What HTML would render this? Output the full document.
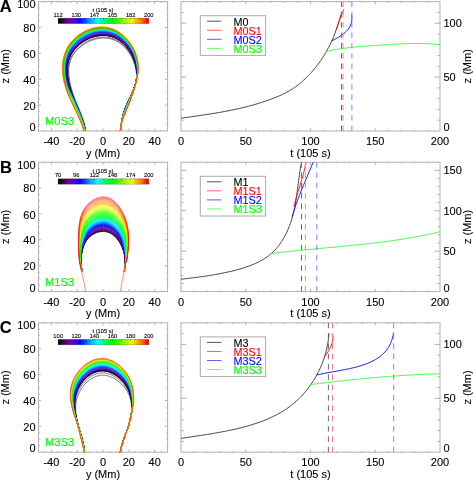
<!DOCTYPE html>
<html><head><meta charset="utf-8"><style>html,body{margin:0;padding:0;background:#fff;}svg{display:block;will-change:transform;}</style></head>
<body><svg width="473" height="480" viewBox="0 0 473 480" font-family='"Liberation Sans", sans-serif'>
<rect width="473" height="480" fill="#fff"/>
<defs>
<clipPath id="cl0"><rect x="38.5" y="1.6" width="129.1" height="129.4"/></clipPath>
<clipPath id="cr0"><rect x="181.0" y="1.6" width="259" height="129.4"/></clipPath>
<clipPath id="cl1"><rect x="38.5" y="162.2" width="129.1" height="129.4"/></clipPath>
<clipPath id="cl1b"><rect x="38.5" y="162.2" width="129.1" height="109.8"/></clipPath>
<clipPath id="cl1c"><rect x="38.5" y="268" width="129.1" height="23.6"/></clipPath>
<clipPath id="cr1"><rect x="181.0" y="162.2" width="259" height="129.4"/></clipPath>
<clipPath id="cl2"><rect x="38.5" y="322.8" width="129.1" height="129.4"/></clipPath>
<clipPath id="cr2"><rect x="181.0" y="322.8" width="259" height="129.4"/></clipPath>
<clipPath id="legA"><rect x="104" y="84" width="50" height="47"/></clipPath>
<clipPath id="legC"><rect x="104" y="414" width="50" height="38.2"/></clipPath>
</defs>
<text x="-0.2" y="11.5" font-size="16.5" font-weight="bold" stroke="#000" stroke-width="0.1" >A</text>
<path d="M44.95 131v-1.29M44.95 1.6v1.29M51.41 131v-2.59M51.41 1.6v2.59M57.86 131v-1.29M57.86 1.6v1.29M64.32 131v-1.29M64.32 1.6v1.29M70.78 131v-1.29M70.78 1.6v1.29M77.23 131v-2.59M77.23 1.6v2.59M83.69 131v-1.29M83.69 1.6v1.29M90.14 131v-1.29M90.14 1.6v1.29M96.59 131v-1.29M96.59 1.6v1.29M103.05 131v-2.59M103.05 1.6v2.59M109.51 131v-1.29M109.51 1.6v1.29M115.96 131v-1.29M115.96 1.6v1.29M122.42 131v-1.29M122.42 1.6v1.29M128.87 131v-2.59M128.87 1.6v2.59M135.32 131v-1.29M135.32 1.6v1.29M141.78 131v-1.29M141.78 1.6v1.29M148.23 131v-1.29M148.23 1.6v1.29M154.69 131v-2.59M154.69 1.6v2.59M161.14 131v-1.29M161.14 1.6v1.29M38.5 124.53h1.29M167.6 124.53h-1.29M38.5 118.06h1.29M167.6 118.06h-1.29M38.5 111.59h1.29M167.6 111.59h-1.29M38.5 105.12h2.58M167.6 105.12h-2.58M38.5 98.65h1.29M167.6 98.65h-1.29M38.5 92.18h1.29M167.6 92.18h-1.29M38.5 85.71h1.29M167.6 85.71h-1.29M38.5 79.24h2.58M167.6 79.24h-2.58M38.5 72.77h1.29M167.6 72.77h-1.29M38.5 66.3h1.29M167.6 66.3h-1.29M38.5 59.83h1.29M167.6 59.83h-1.29M38.5 53.36h2.58M167.6 53.36h-2.58M38.5 46.89h1.29M167.6 46.89h-1.29M38.5 40.42h1.29M167.6 40.42h-1.29M38.5 33.95h1.29M167.6 33.95h-1.29M38.5 27.48h2.58M167.6 27.48h-2.58M38.5 21.01h1.29M167.6 21.01h-1.29M38.5 14.54h1.29M167.6 14.54h-1.29M38.5 8.07h1.29M167.6 8.07h-1.29" stroke="#b0b0b0" stroke-width="1.0" fill="none"/>
<rect x="38.5" y="1.6" width="129.1" height="129.4" fill="none" stroke="#b0b0b0" stroke-width="1.0"/>
<text x="35.6" y="8.1" font-size="11.0" text-anchor="end" stroke="#000" stroke-width="0.1" >100</text>
<text x="35.6" y="31.7" font-size="11.0" text-anchor="end" stroke="#000" stroke-width="0.1" >80</text>
<text x="35.6" y="58" font-size="11.0" text-anchor="end" stroke="#000" stroke-width="0.1" >60</text>
<text x="35.6" y="83.6" font-size="11.0" text-anchor="end" stroke="#000" stroke-width="0.1" >40</text>
<text x="35.6" y="109.6" font-size="11.0" text-anchor="end" stroke="#000" stroke-width="0.1" >20</text>
<text x="35.6" y="131.2" font-size="11.0" text-anchor="end" stroke="#000" stroke-width="0.1" >0</text>
<text x="51.41" y="145.1" font-size="11.0" text-anchor="middle" stroke="#000" stroke-width="0.1" >-40</text>
<text x="77.23" y="145.1" font-size="11.0" text-anchor="middle" stroke="#000" stroke-width="0.1" >-20</text>
<text x="103.05" y="145.1" font-size="11.0" text-anchor="middle" stroke="#000" stroke-width="0.1" >0</text>
<text x="128.87" y="145.1" font-size="11.0" text-anchor="middle" stroke="#000" stroke-width="0.1" >20</text>
<text x="154.69" y="145.1" font-size="11.0" text-anchor="middle" stroke="#000" stroke-width="0.1" >40</text>
<text x="103" y="156.7" font-size="11.0" text-anchor="middle" stroke="#000" stroke-width="0.1" >y (Mm)</text>
<text x="9.3" y="66.3" font-size="11.0" text-anchor="middle" stroke="#000" stroke-width="0.1" transform="rotate(-90 9.3 66.3)">z (Mm)</text>
<path d="M193.95 131v-1.29M193.95 1.6v1.29M206.9 131v-1.29M206.9 1.6v1.29M219.85 131v-1.29M219.85 1.6v1.29M232.8 131v-1.29M232.8 1.6v1.29M245.75 131v-2.59M245.75 1.6v2.59M258.7 131v-1.29M258.7 1.6v1.29M271.65 131v-1.29M271.65 1.6v1.29M284.6 131v-1.29M284.6 1.6v1.29M297.55 131v-1.29M297.55 1.6v1.29M310.5 131v-2.59M310.5 1.6v2.59M323.45 131v-1.29M323.45 1.6v1.29M336.4 131v-1.29M336.4 1.6v1.29M349.35 131v-1.29M349.35 1.6v1.29M362.3 131v-1.29M362.3 1.6v1.29M375.25 131v-2.59M375.25 1.6v2.59M388.2 131v-1.29M388.2 1.6v1.29M401.15 131v-1.29M401.15 1.6v1.29M414.1 131v-1.29M414.1 1.6v1.29M427.05 131v-1.29M427.05 1.6v1.29M181 120.22h2.59M440 120.22h-2.59M181 109.43h2.59M440 109.43h-2.59M181 98.65h2.59M440 98.65h-2.59M181 87.87h2.59M440 87.87h-2.59M181 77.08h5.18M440 77.08h-5.18M181 66.3h2.59M440 66.3h-2.59M181 55.52h2.59M440 55.52h-2.59M181 44.73h2.59M440 44.73h-2.59M181 33.95h2.59M440 33.95h-2.59M181 23.17h5.18M440 23.17h-5.18M181 12.38h2.59M440 12.38h-2.59" stroke="#b0b0b0" stroke-width="1.0" fill="none"/>
<rect x="181" y="1.6" width="259" height="129.4" fill="none" stroke="#b0b0b0" stroke-width="1.0"/>
<text x="181" y="145.1" font-size="11.0" text-anchor="middle" stroke="#000" stroke-width="0.1" >0</text>
<text x="245.75" y="145.1" font-size="11.0" text-anchor="middle" stroke="#000" stroke-width="0.1" >50</text>
<text x="310.5" y="145.1" font-size="11.0" text-anchor="middle" stroke="#000" stroke-width="0.1" >100</text>
<text x="375.25" y="145.1" font-size="11.0" text-anchor="middle" stroke="#000" stroke-width="0.1" >150</text>
<text x="440" y="145.1" font-size="11.0" text-anchor="middle" stroke="#000" stroke-width="0.1" >200</text>
<text x="310.5" y="156.7" font-size="11.0" text-anchor="middle" stroke="#000" stroke-width="0.1" >t (105 s)</text>
<text x="443.5" y="27.17" font-size="11.0" stroke="#000" stroke-width="0.1" >100</text>
<text x="443.5" y="81.08" font-size="11.0" stroke="#000" stroke-width="0.1" >50</text>
<text x="443.5" y="131.2" font-size="11.0" stroke="#000" stroke-width="0.1" >0</text>
<text x="471" y="66.3" font-size="11.0" text-anchor="middle" stroke="#000" stroke-width="0.1" transform="rotate(-90 471.0 66.3)">z (Mm)</text>
<rect x="200.3" y="15.7" width="65.3" height="39.7" fill="none" stroke="#ababab" stroke-width="1"/>
<line x1="207" y1="21.2" x2="221.4" y2="21.2" stroke="#555" stroke-width="1"/>
<text x="233.5" y="25.7" font-size="10.8" stroke="#000" stroke-width="0.1" >M0</text>
<line x1="207" y1="30.25" x2="221.4" y2="30.25" stroke="#ff6060" stroke-width="1"/>
<text x="233.5" y="34.65" font-size="10.8" fill="#ff0000" stroke="#ff0000" stroke-width="0.1" >M0S1</text>
<line x1="207" y1="39.3" x2="221.4" y2="39.3" stroke="#6060ff" stroke-width="1"/>
<text x="233.5" y="43.6" font-size="10.8" fill="#0000ff" stroke="#0000ff" stroke-width="0.1" >M0S2</text>
<line x1="207" y1="48.35" x2="221.4" y2="48.35" stroke="#60ff60" stroke-width="1"/>
<text x="233.5" y="52.55" font-size="10.8" fill="#00ff00" stroke="#00ff00" stroke-width="0.1" >M0S3</text>
<defs><linearGradient id="cg0" x1="0" x2="1" y1="0" y2="0"><stop offset="0.0" stop-color="#000000"/><stop offset="0.04" stop-color="#280032"/><stop offset="0.1" stop-color="#640096"/><stop offset="0.14" stop-color="#6e00aa"/><stop offset="0.175" stop-color="#5000d2"/><stop offset="0.21" stop-color="#1410ff"/><stop offset="0.24" stop-color="#0000ff"/><stop offset="0.3" stop-color="#0050ff"/><stop offset="0.35" stop-color="#00a0ff"/><stop offset="0.41" stop-color="#00e0ff"/><stop offset="0.43" stop-color="#00ffff"/><stop offset="0.47" stop-color="#00ffb0"/><stop offset="0.5" stop-color="#00ff80"/><stop offset="0.55" stop-color="#00ff20"/><stop offset="0.61" stop-color="#00ff00"/><stop offset="0.69" stop-color="#60ff00"/><stop offset="0.75" stop-color="#a0ff00"/><stop offset="0.81" stop-color="#ffff00"/><stop offset="0.85" stop-color="#ffc000"/><stop offset="0.9" stop-color="#ff9000"/><stop offset="0.94" stop-color="#ff5000"/><stop offset="0.985" stop-color="#ff0000"/><stop offset="1.0" stop-color="#ff0000"/></linearGradient></defs>
<rect x="58.1" y="18.2" width="90.7" height="5.4" fill="url(#cg0)" stroke="#000" stroke-opacity="0.35" stroke-width="0.6"/>
<path d="M67.17 18.2v1.3M76.24 18.2v1.3M85.31 18.2v1.3M94.38 18.2v1.3M103.45 18.2v1.3M112.52 18.2v1.3M121.59 18.2v1.3M130.66 18.2v1.3M139.73 18.2v1.3" stroke="#000" stroke-opacity="0.55" stroke-width="0.7"/>
<text x="58.1" y="16.5" font-size="5.7" text-anchor="middle" stroke="#000" stroke-width="0.1" >112</text>
<text x="76.24" y="16.5" font-size="5.7" text-anchor="middle" stroke="#000" stroke-width="0.1" >130</text>
<text x="94.38" y="16.5" font-size="5.7" text-anchor="middle" stroke="#000" stroke-width="0.1" >147</text>
<text x="112.52" y="16.5" font-size="5.7" text-anchor="middle" stroke="#000" stroke-width="0.1" >165</text>
<text x="130.66" y="16.5" font-size="5.7" text-anchor="middle" stroke="#000" stroke-width="0.1" >182</text>
<text x="148.8" y="16.5" font-size="5.7" text-anchor="middle" stroke="#000" stroke-width="0.1" >200</text>
<text x="103" y="12" font-size="5.7" text-anchor="middle" stroke="#000" stroke-width="0.1" >t (105 s)</text>
<text x="45" y="125.1" font-size="11.2" fill="#00ff00" stroke="#00ff00" stroke-width="0.1" >M0S3</text>
<text x="-0.1" y="172.5" font-size="16.5" font-weight="bold" stroke="#000" stroke-width="0.1" >B</text>
<path d="M44.95 291.6v-1.29M44.95 162.2v1.29M51.41 291.6v-2.59M51.41 162.2v2.59M57.86 291.6v-1.29M57.86 162.2v1.29M64.32 291.6v-1.29M64.32 162.2v1.29M70.78 291.6v-1.29M70.78 162.2v1.29M77.23 291.6v-2.59M77.23 162.2v2.59M83.69 291.6v-1.29M83.69 162.2v1.29M90.14 291.6v-1.29M90.14 162.2v1.29M96.59 291.6v-1.29M96.59 162.2v1.29M103.05 291.6v-2.59M103.05 162.2v2.59M109.51 291.6v-1.29M109.51 162.2v1.29M115.96 291.6v-1.29M115.96 162.2v1.29M122.42 291.6v-1.29M122.42 162.2v1.29M128.87 291.6v-2.59M128.87 162.2v2.59M135.32 291.6v-1.29M135.32 162.2v1.29M141.78 291.6v-1.29M141.78 162.2v1.29M148.23 291.6v-1.29M148.23 162.2v1.29M154.69 291.6v-2.59M154.69 162.2v2.59M161.14 291.6v-1.29M161.14 162.2v1.29M38.5 285.13h1.29M167.6 285.13h-1.29M38.5 278.66h1.29M167.6 278.66h-1.29M38.5 272.19h1.29M167.6 272.19h-1.29M38.5 265.72h2.58M167.6 265.72h-2.58M38.5 259.25h1.29M167.6 259.25h-1.29M38.5 252.78h1.29M167.6 252.78h-1.29M38.5 246.31h1.29M167.6 246.31h-1.29M38.5 239.84h2.58M167.6 239.84h-2.58M38.5 233.37h1.29M167.6 233.37h-1.29M38.5 226.9h1.29M167.6 226.9h-1.29M38.5 220.43h1.29M167.6 220.43h-1.29M38.5 213.96h2.58M167.6 213.96h-2.58M38.5 207.49h1.29M167.6 207.49h-1.29M38.5 201.02h1.29M167.6 201.02h-1.29M38.5 194.55h1.29M167.6 194.55h-1.29M38.5 188.08h2.58M167.6 188.08h-2.58M38.5 181.61h1.29M167.6 181.61h-1.29M38.5 175.14h1.29M167.6 175.14h-1.29M38.5 168.67h1.29M167.6 168.67h-1.29" stroke="#b0b0b0" stroke-width="1.0" fill="none"/>
<rect x="38.5" y="162.2" width="129.1" height="129.4" fill="none" stroke="#b0b0b0" stroke-width="1.0"/>
<text x="35.6" y="168.7" font-size="11.0" text-anchor="end" stroke="#000" stroke-width="0.1" >100</text>
<text x="35.6" y="192.3" font-size="11.0" text-anchor="end" stroke="#000" stroke-width="0.1" >80</text>
<text x="35.6" y="218.6" font-size="11.0" text-anchor="end" stroke="#000" stroke-width="0.1" >60</text>
<text x="35.6" y="244.2" font-size="11.0" text-anchor="end" stroke="#000" stroke-width="0.1" >40</text>
<text x="35.6" y="270.2" font-size="11.0" text-anchor="end" stroke="#000" stroke-width="0.1" >20</text>
<text x="35.6" y="291.8" font-size="11.0" text-anchor="end" stroke="#000" stroke-width="0.1" >0</text>
<text x="51.41" y="305.7" font-size="11.0" text-anchor="middle" stroke="#000" stroke-width="0.1" >-40</text>
<text x="77.23" y="305.7" font-size="11.0" text-anchor="middle" stroke="#000" stroke-width="0.1" >-20</text>
<text x="103.05" y="305.7" font-size="11.0" text-anchor="middle" stroke="#000" stroke-width="0.1" >0</text>
<text x="128.87" y="305.7" font-size="11.0" text-anchor="middle" stroke="#000" stroke-width="0.1" >20</text>
<text x="154.69" y="305.7" font-size="11.0" text-anchor="middle" stroke="#000" stroke-width="0.1" >40</text>
<text x="103" y="317.3" font-size="11.0" text-anchor="middle" stroke="#000" stroke-width="0.1" >y (Mm)</text>
<text x="9.3" y="226.9" font-size="11.0" text-anchor="middle" stroke="#000" stroke-width="0.1" transform="rotate(-90 9.3 226.9)">z (Mm)</text>
<path d="M193.95 291.6v-1.29M193.95 162.2v1.29M206.9 291.6v-1.29M206.9 162.2v1.29M219.85 291.6v-1.29M219.85 162.2v1.29M232.8 291.6v-1.29M232.8 162.2v1.29M245.75 291.6v-2.59M245.75 162.2v2.59M258.7 291.6v-1.29M258.7 162.2v1.29M271.65 291.6v-1.29M271.65 162.2v1.29M284.6 291.6v-1.29M284.6 162.2v1.29M297.55 291.6v-1.29M297.55 162.2v1.29M310.5 291.6v-2.59M310.5 162.2v2.59M323.45 291.6v-1.29M323.45 162.2v1.29M336.4 291.6v-1.29M336.4 162.2v1.29M349.35 291.6v-1.29M349.35 162.2v1.29M362.3 291.6v-1.29M362.3 162.2v1.29M375.25 291.6v-2.59M375.25 162.2v2.59M388.2 291.6v-1.29M388.2 162.2v1.29M401.15 291.6v-1.29M401.15 162.2v1.29M414.1 291.6v-1.29M414.1 162.2v1.29M427.05 291.6v-1.29M427.05 162.2v1.29M181 283.51h2.59M440 283.51h-2.59M181 275.43h2.59M440 275.43h-2.59M181 267.34h2.59M440 267.34h-2.59M181 259.25h2.59M440 259.25h-2.59M181 251.16h5.18M440 251.16h-5.18M181 243.08h2.59M440 243.08h-2.59M181 234.99h2.59M440 234.99h-2.59M181 226.9h2.59M440 226.9h-2.59M181 218.81h2.59M440 218.81h-2.59M181 210.73h5.18M440 210.73h-5.18M181 202.64h2.59M440 202.64h-2.59M181 194.55h2.59M440 194.55h-2.59M181 186.46h2.59M440 186.46h-2.59M181 178.38h2.59M440 178.38h-2.59M181 170.29h5.18M440 170.29h-5.18" stroke="#b0b0b0" stroke-width="1.0" fill="none"/>
<rect x="181" y="162.2" width="259" height="129.4" fill="none" stroke="#b0b0b0" stroke-width="1.0"/>
<text x="181" y="305.7" font-size="11.0" text-anchor="middle" stroke="#000" stroke-width="0.1" >0</text>
<text x="245.75" y="305.7" font-size="11.0" text-anchor="middle" stroke="#000" stroke-width="0.1" >50</text>
<text x="310.5" y="305.7" font-size="11.0" text-anchor="middle" stroke="#000" stroke-width="0.1" >100</text>
<text x="375.25" y="305.7" font-size="11.0" text-anchor="middle" stroke="#000" stroke-width="0.1" >150</text>
<text x="440" y="305.7" font-size="11.0" text-anchor="middle" stroke="#000" stroke-width="0.1" >200</text>
<text x="310.5" y="317.3" font-size="11.0" text-anchor="middle" stroke="#000" stroke-width="0.1" >t (105 s)</text>
<text x="443.5" y="174.29" font-size="11.0" stroke="#000" stroke-width="0.1" >150</text>
<text x="443.5" y="214.73" font-size="11.0" stroke="#000" stroke-width="0.1" >100</text>
<text x="443.5" y="255.16" font-size="11.0" stroke="#000" stroke-width="0.1" >50</text>
<text x="443.5" y="291.8" font-size="11.0" stroke="#000" stroke-width="0.1" >0</text>
<text x="471" y="226.9" font-size="11.0" text-anchor="middle" stroke="#000" stroke-width="0.1" transform="rotate(-90 471.0 226.9)">z (Mm)</text>
<rect x="200.3" y="176.3" width="65.3" height="39.7" fill="none" stroke="#ababab" stroke-width="1"/>
<line x1="207" y1="181.8" x2="221.4" y2="181.8" stroke="#555" stroke-width="1"/>
<text x="233.5" y="186.3" font-size="10.8" stroke="#000" stroke-width="0.1" >M1</text>
<line x1="207" y1="190.85" x2="221.4" y2="190.85" stroke="#ff6060" stroke-width="1"/>
<text x="233.5" y="195.25" font-size="10.8" fill="#ff0000" stroke="#ff0000" stroke-width="0.1" >M1S1</text>
<line x1="207" y1="199.9" x2="221.4" y2="199.9" stroke="#6060ff" stroke-width="1"/>
<text x="233.5" y="204.2" font-size="10.8" fill="#0000ff" stroke="#0000ff" stroke-width="0.1" >M1S2</text>
<line x1="207" y1="208.95" x2="221.4" y2="208.95" stroke="#60ff60" stroke-width="1"/>
<text x="233.5" y="213.15" font-size="10.8" fill="#00ff00" stroke="#00ff00" stroke-width="0.1" >M1S3</text>
<defs><linearGradient id="cg1" x1="0" x2="1" y1="0" y2="0"><stop offset="0.0" stop-color="#000000"/><stop offset="0.04" stop-color="#280032"/><stop offset="0.1" stop-color="#640096"/><stop offset="0.14" stop-color="#6e00aa"/><stop offset="0.175" stop-color="#5000d2"/><stop offset="0.21" stop-color="#1410ff"/><stop offset="0.24" stop-color="#0000ff"/><stop offset="0.3" stop-color="#0050ff"/><stop offset="0.35" stop-color="#00a0ff"/><stop offset="0.41" stop-color="#00e0ff"/><stop offset="0.43" stop-color="#00ffff"/><stop offset="0.47" stop-color="#00ffb0"/><stop offset="0.5" stop-color="#00ff80"/><stop offset="0.55" stop-color="#00ff20"/><stop offset="0.61" stop-color="#00ff00"/><stop offset="0.69" stop-color="#60ff00"/><stop offset="0.75" stop-color="#a0ff00"/><stop offset="0.81" stop-color="#ffff00"/><stop offset="0.85" stop-color="#ffc000"/><stop offset="0.9" stop-color="#ff9000"/><stop offset="0.94" stop-color="#ff5000"/><stop offset="0.985" stop-color="#ff0000"/><stop offset="1.0" stop-color="#ff0000"/></linearGradient></defs>
<rect x="58.1" y="178.8" width="90.7" height="5.4" fill="url(#cg1)" stroke="#000" stroke-opacity="0.35" stroke-width="0.6"/>
<path d="M67.17 178.8v1.3M76.24 178.8v1.3M85.31 178.8v1.3M94.38 178.8v1.3M103.45 178.8v1.3M112.52 178.8v1.3M121.59 178.8v1.3M130.66 178.8v1.3M139.73 178.8v1.3" stroke="#000" stroke-opacity="0.55" stroke-width="0.7"/>
<text x="58.1" y="177.1" font-size="5.7" text-anchor="middle" stroke="#000" stroke-width="0.1" >70</text>
<text x="76.24" y="177.1" font-size="5.7" text-anchor="middle" stroke="#000" stroke-width="0.1" >96</text>
<text x="94.38" y="177.1" font-size="5.7" text-anchor="middle" stroke="#000" stroke-width="0.1" >122</text>
<text x="112.52" y="177.1" font-size="5.7" text-anchor="middle" stroke="#000" stroke-width="0.1" >148</text>
<text x="130.66" y="177.1" font-size="5.7" text-anchor="middle" stroke="#000" stroke-width="0.1" >174</text>
<text x="148.8" y="177.1" font-size="5.7" text-anchor="middle" stroke="#000" stroke-width="0.1" >200</text>
<text x="103" y="172.6" font-size="5.7" text-anchor="middle" stroke="#000" stroke-width="0.1" >t (105 s)</text>
<text x="45" y="285.7" font-size="11.2" fill="#00ff00" stroke="#00ff00" stroke-width="0.1" >M1S3</text>
<text x="-0.3" y="333.1" font-size="16.5" font-weight="bold" stroke="#000" stroke-width="0.1" >C</text>
<path d="M44.95 452.2v-1.29M44.95 322.8v1.29M51.41 452.2v-2.59M51.41 322.8v2.59M57.86 452.2v-1.29M57.86 322.8v1.29M64.32 452.2v-1.29M64.32 322.8v1.29M70.78 452.2v-1.29M70.78 322.8v1.29M77.23 452.2v-2.59M77.23 322.8v2.59M83.69 452.2v-1.29M83.69 322.8v1.29M90.14 452.2v-1.29M90.14 322.8v1.29M96.59 452.2v-1.29M96.59 322.8v1.29M103.05 452.2v-2.59M103.05 322.8v2.59M109.51 452.2v-1.29M109.51 322.8v1.29M115.96 452.2v-1.29M115.96 322.8v1.29M122.42 452.2v-1.29M122.42 322.8v1.29M128.87 452.2v-2.59M128.87 322.8v2.59M135.32 452.2v-1.29M135.32 322.8v1.29M141.78 452.2v-1.29M141.78 322.8v1.29M148.23 452.2v-1.29M148.23 322.8v1.29M154.69 452.2v-2.59M154.69 322.8v2.59M161.14 452.2v-1.29M161.14 322.8v1.29M38.5 445.73h1.29M167.6 445.73h-1.29M38.5 439.26h1.29M167.6 439.26h-1.29M38.5 432.79h1.29M167.6 432.79h-1.29M38.5 426.32h2.58M167.6 426.32h-2.58M38.5 419.85h1.29M167.6 419.85h-1.29M38.5 413.38h1.29M167.6 413.38h-1.29M38.5 406.91h1.29M167.6 406.91h-1.29M38.5 400.44h2.58M167.6 400.44h-2.58M38.5 393.97h1.29M167.6 393.97h-1.29M38.5 387.5h1.29M167.6 387.5h-1.29M38.5 381.03h1.29M167.6 381.03h-1.29M38.5 374.56h2.58M167.6 374.56h-2.58M38.5 368.09h1.29M167.6 368.09h-1.29M38.5 361.62h1.29M167.6 361.62h-1.29M38.5 355.15h1.29M167.6 355.15h-1.29M38.5 348.68h2.58M167.6 348.68h-2.58M38.5 342.21h1.29M167.6 342.21h-1.29M38.5 335.74h1.29M167.6 335.74h-1.29M38.5 329.27h1.29M167.6 329.27h-1.29" stroke="#b0b0b0" stroke-width="1.0" fill="none"/>
<rect x="38.5" y="322.8" width="129.1" height="129.4" fill="none" stroke="#b0b0b0" stroke-width="1.0"/>
<text x="35.6" y="329.3" font-size="11.0" text-anchor="end" stroke="#000" stroke-width="0.1" >100</text>
<text x="35.6" y="352.9" font-size="11.0" text-anchor="end" stroke="#000" stroke-width="0.1" >80</text>
<text x="35.6" y="379.2" font-size="11.0" text-anchor="end" stroke="#000" stroke-width="0.1" >60</text>
<text x="35.6" y="404.8" font-size="11.0" text-anchor="end" stroke="#000" stroke-width="0.1" >40</text>
<text x="35.6" y="430.8" font-size="11.0" text-anchor="end" stroke="#000" stroke-width="0.1" >20</text>
<text x="35.6" y="452.4" font-size="11.0" text-anchor="end" stroke="#000" stroke-width="0.1" >0</text>
<text x="51.41" y="466.3" font-size="11.0" text-anchor="middle" stroke="#000" stroke-width="0.1" >-40</text>
<text x="77.23" y="466.3" font-size="11.0" text-anchor="middle" stroke="#000" stroke-width="0.1" >-20</text>
<text x="103.05" y="466.3" font-size="11.0" text-anchor="middle" stroke="#000" stroke-width="0.1" >0</text>
<text x="128.87" y="466.3" font-size="11.0" text-anchor="middle" stroke="#000" stroke-width="0.1" >20</text>
<text x="154.69" y="466.3" font-size="11.0" text-anchor="middle" stroke="#000" stroke-width="0.1" >40</text>
<text x="103" y="477.9" font-size="11.0" text-anchor="middle" stroke="#000" stroke-width="0.1" >y (Mm)</text>
<text x="9.3" y="387.5" font-size="11.0" text-anchor="middle" stroke="#000" stroke-width="0.1" transform="rotate(-90 9.3 387.5)">z (Mm)</text>
<path d="M193.95 452.2v-1.29M193.95 322.8v1.29M206.9 452.2v-1.29M206.9 322.8v1.29M219.85 452.2v-1.29M219.85 322.8v1.29M232.8 452.2v-1.29M232.8 322.8v1.29M245.75 452.2v-2.59M245.75 322.8v2.59M258.7 452.2v-1.29M258.7 322.8v1.29M271.65 452.2v-1.29M271.65 322.8v1.29M284.6 452.2v-1.29M284.6 322.8v1.29M297.55 452.2v-1.29M297.55 322.8v1.29M310.5 452.2v-2.59M310.5 322.8v2.59M323.45 452.2v-1.29M323.45 322.8v1.29M336.4 452.2v-1.29M336.4 322.8v1.29M349.35 452.2v-1.29M349.35 322.8v1.29M362.3 452.2v-1.29M362.3 322.8v1.29M375.25 452.2v-2.59M375.25 322.8v2.59M388.2 452.2v-1.29M388.2 322.8v1.29M401.15 452.2v-1.29M401.15 322.8v1.29M414.1 452.2v-1.29M414.1 322.8v1.29M427.05 452.2v-1.29M427.05 322.8v1.29M181 441.42h2.59M440 441.42h-2.59M181 430.63h2.59M440 430.63h-2.59M181 419.85h2.59M440 419.85h-2.59M181 409.07h2.59M440 409.07h-2.59M181 398.28h5.18M440 398.28h-5.18M181 387.5h2.59M440 387.5h-2.59M181 376.72h2.59M440 376.72h-2.59M181 365.93h2.59M440 365.93h-2.59M181 355.15h2.59M440 355.15h-2.59M181 344.37h5.18M440 344.37h-5.18M181 333.58h2.59M440 333.58h-2.59" stroke="#b0b0b0" stroke-width="1.0" fill="none"/>
<rect x="181" y="322.8" width="259" height="129.4" fill="none" stroke="#b0b0b0" stroke-width="1.0"/>
<text x="181" y="466.3" font-size="11.0" text-anchor="middle" stroke="#000" stroke-width="0.1" >0</text>
<text x="245.75" y="466.3" font-size="11.0" text-anchor="middle" stroke="#000" stroke-width="0.1" >50</text>
<text x="310.5" y="466.3" font-size="11.0" text-anchor="middle" stroke="#000" stroke-width="0.1" >100</text>
<text x="375.25" y="466.3" font-size="11.0" text-anchor="middle" stroke="#000" stroke-width="0.1" >150</text>
<text x="440" y="466.3" font-size="11.0" text-anchor="middle" stroke="#000" stroke-width="0.1" >200</text>
<text x="310.5" y="477.9" font-size="11.0" text-anchor="middle" stroke="#000" stroke-width="0.1" >t (105 s)</text>
<text x="443.5" y="348.37" font-size="11.0" stroke="#000" stroke-width="0.1" >100</text>
<text x="443.5" y="402.28" font-size="11.0" stroke="#000" stroke-width="0.1" >50</text>
<text x="443.5" y="452.4" font-size="11.0" stroke="#000" stroke-width="0.1" >0</text>
<text x="471" y="387.5" font-size="11.0" text-anchor="middle" stroke="#000" stroke-width="0.1" transform="rotate(-90 471.0 387.5)">z (Mm)</text>
<rect x="200.3" y="336.9" width="65.3" height="39.7" fill="none" stroke="#ababab" stroke-width="1"/>
<line x1="207" y1="342.4" x2="221.4" y2="342.4" stroke="#555" stroke-width="1"/>
<text x="233.5" y="346.9" font-size="10.8" stroke="#000" stroke-width="0.1" >M3</text>
<line x1="207" y1="351.45" x2="221.4" y2="351.45" stroke="#ff6060" stroke-width="1"/>
<text x="233.5" y="355.85" font-size="10.8" fill="#ff0000" stroke="#ff0000" stroke-width="0.1" >M3S1</text>
<line x1="207" y1="360.5" x2="221.4" y2="360.5" stroke="#6060ff" stroke-width="1"/>
<text x="233.5" y="364.8" font-size="10.8" fill="#0000ff" stroke="#0000ff" stroke-width="0.1" >M3S2</text>
<line x1="207" y1="369.55" x2="221.4" y2="369.55" stroke="#60ff60" stroke-width="1"/>
<text x="233.5" y="373.75" font-size="10.8" fill="#00ff00" stroke="#00ff00" stroke-width="0.1" >M3S3</text>
<defs><linearGradient id="cg2" x1="0" x2="1" y1="0" y2="0"><stop offset="0.0" stop-color="#000000"/><stop offset="0.04" stop-color="#280032"/><stop offset="0.1" stop-color="#640096"/><stop offset="0.14" stop-color="#6e00aa"/><stop offset="0.175" stop-color="#5000d2"/><stop offset="0.21" stop-color="#1410ff"/><stop offset="0.24" stop-color="#0000ff"/><stop offset="0.3" stop-color="#0050ff"/><stop offset="0.35" stop-color="#00a0ff"/><stop offset="0.41" stop-color="#00e0ff"/><stop offset="0.43" stop-color="#00ffff"/><stop offset="0.47" stop-color="#00ffb0"/><stop offset="0.5" stop-color="#00ff80"/><stop offset="0.55" stop-color="#00ff20"/><stop offset="0.61" stop-color="#00ff00"/><stop offset="0.69" stop-color="#60ff00"/><stop offset="0.75" stop-color="#a0ff00"/><stop offset="0.81" stop-color="#ffff00"/><stop offset="0.85" stop-color="#ffc000"/><stop offset="0.9" stop-color="#ff9000"/><stop offset="0.94" stop-color="#ff5000"/><stop offset="0.985" stop-color="#ff0000"/><stop offset="1.0" stop-color="#ff0000"/></linearGradient></defs>
<rect x="58.1" y="339.4" width="90.7" height="5.4" fill="url(#cg2)" stroke="#000" stroke-opacity="0.35" stroke-width="0.6"/>
<path d="M67.17 339.4v1.3M76.24 339.4v1.3M85.31 339.4v1.3M94.38 339.4v1.3M103.45 339.4v1.3M112.52 339.4v1.3M121.59 339.4v1.3M130.66 339.4v1.3M139.73 339.4v1.3" stroke="#000" stroke-opacity="0.55" stroke-width="0.7"/>
<text x="58.1" y="337.7" font-size="5.7" text-anchor="middle" stroke="#000" stroke-width="0.1" >100</text>
<text x="76.24" y="337.7" font-size="5.7" text-anchor="middle" stroke="#000" stroke-width="0.1" >120</text>
<text x="94.38" y="337.7" font-size="5.7" text-anchor="middle" stroke="#000" stroke-width="0.1" >140</text>
<text x="112.52" y="337.7" font-size="5.7" text-anchor="middle" stroke="#000" stroke-width="0.1" >160</text>
<text x="130.66" y="337.7" font-size="5.7" text-anchor="middle" stroke="#000" stroke-width="0.1" >180</text>
<text x="148.8" y="337.7" font-size="5.7" text-anchor="middle" stroke="#000" stroke-width="0.1" >200</text>
<text x="103" y="333.2" font-size="5.7" text-anchor="middle" stroke="#000" stroke-width="0.1" >t (105 s)</text>
<text x="45" y="446.3" font-size="11.2" fill="#00ff00" stroke="#00ff00" stroke-width="0.1" >M3S3</text>
<g clip-path="url(#cl0)"><g transform="scale(0.1)" fill="none" stroke-width="4.5" stroke-opacity="1.0" stroke-linejoin="round">
<path d="M861 1315l-9-43-9-35-9-30-9-26-8-23-8-21-8-19-7-19-7-17-7-17-7-16-6-16-6-15-6-15-6-15-6-15-5-15-6-15-5-15-4-16-5-15-5-16-4-16-4-16-4-17-3-18-3-17-3-19-2-19-2-19-1-20 0-20 2-21 2-21 4-21 6-21 7-20 9-20 11-20 12-18 13-18 15-17 16-16 17-15 18-14 19-14 20-12 20-11 21-10 22-9 23-7 23-6 23-5 24-3 24-1 24 1 24 3 24 5 22 7 22 9 22 12 20 12 18 15 18 15 17 16 15 18 14 17 13 18 12 19 10 19 10 19 9 19 7 19 7 19 6 19 4 19 4 19 3 19 2 18 1 19-1 18-1 18-3 18-4 17-4 17-5 17-6 16-5 15-6 15-7 14-6 15-7 13-7 14-6 14-7 13-7 14-7 13-6 15-7 14-6 16-6 16-7 17-6 19-6 21-5 24-6 28-6 32-6 39-6 48" stroke="#282828" stroke-width="6.0"/>
<path d="M860 1318l-10-43-9-35-9-30-8-26-9-23-8-21-8-20-7-18-8-18-7-16-7-17-6-16-7-15-6-15-6-16-5-15-6-15-5-15-6-15-5-16-4-16-5-16-5-16-4-16-4-18-3-17-3-18-3-19-3-19-1-20-1-20 0-21 1-21 3-21 4-21 5-22 8-21 9-20 10-20 13-19 13-18 15-17 16-17 17-16 19-14 19-14 20-13 21-11 22-10 22-9 23-8 24-6 24-5 24-2 24-1 25 1 24 3 24 5 23 8 23 10 21 11 20 14 19 14 18 16 17 17 15 17 14 19 13 18 12 19 11 19 9 20 9 19 7 19 7 20 5 19 5 20 3 19 2 19 2 19 1 19-1 18-2 18-3 18-4 17-4 17-5 17-5 16-6 15-6 15-6 15-7 14-6 14-7 14-6 13-7 14-7 14-6 13-7 15-6 14-7 16-6 16-6 18-7 19-6 20-6 24-6 28-6 32-6 38-6 48" stroke="#282828" stroke-width="6.0"/>
<path d="M858 1324l-10-44-9-35-9-30-9-26-9-23-8-22-8-19-8-19-8-18-7-17-7-16-7-16-7-16-6-15-7-16-6-15-5-16-6-15-6-16-5-15-5-16-5-17-5-16-4-18-4-17-4-18-3-19-3-19-3-19-1-21-1-20 0-22 1-21 3-22 3-22 6-22 7-22 9-21 11-21 12-20 14-19 15-18 17-18 17-16 19-15 20-15 21-13 21-12 23-10 23-10 24-8 24-6 25-4 25-3 26-1 25 2 25 4 25 6 23 8 23 10 22 13 21 14 19 15 19 17 16 17 16 19 14 18 13 20 12 20 11 19 9 20 8 21 7 20 6 20 5 20 4 20 3 20 2 19 1 19 0 19-1 19-2 18-3 18-4 17-5 17-5 17-5 16-5 15-6 15-6 15-7 14-6 14-6 14-7 14-6 14-6 14-7 14-6 15-7 14-6 16-7 16-6 18-7 19-6 21-7 23-6 27-7 31-6 38-6 48" stroke="#000000" stroke-width="9.0"/>
<path d="M858 1324l-10-44-9-35-9-30-9-26-9-23-8-22-9-19-7-19-8-18-7-16-7-17-7-16-7-16-6-15-7-16-6-15-6-15-5-16-6-15-5-16-6-16-5-17-4-16-5-18-4-17-4-18-3-19-3-19-2-20-2-20-1-21 0-21 1-22 3-22 4-22 5-22 7-22 9-21 11-21 12-20 14-19 15-18 17-18 18-16 18-16 20-14 21-13 22-12 22-11 24-9 24-8 24-6 25-5 25-2 26-1 25 1 25 4 25 6 24 9 23 10 22 13 20 14 20 15 18 17 17 17 16 19 14 19 13 19 12 20 10 20 10 20 8 20 7 20 6 21 5 20 4 20 3 19 1 20 1 19 0 19-1 19-2 18-3 18-4 17-5 17-4 17-6 16-5 15-6 15-6 15-7 14-6 14-6 14-6 14-7 14-6 14-7 14-6 15-7 15-6 15-7 16-6 18-7 19-6 21-7 23-6 27-7 31-6 38-6 48" stroke="#0c000f" stroke-width="9.0"/>
<path d="M858 1324l-10-44-9-35-10-30-9-26-8-23-9-21-8-20-7-19-8-17-7-17-7-17-7-16-7-16-7-15-6-16-6-15-6-15-6-16-5-15-6-16-5-16-5-17-5-16-4-18-5-17-3-18-4-19-3-19-2-20-2-20-1-21 0-21 1-22 3-22 4-22 5-23 8-21 9-22 10-21 13-20 13-19 16-18 16-18 18-16 19-16 20-14 21-14 21-12 23-10 23-10 24-7 25-7 25-4 25-3 26-1 25 2 25 4 25 6 24 8 23 11 22 13 21 14 19 15 19 17 16 18 16 18 14 19 13 20 12 19 11 20 9 21 8 20 7 20 6 20 5 20 4 20 3 20 2 20 0 19 0 19-1 19-2 18-3 18-4 17-5 17-4 17-6 16-5 15-6 15-6 15-6 14-7 14-6 14-6 14-7 14-6 14-7 14-6 15-7 15-6 15-7 17-6 17-7 19-6 21-7 23-6 27-7 31-6 38-6 48" stroke="#19001f" stroke-width="9.0"/>
<path d="M858 1324l-10-44-9-35-10-30-9-26-8-23-9-21-8-20-8-19-7-17-7-17-8-17-6-16-7-16-7-15-6-16-6-15-6-15-6-16-6-15-5-16-6-16-5-17-5-16-4-18-4-17-4-18-4-19-3-19-2-20-2-20-1-21 0-22 2-21 2-23 4-22 5-22 8-22 9-22 10-20 13-20 14-20 15-18 16-18 18-17 19-15 20-15 21-13 22-12 23-11 23-9 24-8 25-6 25-5 25-2 26-1 25 2 25 3 25 7 24 8 23 11 22 12 21 15 20 15 18 17 17 18 16 18 14 19 13 20 12 20 10 20 10 20 8 20 7 21 6 20 5 20 3 20 3 20 2 20 1 19-1 19-1 19-2 18-3 18-4 17-4 17-5 17-6 16-5 15-6 15-6 15-6 14-7 14-6 14-6 14-7 14-6 14-7 14-6 15-7 15-6 15-7 17-6 17-7 19-6 21-7 23-6 27-7 31-6 38-6 48" stroke="#250032" stroke-width="9.0"/>
<path d="M857 1324l-9-44-9-35-10-30-9-26-8-23-9-21-8-20-8-19-7-17-8-17-7-17-7-16-6-15-7-16-6-15-6-16-6-15-6-16-6-15-6-16-5-16-5-17-5-16-5-18-4-17-4-18-3-19-3-19-3-20-2-21 0-21 0-21 1-22 2-22 4-22 6-23 7-22 9-21 11-21 12-20 14-20 15-18 17-18 18-17 18-15 20-15 21-13 22-12 23-11 24-10 24-7 25-7 25-4 25-3 26 0 25 1 26 4 24 6 25 9 23 11 22 12 21 15 19 15 18 17 17 18 16 18 14 20 13 19 12 20 11 20 9 21 8 20 7 20 6 21 5 20 4 20 2 20 2 20 1 19-1 19-1 19-2 18-3 18-4 17-4 17-5 17-6 16-5 15-6 15-6 15-6 14-7 14-6 14-6 14-7 14-6 14-7 14-6 15-7 15-6 15-7 17-6 17-7 19-6 21-7 23-6 27-7 31-6 38-6 48" stroke="#330048" stroke-width="9.0"/>
<path d="M857 1324l-9-44-9-35-10-30-9-26-8-23-9-21-8-20-8-18-7-18-8-17-7-17-7-16-6-15-7-16-6-15-7-16-6-15-6-15-5-16-6-16-6-16-5-16-5-17-5-18-4-17-4-18-3-19-3-19-3-20-1-21-1-21 0-21 1-22 2-23 4-22 6-22 7-22 9-22 11-21 12-20 14-20 15-18 17-18 18-17 19-16 20-14 21-14 22-12 23-11 23-9 25-8 24-6 26-5 25-2 26-1 25 2 26 4 25 6 24 9 23 10 22 13 21 15 20 15 18 17 17 18 16 19 14 19 13 20 12 20 10 20 10 20 8 21 7 20 6 21 4 20 4 20 3 20 1 20 1 19-1 19-1 19-2 18-3 18-4 17-4 17-5 17-6 16-5 15-6 15-6 15-6 14-7 14-6 14-6 14-7 14-6 14-7 14-6 15-7 15-6 15-7 17-6 17-6 19-7 21-7 23-6 27-7 31-6 38-6 48" stroke="#41005f" stroke-width="9.0"/>
<path d="M857 1324l-9-44-10-35-9-29-9-26-8-24-9-21-8-20-8-18-7-18-8-17-7-16-7-17-7-15-6-16-6-15-7-16-6-15-6-15-6-16-6-16-5-16-5-16-6-17-5-18-4-17-4-19-3-18-3-20-2-20-2-20-1-21 0-22 1-22 3-22 3-23 6-22 7-22 9-22 11-21 12-20 14-20 15-19 17-17 18-17 19-16 20-15 21-13 22-12 23-11 24-10 24-8 25-6 25-4 26-3 26 0 26 1 25 4 25 7 24 8 23 11 23 13 20 14 20 16 18 17 18 18 15 19 15 19 13 20 11 20 11 20 9 21 8 20 7 21 6 20 5 21 3 20 3 20 2 19 0 20 0 19-2 19-2 18-3 18-4 17-4 17-5 17-6 16-5 15-6 15-6 15-6 14-7 14-6 14-6 14-7 14-6 14-6 14-7 15-6 15-7 15-6 17-7 17-6 19-7 21-7 23-6 27-7 31-6 38-6 48" stroke="#4e0076" stroke-width="9.0"/>
<path d="M857 1324l-9-43-10-36-9-29-9-26-9-24-8-21-8-20-8-18-8-18-7-17-7-16-7-16-7-16-6-16-7-15-6-15-6-16-6-15-7-16-5-16-6-16-6-16-5-17-5-18-4-17-4-19-4-19-3-19-2-20-2-21-1-21 0-21 1-23 3-22 4-23 5-22 7-22 9-22 11-21 13-21 13-20 16-19 17-18 18-17 19-15 20-15 21-14 22-12 23-11 24-10 25-8 25-6 25-4 26-3 26 0 26 1 25 4 25 7 25 9 23 11 22 13 21 14 20 16 18 17 17 18 16 19 15 20 13 20 11 20 11 20 9 21 8 20 7 21 6 21 4 20 4 20 3 20 1 20 0 20 0 19-2 19-2 18-3 18-4 17-4 17-5 17-6 16-5 15-6 15-6 15-6 14-6 14-7 14-6 14-7 14-6 14-6 14-7 15-6 15-7 15-6 17-7 17-6 19-7 21-7 23-6 27-7 31-6 38-6 48" stroke="#54007f" stroke-width="9.0"/>
<path d="M857 1325l-9-44-10-36-9-29-9-26-9-23-8-22-8-20-8-18-8-18-7-17-7-16-7-16-7-16-6-16-7-15-6-15-7-16-6-15-6-16-6-16-6-16-6-16-5-17-5-18-5-17-4-19-3-19-3-19-3-20-1-21-1-21 0-22 1-22 2-23 4-23 6-22 7-23 9-22 11-21 12-21 14-20 15-19 17-18 18-17 19-16 21-15 21-14 22-12 24-11 23-10 25-8 25-6 26-4 26-3 26 0 26 1 26 5 25 6 24 9 24 11 22 13 21 15 20 16 18 17 17 19 16 19 15 19 13 20 11 21 11 20 9 21 8 21 7 20 6 21 4 21 4 20 2 20 2 20 0 20-1 19-2 19-2 18-3 18-4 17-4 17-5 17-5 16-6 15-6 15-6 15-6 14-6 14-7 14-6 14-7 14-6 14-6 14-7 15-6 15-7 15-6 17-7 17-6 19-7 21-6 24-7 26-7 31-6 38-6 48" stroke="#5a008b"/>
<path d="M857 1325l-9-44-10-35-9-30-9-26-9-23-8-22-8-19-8-19-8-18-7-17-7-16-7-16-7-16-6-16-7-15-7-15-6-16-7-15-6-16-6-15-6-17-6-16-6-17-5-18-4-18-4-18-4-19-3-20-2-20-2-21-1-21 0-22 1-22 3-23 3-23 6-22 7-23 9-22 11-22 12-21 14-20 16-19 17-18 18-17 19-16 20-15 22-14 22-13 24-11 24-9 25-8 25-7 26-4 26-3 26 0 26 2 26 4 25 7 25 9 23 11 23 13 21 15 20 16 18 18 17 18 16 19 15 20 13 20 11 20 11 21 9 21 8 21 7 21 5 21 5 20 3 21 3 20 1 20 0 20-1 19-1 19-3 18-3 18-4 17-4 17-5 17-5 16-6 15-6 15-6 15-6 14-6 14-7 14-6 14-6 14-7 14-6 14-7 15-6 15-7 15-6 17-7 17-6 19-7 21-6 24-7 26-7 31-6 38-6 48" stroke="#55009d"/>
<path d="M857 1325l-9-44-10-35-9-30-9-26-9-23-8-22-8-19-8-19-8-18-7-17-7-16-7-16-7-16-7-16-6-15-7-15-6-15-7-16-6-15-7-16-6-16-6-17-6-17-5-18-5-18-4-18-3-19-3-20-3-20-2-21-1-22 0-22 2-22 2-23 4-23 5-23 7-22 9-23 11-21 13-21 14-21 15-19 17-18 18-18 20-16 20-15 22-14 22-13 24-11 24-9 25-8 25-7 26-4 27-3 26 0 26 2 26 4 26 7 24 9 24 12 23 13 21 15 20 16 18 18 17 18 16 20 15 19 13 21 12 20 10 21 9 21 8 21 7 21 5 21 5 21 3 20 2 21 2 20 0 19-2 20-1 19-3 18-3 18-4 17-4 17-5 17-5 16-6 15-6 15-6 15-6 14-6 14-7 14-6 14-6 14-7 14-6 14-7 15-6 15-7 16-6 16-7 18-6 19-7 20-6 24-7 26-7 31-6 38-6 48" stroke="#4b00b5"/>
<path d="M857 1325l-9-44-10-35-9-30-9-26-9-23-8-21-8-20-8-19-8-18-7-17-8-16-6-16-7-16-7-16-6-15-7-15-7-15-7-16-6-15-7-16-6-16-6-17-6-17-6-18-4-18-4-18-4-20-3-19-3-21-1-21-1-21 0-22 1-23 2-23 4-23 6-23 7-23 9-22 10-22 13-21 14-21 16-19 17-19 18-17 19-16 21-16 22-14 22-12 24-12 24-9 25-8 26-7 26-4 27-3 26 0 26 2 27 4 25 7 25 10 24 11 22 14 22 15 20 16 18 18 17 19 16 19 15 20 13 20 12 21 10 21 9 21 8 21 7 21 5 21 4 21 4 21 2 20 1 20 0 20-1 20-2 19-3 18-3 18-4 17-4 17-5 17-5 16-6 15-6 15-6 15-6 14-6 14-6 14-7 14-6 14-7 14-6 15-7 14-6 15-7 16-6 16-7 18-6 19-7 20-6 24-7 26-7 31-6 38-6 48" stroke="#3705cf"/>
<path d="M857 1325l-9-44-10-35-9-30-9-26-9-23-8-21-9-20-7-19-8-17-7-17-8-17-7-16-6-16-7-15-6-16-7-15-7-15-7-15-7-16-6-16-7-16-6-17-6-17-6-18-5-18-4-19-4-19-3-20-2-20-2-21-1-22 0-22 1-23 3-23 4-23 5-23 7-23 9-23 11-22 12-21 14-20 16-20 17-19 18-17 20-17 21-15 22-14 22-13 24-11 25-10 25-8 26-7 26-4 26-3 27 0 27 2 26 5 26 7 24 9 24 12 23 13 21 16 21 16 18 18 17 19 16 19 15 21 13 20 12 21 10 21 9 21 8 22 7 21 5 21 4 21 3 21 3 20 1 20-1 20-1 20-2 19-2 18-4 18-4 17-4 17-5 17-5 16-6 15-6 15-6 15-6 14-6 15-6 13-7 14-6 14-7 14-6 15-7 14-6 15-7 16-6 16-7 18-6 19-7 21-6 23-7 26-7 31-6 38-6 48" stroke="#1e0ced"/>
<path d="M857 1325l-9-44-10-35-9-30-9-26-9-23-8-21-9-20-8-19-7-17-8-17-7-17-7-16-6-16-7-15-6-16-8-15-7-15-7-15-6-16-7-16-7-16-6-17-7-17-6-18-4-18-4-19-4-19-3-20-3-21-1-21-1-21 0-23 1-22 2-23 4-24 5-23 8-23 9-23 10-22 13-22 14-20 15-20 18-19 18-18 20-16 21-16 22-14 23-13 23-11 25-10 25-8 26-7 27-4 26-2 27-1 27 3 26 4 26 7 25 10 24 12 23 13 21 16 20 17 19 17 17 19 16 20 15 20 13 21 12 21 10 21 9 21 8 22 6 21 6 21 4 21 3 21 2 21 1 20 0 20-2 20-2 19-2 18-4 18-3 17-5 17-5 17-5 16-6 15-6 15-6 15-6 14-6 15-6 14-7 13-6 14-7 14-6 15-7 14-6 15-7 16-6 16-7 18-6 19-7 21-6 23-7 26-7 31-6 38-6 48" stroke="#0d0aff"/>
<path d="M857 1325l-9-44-10-35-9-30-9-26-9-23-9-21-8-20-8-19-7-17-8-17-7-17-7-16-7-16-6-15-7-16-7-15-7-15-7-15-7-16-7-16-7-16-6-17-7-17-6-18-5-18-4-19-3-19-4-20-2-21-2-21-1-22 0-22 1-23 3-23 3-24 6-23 7-23 9-23 11-23 12-21 14-21 16-20 17-19 19-18 19-17 21-15 23-14 23-13 24-12 24-10 26-8 26-6 26-5 27-2 27 0 27 2 27 5 25 7 26 10 24 11 22 14 22 16 20 17 19 18 17 19 16 19 15 21 13 21 12 21 10 21 9 22 8 21 6 22 5 21 5 21 3 21 2 21 1 20-1 20-2 20-2 19-2 18-4 18-3 17-5 17-5 17-5 16-6 15-5 15-6 15-7 14-6 15-6 14-7 13-6 14-7 14-6 15-6 14-7 15-7 16-6 16-7 18-6 19-7 21-6 23-7 26-7 31-6 38-6 48" stroke="#0201ff"/>
<path d="M857 1325l-9-44-10-35-9-29-9-26-9-24-9-21-8-20-8-18-7-18-8-17-7-17-7-16-7-16-6-15-7-16-7-15-7-15-7-15-8-16-7-15-7-17-6-16-7-18-7-18-4-18-4-19-4-20-3-20-3-20-1-22-1-22 0-22 1-23 2-23 4-24 5-23 7-24 9-23 11-22 13-22 14-21 16-20 17-19 18-18 20-17 21-16 22-14 24-13 24-11 25-10 25-9 27-6 26-5 27-2 27 0 27 2 27 5 26 7 25 10 24 12 23 14 22 16 20 17 19 18 17 19 16 20 15 20 13 21 12 22 10 21 9 22 8 21 6 22 5 21 4 22 3 21 2 20 1 21-1 20-1 20-3 19-2 18-3 18-4 17-5 17-5 17-5 16-6 15-5 15-6 15-7 14-6 15-6 14-7 13-6 14-7 14-6 15-6 14-7 15-6 16-7 16-7 18-6 19-7 21-6 23-7 26-7 31-6 38-6 48" stroke="#0013ff"/>
<path d="M857 1326l-10-44-9-36-9-29-9-26-9-24-9-21-8-20-8-18-7-18-8-17-7-17-7-16-7-16-6-15-7-16-7-14-8-16-7-15-7-15-7-16-7-17-8-16-6-18-7-18-5-18-4-19-3-20-4-20-2-21-2-21-1-22 0-23 1-23 3-23 3-24 6-23 7-24 9-23 11-23 12-22 14-21 16-20 17-19 19-18 20-17 21-16 22-14 24-14 24-11 25-10 26-8 26-7 27-4 27-3 27 0 27 3 27 4 26 8 26 10 24 12 23 14 22 16 20 17 19 18 17 20 16 20 15 20 13 21 12 22 10 21 9 22 7 22 7 21 5 22 4 21 3 21 2 21 1 20-1 21-2 19-2 20-3 18-3 18-4 17-5 17-5 17-5 16-6 15-5 15-6 15-6 14-7 15-6 14-7 13-6 14-6 14-7 15-6 14-7 15-6 16-7 16-6 18-7 19-7 21-6 23-7 26-7 31-6 38-6 48" stroke="#002aff"/>
<path d="M857 1326l-10-44-9-36-9-29-10-26-8-23-9-22-8-20-8-18-8-18-7-17-7-17-7-16-7-15-6-16-7-15-8-15-7-15-7-16-8-15-7-16-7-16-8-17-7-18-6-18-5-18-4-19-4-20-3-20-3-21-1-22-1-22 0-22 1-23 2-24 4-24 5-23 7-24 9-23 11-23 13-22 14-22 16-20 17-19 19-18 20-18 21-15 22-15 24-13 24-12 25-10 26-8 27-7 27-4 27-2 27 0 28 2 26 5 27 7 25 11 24 12 24 14 21 16 21 17 19 19 17 19 16 20 15 21 13 21 12 21 10 22 9 22 7 22 7 22 5 21 4 22 3 21 1 21 1 20-1 21-2 19-2 19-3 19-3 18-4 17-5 17-5 17-5 16-5 15-6 15-6 15-6 14-7 15-6 14-7 14-6 13-6 14-7 15-6 14-7 15-6 16-7 16-6 18-7 19-7 21-6 23-7 26-7 31-6 38-6 48" stroke="#0040ff"/>
<path d="M857 1326l-10-44-9-35-10-30-9-26-9-23-8-22-8-19-8-19-8-18-7-17-7-16-7-16-7-16-7-16-6-15-8-15-8-15-7-15-8-16-7-16-7-16-8-17-7-18-7-18-4-18-5-19-3-20-4-21-2-21-2-21-1-22 0-23 1-23 3-24 3-24 6-24 7-23 9-24 10-23 13-22 14-21 16-21 18-19 18-19 20-17 22-16 22-15 24-13 24-12 26-10 26-8 26-6 27-5 28-2 27 0 28 2 27 5 26 8 26 10 24 13 23 14 22 16 21 17 19 19 17 19 16 21 15 20 13 22 12 21 10 22 9 22 7 22 7 22 5 22 3 21 3 22 2 21 1 20-2 20-2 20-2 19-3 19-3 18-4 17-5 17-5 17-5 16-5 15-6 15-6 15-6 14-7 15-6 14-6 14-7 13-6 15-7 14-6 14-7 15-6 16-7 16-6 18-7 19-6 21-7 23-7 26-7 31-6 38-6 48" stroke="#0058ff"/>
<path d="M856 1327l-9-44-10-35-9-30-9-26-9-24-9-21-8-20-8-18-7-18-8-17-7-17-7-16-7-16-7-15-6-16-8-15-8-15-7-15-8-16-7-16-8-16-7-17-7-17-7-19-5-18-4-20-4-19-3-21-3-21-1-22-1-22 0-23 1-23 2-24 4-24 5-24 7-24 9-23 11-23 12-23 15-21 16-21 17-19 19-19 20-17 22-16 22-15 24-13 25-12 25-10 26-9 27-6 27-5 28-2 27 0 28 3 27 5 27 8 25 10 25 12 23 15 22 16 20 17 19 19 18 20 16 20 15 21 13 22 11 21 11 22 9 22 7 22 6 23 5 21 4 22 3 21 1 21 1 21-1 20-3 20-2 19-3 19-3 18-4 17-5 17-4 17-6 16-5 15-6 15-6 15-6 15-6 14-7 14-6 14-7 14-6 14-6 14-7 15-6 15-7 15-6 17-7 17-7 19-6 21-7 23-7 26-7 31-6 38-6 48" stroke="#0073ff"/>
<path d="M856 1328l-9-44-10-36-9-29-10-26-8-24-9-21-8-20-8-19-8-18-8-17-7-16-7-16-7-16-7-16-6-15-8-15-8-16-7-15-8-15-7-16-8-17-7-17-8-17-6-19-5-18-4-20-4-20-4-20-2-21-2-22-1-22 0-23 1-24 2-24 4-24 6-24 7-24 9-24 10-23 13-22 14-22 16-21 18-20 19-18 20-18 22-16 22-15 24-13 25-12 25-10 27-8 27-7 27-4 28-3 27 0 28 3 27 5 27 8 26 10 24 13 24 15 22 16 20 18 19 18 18 20 16 21 15 21 13 21 11 22 11 22 9 22 7 23 6 22 5 22 4 22 2 21 2 21 1 21-2 20-2 20-3 19-3 19-3 18-4 17-4 17-5 17-6 16-5 15-6 15-6 15-6 15-6 14-6 14-7 14-6 14-7 14-6 14-6 15-7 15-6 16-7 16-7 18-6 19-7 21-7 23-7 26-7 30-6 38-6 48" stroke="#008eff"/>
<path d="M856 1329l-10-45-9-35-10-30-9-26-9-23-9-21-8-20-8-19-8-18-7-17-8-17-7-16-7-16-6-15-7-16-8-15-8-15-7-16-8-15-7-16-8-17-7-17-8-17-7-19-4-18-5-20-3-20-4-20-2-22-2-21-1-23 0-23 1-23 2-24 4-24 5-25 7-24 9-24 11-23 13-23 14-21 16-21 18-20 19-19 20-17 22-17 22-15 24-13 25-12 26-10 26-9 27-6 28-5 28-2 28 0 27 3 28 5 26 8 26 11 25 12 23 15 22 16 21 18 19 19 18 20 16 20 14 22 14 21 11 22 11 22 8 23 8 22 6 22 5 22 3 22 3 22 1 21 1 21-2 20-2 20-3 19-3 19-3 18-4 17-4 17-5 17-6 16-5 15-6 15-6 15-6 15-6 14-6 14-7 14-6 14-6 14-7 15-6 14-7 15-6 16-7 17-6 17-7 19-7 21-7 23-7 26-7 30-6 38-6 48" stroke="#00a6ff"/>
<path d="M855 1329l-9-44-10-35-9-30-9-26-9-23-9-22-8-20-9-18-7-18-8-17-7-17-7-16-7-16-7-16-7-16-8-15-7-15-8-15-8-16-7-16-8-17-7-17-7-17-7-19-5-19-4-19-4-20-3-21-3-21-2-22-1-22 0-23 1-24 2-24 4-24 6-24 7-24 9-24 10-24 13-22 14-22 16-21 18-20 19-19 20-18 22-16 23-15 24-13 25-12 25-11 27-8 27-7 28-4 28-2 28 0 27 3 28 5 27 8 25 10 25 13 24 15 22 16 20 18 19 19 18 20 16 21 15 21 13 22 12 22 10 22 9 22 7 23 6 22 5 22 4 22 2 22 2 21 0 20-1 21-3 20-3 19-3 19-3 18-4 17-4 17-5 17-6 16-5 15-6 15-6 15-6 15-6 14-6 14-6 14-7 14-6 14-6 15-7 15-6 15-7 15-6 17-7 18-7 19-6 20-8 23-7 26-7 30-6 38-6 48" stroke="#00b8ff"/>
<path d="M855 1330l-9-44-10-36-10-29-9-26-9-24-9-21-8-20-8-19-8-18-8-17-7-17-7-16-7-16-7-16-7-15-8-15-7-16-8-15-7-16-8-16-7-17-8-17-7-17-7-19-5-19-4-19-4-20-3-21-3-21-2-22-1-22 0-24 1-23 3-24 4-24 5-25 7-24 9-24 11-23 12-23 15-22 16-21 17-20 19-19 21-18 22-16 22-15 24-14 25-12 26-10 27-8 27-7 28-4 28-3 28 1 27 2 28 6 27 8 26 10 24 13 24 15 22 16 21 18 19 19 18 20 16 21 14 21 14 22 11 22 10 23 9 22 8 22 6 23 4 22 4 22 3 21 1 22 0 20-1 21-3 20-3 19-3 19-3 18-4 17-4 17-5 17-5 16-6 15-6 15-6 15-5 15-7 14-6 14-6 14-6 14-7 15-6 14-6 15-7 15-6 16-7 16-7 18-6 19-7 21-7 22-8 26-7 30-6 38-6 48" stroke="#00caff"/>
<path d="M855 1331l-10-44-9-36-10-30-9-26-9-23-9-21-9-20-8-19-8-18-7-17-8-17-7-16-7-16-7-16-7-16-7-15-8-15-8-16-7-16-8-16-7-16-8-18-7-17-7-19-4-19-5-19-4-20-3-21-2-21-2-22-1-23 0-23 1-23 2-24 4-25 5-24 7-25 9-24 11-23 12-23 15-22 16-21 18-20 19-19 20-18 22-16 23-15 24-14 25-12 26-10 27-9 27-6 27-5 28-2 29 0 28 3 27 6 27 8 26 10 25 13 23 15 22 17 21 17 19 20 18 20 16 20 15 22 13 22 12 22 10 22 9 23 7 22 6 23 5 22 3 22 3 21 1 21 1 21-2 21-3 20-3 19-3 19-3 18-4 17-4 17-5 17-5 16-6 15-6 15-5 15-6 15-6 14-7 14-6 14-6 14-6 15-6 14-7 15-6 15-7 16-7 17-6 17-7 19-7 21-7 23-7 25-7 31-7 37-6 48" stroke="#00ddff"/>
<path d="M855 1332l-10-45-10-35-9-30-10-26-9-23-9-22-8-20-8-19-8-17-8-18-7-16-8-17-7-16-7-16-7-15-7-16-8-15-8-15-7-16-8-17-7-16-7-17-7-18-7-19-5-19-4-19-4-20-4-21-2-21-2-22-1-23 0-23 1-24 2-24 4-24 5-25 8-24 8-24 11-24 13-23 14-22 16-21 18-20 19-19 21-18 21-16 23-15 25-14 25-12 26-10 26-9 28-7 27-4 28-2 29 0 28 3 27 5 27 8 26 11 25 13 24 15 22 17 20 18 20 19 17 20 17 21 14 21 13 22 12 22 10 23 9 22 7 23 6 22 5 23 4 22 2 21 1 21 1 21-2 21-3 20-3 19-2 19-4 18-4 17-4 17-5 17-5 16-6 15-6 15-5 15-6 15-6 14-6 14-7 14-6 15-6 14-6 15-7 14-6 16-7 15-6 17-7 18-7 19-7 20-7 23-7 25-7 31-7 37-6 48" stroke="#00f5ff"/>
<path d="M854 1333l-9-45-10-35-10-30-9-26-9-24-9-21-9-20-8-19-8-18-8-17-7-17-7-16-8-16-6-16-7-16-8-15-8-16-7-15-8-16-7-16-8-17-7-17-7-18-7-19-5-19-4-19-4-20-3-21-3-22-2-22-1-22 0-23 1-24 3-24 3-25 6-24 7-25 9-24 10-24 13-23 14-22 16-21 18-20 19-19 21-18 22-16 23-16 24-13 25-12 26-11 27-8 27-7 28-4 28-2 29 0 28 3 27 5 27 8 26 11 25 13 24 15 22 17 21 18 19 19 18 20 16 21 15 22 13 21 12 23 10 22 9 23 7 22 6 23 5 22 3 22 2 22 2 21 0 21-2 21-3 20-2 19-3 19-4 18-4 17-4 17-5 17-5 16-6 15-5 15-6 15-6 15-6 14-6 14-6 15-6 14-6 14-7 15-6 15-7 15-6 16-7 16-7 18-7 19-6 21-8 22-7 26-7 30-7 37-6 48" stroke="#00ffea"/>
<path d="M854 1333l-10-44-9-36-10-30-10-26-9-23-9-22-8-20-8-18-8-18-8-18-8-16-7-17-7-16-7-16-7-16-8-15-7-15-8-16-8-16-7-16-7-17-8-17-7-18-6-19-5-19-5-19-4-21-3-20-3-22-1-22-2-23 0-23 2-24 2-24 4-24 5-25 7-24 9-24 11-24 12-23 15-23 16-21 18-20 19-19 20-18 22-17 23-15 25-14 25-12 26-10 27-9 27-6 28-5 28-2 29 1 28 2 28 6 27 8 26 11 25 13 23 15 22 17 21 18 20 19 17 20 16 21 15 22 13 22 12 22 10 23 9 22 7 23 6 23 5 22 3 22 3 22 1 21 0 21-2 21-3 20-2 19-3 19-4 18-4 17-4 17-5 17-5 16-6 15-5 15-6 15-6 15-6 14-6 14-6 15-6 14-6 14-6 15-7 15-6 15-7 16-7 17-6 17-7 19-7 21-8 22-7 26-7 30-7 37-6 48" stroke="#00ffc8"/>
<path d="M854 1334l-10-45-10-35-9-30-10-26-9-23-9-22-9-20-8-19-8-18-8-17-7-17-8-16-7-16-7-16-7-16-8-16-7-15-8-16-7-16-8-16-7-17-7-17-7-18-7-19-5-19-4-19-4-21-4-21-2-21-2-22-1-23 0-23 1-24 2-24 4-25 5-24 7-25 9-24 11-24 13-23 14-22 16-22 18-20 19-19 21-18 22-17 23-15 24-14 25-12 27-10 27-9 27-6 28-5 28-2 29 0 28 3 28 6 27 8 26 11 25 13 24 15 22 17 21 18 19 19 18 21 16 21 15 21 13 22 12 23 10 22 8 23 8 23 6 22 4 23 4 22 2 22 1 21 1 21-3 21-3 20-2 19-3 19-4 18-4 17-4 17-5 17-5 16-6 15-5 15-6 15-6 15-6 14-6 15-6 14-6 14-6 15-6 14-7 15-6 15-7 16-6 17-7 18-7 19-7 20-8 23-7 25-7 30-7 37-6 48" stroke="#00ffa9"/>
<path d="M854 1335l-10-45-10-36-10-29-9-26-10-24-9-21-8-20-8-19-9-18-7-18-8-16-7-17-8-16-7-16-7-16-7-15-8-16-8-16-7-16-8-16-7-17-7-17-7-18-7-19-5-19-4-19-4-21-3-21-3-21-2-22-1-23 0-23 1-24 2-25 4-24 6-25 7-24 8-25 11-24 13-23 14-22 16-22 18-20 20-19 20-18 22-17 23-15 25-14 25-12 26-11 27-8 28-7 28-4 28-2 29 0 28 3 28 5 27 9 26 11 25 13 24 15 22 17 21 18 19 20 18 20 16 21 15 22 13 22 12 22 10 23 9 23 7 22 6 23 5 23 3 22 2 22 1 21 1 21-2 21-3 20-3 19-3 19-4 18-4 17-4 17-5 17-5 16-6 15-5 15-6 15-6 15-6 14-6 15-6 14-6 14-6 15-6 14-6 15-7 16-6 15-7 17-7 18-7 19-7 21-7 22-8 25-7 30-7 37-6 48" stroke="#00ff8e"/>
<path d="M853 1336l-9-45-10-36-10-30-10-26-9-23-9-22-9-20-8-19-8-18-8-17-8-17-7-16-7-17-7-16-7-15-8-16-8-15-7-16-8-16-7-17-8-17-7-17-7-18-6-19-5-19-5-20-4-20-3-21-3-21-2-23-1-22 0-24 1-24 3-24 3-25 6-24 7-25 9-24 10-24 13-24 15-22 16-22 18-20 19-19 21-18 22-17 23-15 24-14 26-12 26-11 27-8 28-7 28-5 28-2 29 1 28 3 28 5 27 9 26 11 25 13 24 15 23 17 20 18 20 20 18 20 16 21 15 22 13 22 11 23 11 22 8 23 8 23 5 23 5 22 3 23 3 21 1 22 0 21-2 21-3 20-3 19-3 19-4 18-4 17-4 17-5 17-5 16-6 15-5 15-6 15-6 15-5 14-6 15-6 14-6 14-6 15-6 15-7 15-7 15-6 16-7 16-7 18-7 19-7 21-7 22-8 25-7 30-7 37-6 48" stroke="#00ff70"/>
<path d="M853 1336l-10-45-10-35-10-30-9-26-9-24-9-21-9-20-9-19-8-18-8-18-7-16-8-17-7-16-7-16-7-16-8-16-8-15-7-16-8-16-7-17-7-17-7-17-7-18-7-19-5-19-4-20-4-20-4-21-2-22-2-22-1-23 0-23 1-24 2-24 4-25 5-25 7-25 9-24 11-24 12-23 15-23 16-22 18-20 19-19 21-18 22-17 23-16 25-13 25-13 27-10 27-9 28-6 28-5 28-2 29 0 28 3 28 6 27 9 27 11 25 13 24 15 22 17 21 18 19 20 18 20 16 22 15 21 13 23 12 22 10 23 9 23 7 23 6 22 4 23 4 22 2 22 1 22 0 21-2 21-3 20-3 19-3 19-4 18-4 17-4 17-5 17-5 16-6 15-5 15-6 15-5 15-6 14-6 15-6 14-6 15-6 14-6 15-7 15-6 15-7 16-7 17-6 18-7 19-7 20-8 22-8 25-7 30-7 37-6 48" stroke="#00ff4f"/>
<path d="M853 1337l-10-45-10-36-10-29-10-27-9-23-9-22-9-20-8-19-8-18-8-17-8-17-7-17-8-16-7-16-7-16-8-15-7-16-8-16-7-16-8-17-7-17-7-17-7-18-7-19-5-19-4-20-4-20-3-21-3-22-2-22-1-23 0-23 1-24 2-25 4-24 5-25 7-25 9-25 11-24 13-23 14-23 16-21 18-21 20-19 20-19 23-16 23-16 24-14 26-12 26-10 28-9 27-7 29-4 28-2 29 0 28 3 28 6 28 8 26 11 25 14 24 15 22 17 21 19 20 19 17 21 17 21 14 22 14 22 11 23 11 22 8 23 7 23 6 23 5 23 3 22 2 22 1 22 0 21-2 21-3 20-3 19-3 19-4 18-4 17-4 17-5 17-5 16-5 15-6 15-6 15-5 15-6 14-6 15-6 14-6 15-6 14-6 15-6 15-7 15-7 16-6 17-7 18-7 19-7 21-8 21-8 25-7 30-7 37-6 48" stroke="#00ff2f"/>
<path d="M852 1338l-9-45-10-36-10-30-10-26-9-23-9-22-9-20-9-19-8-18-8-18-8-17-7-16-7-16-8-16-7-16-7-16-8-16-8-16-7-16-7-16-8-17-7-18-7-18-6-19-5-19-5-20-4-20-3-21-3-22-2-22-1-23 0-24 1-24 3-24 3-25 6-25 7-25 9-24 10-25 13-23 14-23 17-21 18-21 19-19 21-19 22-17 23-15 25-14 26-12 26-11 27-8 28-7 28-4 29-3 29 1 28 3 28 6 28 8 26 11 25 14 24 15 23 17 21 19 19 19 18 21 16 21 15 22 13 22 12 23 10 23 9 23 7 23 6 23 4 23 3 22 2 22 2 21 0 21-3 21-3 21-3 19-3 19-4 18-4 17-4 17-5 17-5 16-5 15-6 16-6 14-5 15-6 15-6 14-6 14-6 15-5 15-7 14-6 15-7 16-6 16-7 16-7 18-7 19-7 21-8 22-8 24-7 30-7 37-6 48" stroke="#00ff1b"/>
<path d="M852 1339l-9-46-11-35-10-30-9-26-10-24-9-21-9-21-8-19-8-18-8-17-8-17-8-17-7-16-7-16-7-16-8-16-8-15-7-16-8-17-7-16-7-17-8-18-7-18-6-19-5-19-5-20-3-20-4-21-3-22-1-22-2-23 0-24 1-24 3-25 4-24 5-25 7-25 9-25 10-24 13-24 15-23 16-21 18-21 19-20 21-18 23-17 23-15 25-14 25-13 27-10 27-9 28-6 28-5 29-2 29 1 28 3 29 5 27 9 26 11 26 14 24 15 22 17 21 19 19 19 18 21 17 21 14 22 14 23 11 23 10 23 9 23 7 23 6 23 4 22 4 23 2 22 1 21 0 21-3 21-3 21-3 19-3 19-4 18-4 17-4 17-5 17-5 16-5 15-6 16-5 14-6 15-6 15-6 14-6 14-5 15-6 15-6 15-7 15-6 15-7 16-7 17-7 17-7 19-7 21-8 22-8 25-7 29-7 37-6 48" stroke="#00ff12"/>
<path d="M852 1339l-10-45-10-36-10-30-10-26-9-23-9-22-9-20-9-19-8-18-8-18-8-17-7-16-8-16-7-17-7-16-8-15-8-16-7-16-8-16-7-17-7-17-7-18-7-18-7-19-5-19-4-20-4-20-4-22-2-21-2-23-1-23 0-23 1-24 2-25 4-25 5-25 7-25 9-25 11-24 12-24 15-22 16-22 18-21 20-20 21-18 22-17 23-15 25-14 26-13 26-10 28-9 28-7 28-4 29-2 29 0 28 3 29 6 27 9 27 11 25 14 24 15 22 17 21 19 20 20 18 20 16 22 15 22 13 22 12 23 10 23 9 23 7 23 5 23 5 23 3 23 2 22 1 21 0 21-2 21-4 21-3 19-3 19-4 18-4 17-4 17-5 17-5 16-5 15-6 16-5 14-6 15-6 15-5 14-6 15-6 14-6 15-6 15-6 15-7 15-7 16-6 17-7 18-7 19-7 21-9 21-8 25-7 29-7 37-6 48" stroke="#00ff09"/>
<path d="M852 1340l-10-45-10-36-10-30-10-26-10-24-9-21-9-20-8-19-8-19-9-17-7-17-8-17-7-16-8-16-7-16-8-16-7-16-8-16-7-16-8-17-7-17-7-18-7-18-6-19-5-19-5-20-4-21-3-21-3-22-2-22-1-23 0-24 1-24 2-24 4-25 5-25 7-26 9-24 11-25 13-24 14-22 16-22 18-21 20-20 21-18 22-17 24-16 25-14 25-12 27-11 28-9 28-6 28-5 29-2 29 1 29 3 28 6 27 9 27 11 25 13 24 16 23 17 21 19 19 20 18 20 17 22 14 22 14 23 11 22 10 24 9 23 7 23 6 23 4 23 3 22 2 22 1 22 0 21-2 21-4 21-3 19-3 19-4 18-4 17-4 17-5 17-5 16-5 15-6 16-5 14-6 15-6 15-5 14-6 15-6 14-5 15-7 15-6 15-7 15-6 16-7 17-7 18-7 19-7 21-8 21-9 25-7 29-7 37-6 48" stroke="#00ff00"/>
<path d="M851 1341l-9-46-10-35-11-30-9-27-10-23-9-22-9-20-9-19-8-18-8-18-8-17-8-16-7-17-7-16-8-16-7-16-8-16-8-16-7-16-8-17-7-17-7-18-7-18-6-19-5-19-5-20-4-21-3-21-3-22-2-22-1-23 0-24 1-24 2-25 4-25 5-25 7-25 9-25 11-25 13-24 14-23 16-22 19-20 19-20 21-19 23-17 23-15 25-14 26-13 27-11 27-8 28-7 29-4 29-2 29 0 29 3 28 6 28 9 26 11 26 14 24 16 22 17 21 19 20 20 18 21 16 21 15 22 13 23 12 23 10 23 9 23 7 23 5 24 5 23 3 22 2 22 1 22 0 21-3 21-4 21-3 19-3 19-4 18-4 17-4 17-5 17-5 16-5 15-6 16-5 14-6 15-5 15-6 14-6 15-6 14-5 15-6 15-7 15-6 16-7 16-7 17-7 17-7 19-7 21-8 22-8 24-8 29-7 37-6 48" stroke="#15ff00"/>
<path d="M851 1341l-10-45-10-36-10-30-10-26-9-23-10-22-8-20-9-19-9-19-8-17-8-17-7-17-8-16-7-16-7-16-8-16-8-16-7-16-8-17-7-17-8-17-7-18-7-18-6-19-5-19-5-20-4-21-3-21-3-22-2-23-1-23 0-23 1-25 2-25 4-25 5-25 7-25 9-25 11-25 13-24 14-23 17-22 18-21 19-19 21-19 23-17 24-16 25-14 25-13 27-10 28-9 28-7 29-4 29-2 29 0 29 4 28 6 28 9 27 11 25 14 24 15 23 18 21 19 19 20 18 21 17 21 15 22 13 23 12 23 10 23 8 24 7 23 6 23 4 23 3 23 2 22 1 22 0 21-3 21-3 21-4 19-3 19-3 18-4 17-5 17-5 17-5 16-5 15-6 16-5 15-6 14-5 15-6 14-6 15-5 15-6 14-6 15-6 15-7 16-7 16-7 17-6 18-8 19-7 20-8 22-8 24-8 29-7 37-6 48" stroke="#29ff00"/>
<path d="M851 1342l-10-46-10-35-10-30-10-26-10-24-9-22-9-20-9-19-8-18-8-18-8-17-8-16-7-17-8-16-7-16-8-16-8-16-7-16-8-17-7-16-7-18-8-17-6-19-7-19-5-19-5-20-4-21-3-21-3-22-2-23-1-23 0-24 1-24 2-25 4-25 6-25 7-26 8-25 11-25 13-24 14-23 17-22 18-21 20-20 21-18 22-18 24-15 25-15 26-12 27-11 28-9 28-6 29-5 29-2 29 1 29 3 28 6 28 9 27 12 25 13 25 16 22 18 21 19 20 20 18 21 16 21 15 23 13 22 12 23 10 24 9 23 7 24 5 23 5 23 3 23 2 22 0 22 0 21-3 21-3 21-4 19-3 19-3 18-4 17-5 17-5 17-5 16-5 15-5 16-6 15-6 14-5 15-6 14-5 15-6 15-6 15-6 15-6 15-7 15-6 16-7 17-7 18-7 19-8 21-8 21-8 24-8 29-7 37-6 48" stroke="#3dff00"/>
<path d="M851 1343l-10-46-10-36-11-30-10-26-9-23-9-22-9-20-9-19-9-19-8-17-8-17-8-17-7-16-8-17-7-16-8-16-7-16-8-16-8-16-7-17-7-18-7-17-7-19-7-19-5-19-5-20-4-21-3-21-3-22-2-23-1-23 0-24 1-25 3-25 3-25 6-25 7-26 8-25 11-25 13-24 14-23 17-22 18-21 20-20 21-19 23-17 23-16 25-14 26-13 27-11 28-8 29-7 29-4 29-2 29 0 29 3 29 7 27 9 27 11 26 14 24 16 23 17 21 19 20 21 18 21 16 21 15 23 13 23 12 23 10 23 8 24 7 23 6 23 4 24 3 22 2 23 1 21 0 22-3 21-4 21-3 19-4 19-3 18-4 17-5 17-5 17-5 16-5 15-5 16-6 15-5 14-6 15-6 14-5 15-6 15-5 15-6 15-7 15-6 15-7 17-7 16-7 18-7 19-7 21-9 21-8 24-8 29-7 37-6 48" stroke="#52ff00"/>
<path d="M850 1344l-9-46-11-36-10-30-10-26-10-24-9-21-9-21-9-19-8-18-8-18-8-17-8-16-8-17-7-16-8-16-7-16-8-16-8-17-7-16-8-17-7-17-7-18-7-19-7-19-5-19-4-20-4-21-4-22-3-22-2-22-1-24 0-24 1-24 3-25 3-25 6-26 7-25 8-26 11-24 13-25 14-23 17-22 18-21 20-21 21-18 23-18 24-16 25-14 26-12 27-11 28-9 28-7 29-4 30-2 29 1 29 3 29 6 28 9 27 12 25 14 24 16 23 17 21 19 20 20 18 22 17 22 14 22 14 23 11 23 10 24 9 23 7 24 5 23 5 23 3 23 1 22 1 22 0 22-3 21-4 21-3 19-4 19-3 18-4 17-5 17-5 17-5 16-5 15-5 16-6 15-5 14-6 15-5 15-6 14-5 15-6 15-6 15-6 15-7 16-7 16-7 17-7 18-7 19-7 20-9 22-8 23-8 29-7 37-6 48" stroke="#65ff00"/>
<path d="M850 1344l-10-46-10-35-10-30-10-27-10-23-9-22-9-20-9-19-9-19-8-17-8-17-8-17-7-17-8-16-7-16-8-16-8-16-8-16-7-17-8-17-7-17-7-18-7-19-7-19-5-19-4-21-4-20-4-22-3-22-2-23-1-23 0-24 1-25 3-25 3-25 6-25 7-26 8-25 11-25 13-25 15-23 16-22 18-22 20-20 21-19 23-17 24-16 25-14 26-13 28-11 28-9 28-6 29-5 30-2 29 1 29 3 29 6 28 10 27 11 26 14 24 16 23 18 21 19 20 20 18 22 16 22 15 22 13 23 12 24 10 23 8 24 7 23 6 24 4 23 3 23 2 22 0 22 0 21-3 22-4 21-3 19-4 19-3 18-4 17-5 17-5 17-5 16-5 15-5 16-6 15-5 14-6 15-5 15-6 14-5 15-6 15-6 15-6 15-7 16-6 16-7 17-7 18-8 19-7 21-9 21-8 24-8 28-7 37-6 48" stroke="#77ff00"/>
<path d="M850 1345l-10-46-10-36-11-30-10-26-9-24-10-21-9-21-9-19-8-18-9-18-8-17-7-17-8-16-8-16-7-17-8-16-8-16-7-16-8-17-7-17-8-17-7-18-7-19-6-19-6-19-4-21-4-21-4-21-2-22-2-23-2-23 0-25 1-24 3-25 3-26 6-25 7-26 9-25 10-25 13-25 15-23 16-23 18-21 20-20 22-19 22-18 24-16 26-14 26-13 27-10 28-9 29-7 29-4 30-2 29 0 29 4 29 6 28 9 27 12 26 14 24 16 23 18 21 19 20 20 18 22 17 22 15 22 13 23 11 24 11 23 8 24 7 24 5 23 5 24 2 23 2 22 1 22-1 21-3 22-4 20-3 20-4 19-3 18-4 17-5 17-5 17-5 16-5 15-5 16-6 15-5 14-5 15-6 15-5 14-6 15-5 15-6 15-7 16-6 15-7 16-7 17-7 18-7 19-8 21-8 21-9 24-8 28-7 37-6 48" stroke="#89ff00"/>
<path d="M850 1346l-10-46-11-36-10-30-10-26-10-24-9-22-9-20-9-19-9-18-8-18-8-17-8-17-8-17-7-16-8-16-8-16-8-17-7-16-8-17-7-17-8-17-7-18-7-19-6-19-5-19-5-21-4-21-4-21-2-22-2-23-1-24-1-24 2-25 2-25 4-25 5-26 7-26 9-25 10-25 13-25 15-23 16-23 19-21 19-21 22-19 23-17 24-16 25-15 27-12 27-11 28-9 29-7 29-4 30-2 29 1 29 3 29 6 28 10 27 11 26 15 25 16 23 18 21 19 20 20 18 22 16 22 15 23 13 23 12 23 10 24 9 24 7 23 5 24 4 23 3 23 1 23 1 22 0 21-4 22-4 20-3 20-4 19-3 18-4 17-5 17-4 17-6 16-5 15-5 16-5 15-6 14-5 15-6 15-5 14-6 15-5 16-6 15-7 15-6 16-7 16-7 17-7 18-7 19-8 20-8 21-9 24-8 28-7 37-6 48" stroke="#9bff00"/>
<path d="M849 1346l-9-46-11-35-10-30-10-27-10-23-10-22-9-20-9-20-8-18-9-18-8-17-8-17-7-16-8-17-8-16-7-16-8-16-8-17-8-16-7-17-7-18-7-18-7-19-7-19-5-19-5-21-4-21-3-21-3-23-2-23-1-23 0-24 1-25 2-25 4-26 5-25 7-26 9-26 11-25 12-24 15-24 17-23 18-21 20-20 21-19 23-18 24-16 26-15 26-12 28-11 28-9 29-7 29-4 29-2 30 1 30 3 28 6 29 10 27 12 26 14 24 16 23 18 21 19 20 21 18 21 17 22 15 23 13 23 11 24 11 23 8 24 7 24 5 24 4 23 3 23 2 23 0 22 0 21-3 22-5 20-3 20-4 19-3 18-4 17-5 17-4 17-5 16-6 15-5 16-5 15-6 14-5 15-6 15-5 15-5 15-6 15-6 15-6 15-7 16-7 16-6 17-8 18-7 19-7 20-9 21-9 24-8 29-7 36-6 48" stroke="#b4ff00"/>
<path d="M849 1347l-10-46-10-36-11-30-10-26-10-24-9-22-9-20-9-19-9-18-8-18-8-17-8-17-8-17-8-16-7-17-8-16-8-16-8-16-7-17-8-17-7-18-7-18-7-19-6-19-5-19-5-21-4-21-4-21-2-23-2-23-2-23 0-24 1-25 3-25 3-26 6-26 7-25 8-26 11-25 13-25 15-24 16-22 19-22 19-20 22-19 23-18 24-16 25-14 27-13 27-11 29-9 28-7 30-4 29-2 30 1 30 3 29 7 28 9 27 12 26 14 24 16 23 18 22 20 19 20 18 22 17 22 15 23 13 23 12 23 10 24 8 24 7 24 6 24 4 23 2 23 2 23 0 22 0 21-3 22-5 20-3 20-3 19-4 18-4 17-5 17-4 17-5 16-6 15-5 16-5 15-6 15-5 14-5 15-6 15-5 15-5 15-6 15-7 15-7 16-6 16-7 17-7 18-8 19-7 21-9 21-9 23-8 29-7 36-6 48" stroke="#cfff00"/>
<path d="M849 1348l-10-46-10-36-11-30-10-27-10-23-10-22-9-20-9-20-8-18-9-18-8-17-8-17-8-16-7-17-8-16-8-16-8-17-7-16-8-17-7-17-7-18-7-18-7-18-7-20-5-20-5-20-4-21-3-22-3-22-2-23-1-23 0-25 1-24 2-26 4-25 5-26 7-26 9-25 11-26 12-24 15-24 17-23 18-21 20-21 22-19 23-18 24-16 25-14 27-13 27-11 28-9 29-7 30-4 29-2 30 1 30 3 29 7 28 9 27 12 26 14 24 17 23 18 22 19 20 21 18 21 16 22 15 23 13 23 12 24 10 24 9 24 6 24 6 23 4 24 3 23 1 23 1 22-1 21-3 22-4 20-4 20-3 19-4 18-4 17-5 17-4 17-5 16-6 15-5 16-5 15-6 15-5 14-5 15-6 15-5 15-5 15-6 15-7 16-6 15-7 17-7 17-7 17-7 20-8 20-9 21-9 23-8 29-7 36-6 48" stroke="#eaff00"/>
<path d="M849 1348l-10-46-11-36-10-30-10-26-10-24-10-21-9-21-9-19-9-18-8-18-9-17-8-17-7-17-8-17-8-16-7-16-8-17-8-16-7-17-7-17-8-18-6-18-7-18-6-20-6-19-4-21-4-21-4-22-3-22-2-23-1-23 0-24 1-25 3-25 3-26 6-26 7-26 8-25 11-25 13-25 14-24 17-22 18-22 20-20 22-19 23-18 24-16 25-15 27-12 27-11 29-9 28-7 30-4 29-2 30 0 30 4 29 6 28 10 27 12 26 14 24 16 23 18 22 19 19 21 19 21 16 23 15 23 13 23 12 23 10 24 8 24 7 24 6 24 4 23 2 23 2 23 0 22 0 21-3 22-5 20-3 20-3 19-4 18-4 17-5 17-4 17-5 16-6 15-5 16-5 15-6 15-5 14-5 15-5 15-6 15-5 15-6 15-6 16-7 16-7 16-7 17-7 18-7 19-8 20-9 21-9 23-8 29-7 36-6 48" stroke="#fff900"/>
<path d="M848 1349l-9-47-11-35-10-30-11-27-10-23-9-22-9-20-9-20-9-18-9-18-8-17-8-17-8-17-8-16-7-17-8-16-7-16-8-17-7-17-7-17-7-18-7-18-7-19-6-19-5-19-5-21-4-21-3-21-3-23-2-23-1-23 0-24 1-25 2-25 4-26 5-25 7-26 9-26 11-25 12-24 15-24 17-23 18-21 20-20 21-19 23-18 24-16 26-15 26-12 28-11 28-9 29-7 29-4 29-2 30 0 30 4 28 6 29 10 27 11 26 15 24 16 23 18 21 19 20 21 18 21 17 22 15 23 13 23 11 24 11 23 8 24 7 24 5 24 4 23 3 23 2 23 0 22 0 21-3 22-5 20-3 20-4 19-3 18-4 17-5 17-4 17-5 16-6 15-5 16-5 15-5 15-6 14-5 15-5 15-5 15-6 15-6 16-6 15-7 16-7 16-6 17-8 18-7 19-8 21-9 20-9 23-8 29-7 36-6 48" stroke="#ffdf00"/>
<path d="M848 1349l-10-46-10-36-11-30-10-26-10-24-9-22-10-20-9-19-8-19-9-18-8-17-8-17-8-17-8-16-7-17-8-16-8-16-7-17-7-17-7-17-7-18-7-18-6-19-6-19-5-19-5-21-4-21-4-21-2-22-2-23-2-24 0-24 1-25 3-25 3-25 6-26 7-26 9-25 10-25 13-25 15-23 16-23 18-21 20-21 22-19 23-17 24-16 25-15 26-12 28-11 28-9 29-7 29-4 30-2 29 0 29 4 29 6 28 9 28 12 25 14 25 17 23 18 21 19 20 20 18 22 16 22 15 23 13 23 12 23 10 24 9 24 7 23 5 24 4 23 3 23 1 23 1 22 0 21-4 22-4 20-3 20-4 19-3 18-4 17-5 17-4 17-5 16-6 15-5 16-5 15-5 15-6 14-5 15-5 15-5 15-6 15-6 16-6 15-7 16-6 16-7 17-7 18-8 19-7 21-9 20-10 24-8 28-7 36-6 48" stroke="#ffc400"/>
<path d="M848 1350l-10-47-10-36-11-30-10-26-10-24-10-21-9-21-9-19-9-19-8-17-9-18-8-17-8-16-7-17-8-16-7-17-8-16-7-17-7-17-7-17-7-18-7-18-6-19-6-19-5-19-5-21-4-21-3-21-3-22-2-23-1-24 0-24 1-24 2-25 4-26 5-25 7-26 9-26 11-25 13-24 14-24 17-22 18-22 20-20 21-19 23-17 24-16 25-15 27-12 27-11 28-9 29-7 29-4 30-2 29 0 29 4 29 6 28 9 27 12 26 14 24 16 23 18 22 20 19 20 19 21 16 22 15 23 13 23 12 24 10 23 8 24 7 24 6 23 4 24 3 22 1 23 1 22 0 21-4 22-4 20-3 20-4 19-3 18-4 17-5 17-4 17-5 16-6 15-5 16-5 15-5 15-6 14-5 15-5 15-5 15-5 16-6 15-7 15-6 16-7 16-7 17-7 18-8 19-7 21-9 20-10 24-8 28-7 36-6 48" stroke="#ffb200" stroke-opacity="0.50"/>
<path d="M848 1350l-10-46-10-36-11-30-10-27-10-23-10-22-9-21-9-19-9-18-9-18-8-17-8-17-8-17-8-17-7-16-8-17-7-16-7-17-7-17-7-17-7-18-6-18-6-19-6-19-5-19-5-21-4-21-4-21-2-22-2-23-1-23 0-24 1-25 2-25 4-25 5-26 7-26 9-25 10-25 13-24 15-24 16-22 19-22 19-20 22-19 23-17 24-16 25-15 26-12 27-11 28-9 29-7 29-4 30-2 29 1 29 3 29 6 28 9 27 12 26 14 24 16 23 18 21 19 20 21 18 21 17 22 14 23 14 23 11 23 10 24 9 23 7 24 5 23 4 24 3 23 2 22 1 22-1 21-3 22-4 21-3 19-4 19-3 18-4 17-5 17-4 17-6 16-5 15-5 16-5 15-5 15-6 14-5 15-5 15-5 15-5 16-6 15-7 15-6 16-7 16-7 17-7 18-8 19-7 21-9 21-9 23-9 28-7 36-6 48" stroke="#ff8100" stroke-opacity="0.50"/>
<path d="M848 1350l-10-46-11-36-10-30-10-26-10-24-10-22-10-20-9-20-8-18-9-18-8-17-8-17-8-17-8-16-8-17-7-16-7-17-8-17-7-17-6-17-7-18-6-18-6-19-6-19-5-19-4-21-5-20-3-22-3-22-2-23-1-23 0-24 1-25 2-25 4-25 5-26 7-25 9-26 11-25 13-24 14-23 17-23 18-21 20-20 21-19 23-17 24-16 25-15 26-12 28-11 28-9 28-7 29-4 30-2 29 1 29 3 29 6 28 9 27 12 26 14 24 16 23 18 21 19 20 20 18 21 16 22 15 23 13 23 12 23 10 24 9 24 7 23 5 24 4 23 3 23 2 22 0 22 0 21-3 22-4 21-3 19-4 19-3 18-4 17-5 17-5 17-5 16-5 15-5 16-5 15-5 15-6 14-5 15-5 15-5 15-5 16-6 15-6 15-7 16-7 17-7 17-7 18-7 19-8 20-9 21-9 23-9 28-7 36-6 48" stroke="#ff7400" stroke-opacity="0.50"/>
<path d="M848 1351l-10-47-11-36-10-30-11-26-10-24-9-22-10-20-9-19-9-19-8-18-9-17-8-17-8-17-7-16-8-17-7-16-8-17-7-17-7-17-6-17-7-18-6-18-6-19-5-19-5-19-5-21-4-20-4-22-2-22-2-23-1-23 0-24 1-24 2-25 4-26 5-25 7-26 9-25 10-25 13-24 15-24 16-22 19-21 19-20 22-19 22-18 24-16 25-14 27-13 27-10 28-9 28-7 29-4 30-2 29 0 29 4 29 6 28 9 27 12 25 14 25 16 23 17 21 20 19 20 19 21 16 22 15 22 13 23 12 24 10 23 8 24 7 23 6 24 4 23 3 23 2 22 0 22 0 22-3 21-4 21-3 19-4 19-3 18-4 17-5 17-5 17-5 16-5 15-5 16-5 15-5 15-6 14-5 15-5 15-5 15-5 16-6 15-6 16-7 15-7 17-7 17-7 18-7 19-8 20-9 21-9 23-9 28-7 36-6 48" stroke="#ff6800" stroke-opacity="0.50"/>
<path d="M848 1351l-10-46-11-36-11-30-10-27-10-23-10-22-9-21-9-19-9-18-9-18-8-18-8-17-8-16-8-17-7-17-8-16-7-17-7-17-7-17-6-17-7-18-6-18-5-19-6-19-5-19-5-20-4-21-3-22-3-22-2-22-1-24 0-24 1-24 2-25 4-25 5-26 7-25 9-26 11-25 13-24 14-23 17-22 18-22 20-20 21-18 23-18 24-16 25-14 26-13 27-10 28-9 28-7 29-4 30-2 29 0 29 4 29 6 28 9 27 11 25 14 24 16 23 18 22 19 19 20 18 21 17 22 14 23 14 23 11 23 10 24 9 23 7 24 5 23 5 23 3 23 1 22 1 22 0 22-3 21-4 21-3 19-4 19-3 18-4 17-5 17-5 17-5 16-5 15-5 16-5 15-5 15-5 14-6 15-5 15-5 15-5 16-6 15-6 16-7 15-7 17-7 17-7 18-7 19-8 21-9 20-9 23-9 28-7 36-6 48" stroke="#ff5b00" stroke-opacity="0.50"/>
<path d="M847 1352l-9-47-11-36-11-30-10-26-10-24-10-22-9-20-9-20-9-18-9-18-8-17-8-17-8-17-8-17-8-16-7-17-7-17-7-17-7-17-6-17-7-18-5-18-6-19-5-19-5-19-5-20-4-21-4-22-2-22-2-22-1-24 0-24 1-24 2-25 4-25 5-26 7-25 9-25 11-25 12-24 15-24 16-22 18-21 20-20 21-19 23-17 24-16 25-14 26-13 27-11 28-8 29-7 28-4 30-2 29 0 29 3 29 7 28 9 26 11 26 14 24 16 23 18 21 19 20 20 18 21 16 22 15 22 13 23 12 23 10 24 9 23 7 24 5 23 4 23 3 23 2 23 1 21 0 22-3 21-4 21-3 19-4 19-3 18-4 17-5 17-5 17-5 16-5 15-5 16-5 15-5 15-5 14-5 15-5 15-5 16-6 15-6 15-6 16-7 16-6 16-7 17-8 18-7 19-8 21-9 20-9 23-9 28-7 36-6 48" stroke="#ff4e00" stroke-opacity="0.50"/>
<path d="M847 1352l-10-47-10-36-11-30-10-26-10-24-10-22-10-20-9-19-9-19-8-18-9-17-8-17-8-17-8-17-7-16-7-17-7-17-7-17-7-17-6-17-6-18-6-18-6-19-5-19-5-19-5-20-4-21-3-22-3-22-2-22-1-23 0-24 1-25 2-25 4-25 5-25 7-26 9-25 11-25 13-24 14-23 17-22 18-21 20-20 21-19 22-17 24-16 25-14 26-13 27-11 28-8 29-7 29-5 29-2 29 1 29 3 29 6 27 9 27 12 26 14 24 16 23 17 21 19 20 20 18 22 16 21 15 23 13 23 12 23 10 23 8 24 7 23 6 23 4 24 3 22 2 23 1 21 0 22-3 21-4 21-3 19-4 19-3 18-4 17-5 17-5 17-5 16-5 15-5 16-5 15-5 15-5 14-5 15-5 15-5 16-5 15-6 15-7 16-6 16-7 16-7 17-7 18-8 19-8 21-9 20-9 23-9 28-7 36-6 48" stroke="#ff4100" stroke-opacity="0.50"/>
<path d="M847 1352l-10-46-10-36-11-30-10-27-11-23-9-22-10-21-9-19-9-19-9-17-8-18-8-17-8-17-8-16-8-17-7-17-7-17-7-17-6-17-6-17-6-18-6-18-5-19-5-19-6-19-4-20-4-21-4-21-2-22-2-23-1-23 0-24 1-24 2-25 4-26 5-25 7-25 9-25 11-25 12-24 15-23 16-23 18-21 20-20 21-18 23-18 24-15 25-15 26-12 27-11 27-9 29-6 29-5 29-2 29 1 29 3 29 6 27 9 27 12 26 14 24 15 23 18 21 19 19 20 18 21 17 22 15 22 13 23 11 23 11 23 8 24 7 23 6 24 4 23 3 22 2 23 1 22-1 21-2 21-4 21-4 19-3 19-3 18-4 17-5 17-5 17-5 16-5 15-5 16-5 15-5 15-5 14-5 15-5 15-5 16-5 15-6 16-7 15-6 16-7 16-7 17-7 18-8 19-7 21-10 20-9 23-9 28-7 36-6 48" stroke="#ff3500" stroke-opacity="0.50"/>
<path d="M847 1353l-10-47-11-36-10-30-11-26-10-24-10-22-9-20-9-20-9-18-9-18-8-18-8-17-9-16-7-17-8-17-7-17-7-16-7-18-6-17-6-17-6-18-6-18-5-19-5-19-5-19-5-20-4-21-3-21-3-22-2-23-1-23 0-24 1-24 2-25 4-25 5-26 7-25 9-25 11-25 13-24 14-23 17-22 18-21 19-20 22-18 22-18 24-15 25-15 26-12 27-11 28-9 28-6 29-5 29-2 29 1 29 3 28 6 28 9 27 11 25 14 25 16 22 18 21 18 20 21 18 21 16 21 15 23 13 22 12 23 10 24 9 23 7 24 5 23 5 23 3 23 2 22 0 22 0 21-3 21-3 21-4 19-3 19-3 18-4 17-5 17-5 17-5 16-5 15-5 16-5 15-5 15-5 15-5 14-5 15-5 16-5 15-6 16-6 15-7 16-7 16-7 18-7 18-8 19-7 20-10 20-9 23-9 28-7 36-6 48" stroke="#ff2800" stroke-opacity="0.50"/>
</g></g>
<g clip-path="url(#legA)"><path transform="scale(0.1)" d="M847 1353l-10-47-11-36-10-30-11-26-10-24-10-22-9-20-9-20-9-18-9-18-8-18-8-17-9-16-7-17-8-17-7-17-7-16-7-18-6-17-6-17-6-18-6-18-5-19-5-19-5-19-5-20-4-21-3-21-3-22-2-23-1-23 0-24 1-24 2-25 4-25 5-26 7-25 9-25 11-25 13-24 14-23 17-22 18-21 19-20 22-18 22-18 24-15 25-15 26-12 27-11 28-9 28-6 29-5 29-2 29 1 29 3 28 6 28 9 27 11 25 14 25 16 22 18 21 18 20 21 18 21 16 21 15 23 13 22 12 23 10 24 9 23 7 24 5 23 5 23 3 23 2 22 0 22 0 21-3 21-3 21-4 19-3 19-3 18-4 17-5 17-5 17-5 16-5 15-5 16-5 15-5 15-5 15-5 14-5 15-5 16-5 15-6 16-6 15-7 16-7 16-7 18-7 18-8 19-7 20-10 20-9 23-9 28-7 36-6 48" fill="none" stroke="#ff4020" stroke-width="6"/></g>
<g clip-path="url(#cl1b)"><g transform="scale(0.1)" fill="none" stroke-width="7.5" stroke-opacity="1.0" stroke-linejoin="round">
<path d="M864 2943l-7-36-6-31-6-27-5-24-4-22-5-20-3-19-3-18-3-17-2-16-2-15-2-14-2-14-1-14-1-13 0-13 0-12 0-12 0-12 0-11 1-12 1-11 1-11 2-11 1-11 2-10 3-11 2-10 3-11 3-10 4-11 4-10 4-10 5-10 5-10 6-9 6-10 7-9 7-9 8-8 8-8 8-8 10-7 9-6 10-7 10-5 11-5 11-5 11-4 12-3 11-3 12-2 12-1 12 0 12 1 12 1 12 3 11 3 11 5 11 5 10 5 10 7 10 7 9 7 8 7 8 8 8 9 7 8 7 9 6 9 6 9 6 9 5 9 5 9 5 10 4 9 5 10 4 10 3 10 4 10 3 10 3 10 3 11 2 11 2 11 2 11 2 11 1 12 1 12 0 12 0 13 0 13-1 13-1 13-2 14-2 14-3 15-3 15-3 16-4 16-5 18-4 19-5 20-5 23-6 26-4 31-3 44" stroke="#000000"/>
<path d="M864 2943l-7-36-6-31-6-27-5-24-4-22-5-20-3-19-3-18-3-17-2-16-3-15-1-14-2-14-1-14-1-13 0-13-1-12 0-12 1-12 0-11 1-12 1-11 1-11 1-11 2-11 2-10 2-11 3-11 3-10 3-10 3-11 4-10 4-10 5-10 5-10 6-10 6-10 6-9 7-9 8-9 8-8 9-8 9-7 10-7 10-7 10-5 11-6 11-5 11-4 12-3 12-3 12-2 12-1 12 0 12 0 12 2 12 3 12 3 11 5 11 5 11 6 10 7 9 7 9 7 9 8 8 8 7 9 7 9 7 8 7 9 5 9 6 10 5 9 5 10 5 9 4 10 5 9 4 10 3 10 4 10 3 11 3 10 2 11 3 11 2 11 2 11 1 11 1 12 1 12 1 12 0 13-1 13-1 13-1 13-2 14-2 14-3 15-3 15-3 16-4 16-5 18-4 19-5 20-5 23-5 26-5 31-3 44" stroke="#0f0013"/>
<path d="M864 2943l-7-36-6-31-6-27-5-24-4-22-5-20-3-19-3-18-3-17-3-16-2-15-1-14-2-14-1-14-1-13 0-12-1-13 0-12 0-12 1-11 0-12 1-11 1-11 2-11 2-11 1-10 3-11 2-11 3-10 3-11 3-10 4-11 4-10 5-10 5-10 6-10 6-10 6-9 7-9 8-9 8-9 9-8 9-8 9-7 10-7 11-6 11-5 11-5 11-5 12-3 12-3 12-2 13-2 12 0 13 1 12 2 12 3 12 4 11 4 11 6 11 6 10 7 9 7 10 8 8 8 8 8 8 9 7 9 7 9 6 9 6 9 5 10 6 9 5 10 4 9 5 10 4 10 3 10 4 10 3 10 3 11 3 10 3 11 2 11 2 11 2 11 1 11 2 12 0 12 1 12 0 13-1 13-1 13-1 13-2 14-2 14-3 15-3 15-3 16-4 16-5 18-4 19-5 20-5 23-5 26-5 32-3 43" stroke="#1f0026"/>
<path d="M864 2943l-7-36-6-31-6-27-5-24-4-22-5-20-3-19-3-18-3-17-3-16-2-15-1-14-2-14-1-14-1-13-1-12 0-13 0-12 0-12 0-11 1-12 1-11 1-11 1-11 2-11 2-11 2-10 3-11 2-10 3-11 4-11 3-10 5-10 4-11 5-10 5-10 6-10 7-9 7-10 7-9 9-9 8-8 9-8 10-8 10-7 10-6 11-6 12-5 11-4 12-4 13-3 12-3 13-1 12 0 13 1 12 2 13 3 12 4 11 5 11 5 11 7 10 7 10 7 9 8 9 9 8 8 7 9 7 9 7 9 6 10 6 9 6 10 5 9 5 10 4 10 5 10 4 10 3 10 4 10 3 10 3 10 3 11 2 11 3 11 2 11 1 11 2 11 1 12 1 12 0 12 0 13-1 13-1 13-1 13-2 14-2 14-3 15-3 15-3 16-4 16-5 18-4 19-5 20-5 23-5 26-5 32-3 43" stroke="#2e003c"/>
<path d="M864 2943l-7-36-6-31-6-27-5-24-4-22-5-20-3-19-3-18-3-17-3-16-2-15-1-14-2-14-1-14-1-13-1-12 0-13 0-12 0-12 0-11 1-12 1-11 1-11 1-11 2-11 1-11 3-10 2-11 3-11 3-10 3-11 4-10 4-11 4-10 5-11 5-10 6-10 7-10 7-9 7-10 8-9 9-8 9-8 9-8 11-7 10-7 11-6 12-6 11-4 13-4 12-3 13-3 13-1 12 0 13 0 13 2 12 4 13 4 11 5 12 6 10 6 11 8 9 8 9 8 9 8 8 9 8 9 7 10 7 9 6 10 6 9 5 10 5 10 5 9 4 10 5 10 4 10 3 10 4 11 3 10 3 10 2 11 3 11 2 11 2 11 2 11 1 11 1 12 1 12 0 13 0 12-1 13-1 13-1 13-2 14-2 14-3 15-3 15-3 16-4 16-5 18-4 19-5 20-5 23-5 26-5 32-3 43" stroke="#3e0056"/>
<path d="M864 2943l-7-36-6-31-6-27-5-24-4-22-5-20-3-19-3-18-3-17-3-16-2-15-2-14-1-14-1-14-1-13-1-12-1-13 0-12 0-12 1-11 0-12 1-11 1-11 2-11 1-11 2-11 2-10 2-11 3-11 3-11 3-10 4-11 4-10 4-11 5-10 5-11 6-10 6-10 7-10 8-9 8-9 8-9 9-9 10-8 10-7 11-7 11-7 12-5 12-5 12-4 12-4 13-2 13-1 13-1 14 1 13 2 12 3 13 5 11 5 12 6 11 7 10 8 10 8 9 8 9 9 8 9 7 9 7 10 7 10 6 9 6 10 5 10 5 10 5 10 5 10 4 10 4 10 3 10 3 10 4 11 2 10 3 11 2 11 3 11 1 11 2 11 1 12 1 11 1 12 0 13 0 12-1 13-1 13-1 13-2 14-2 14-3 15-3 15-3 16-4 16-5 18-4 19-5 20-5 23-5 26-5 32-3 43" stroke="#4d0070"/>
<path d="M864 2943l-7-36-6-31-6-27-5-24-4-22-5-20-3-19-3-18-3-17-3-16-2-15-2-14-1-14-1-14-1-13-1-12-1-13 0-12 0-11 1-12 0-12 1-11 1-11 1-11 2-11 1-11 2-11 3-10 2-11 3-11 3-10 4-11 4-11 4-10 5-11 5-10 6-11 6-10 7-10 7-10 8-9 9-10 9-8 9-9 11-7 10-8 12-6 11-6 13-5 12-4 13-4 13-2 13-2 14 0 13 1 13 2 13 3 12 5 12 6 12 6 11 7 10 8 10 8 9 9 9 9 8 9 8 10 7 9 6 10 7 10 5 10 6 10 5 10 4 10 5 10 4 10 3 11 4 10 3 10 3 11 3 10 3 11 2 11 2 11 2 11 1 11 2 12 1 11 0 12 0 13 0 12-1 13-1 13-1 13-2 14-2 14-3 15-3 15-3 16-4 16-5 18-4 19-5 20-5 23-5 26-5 32-3 43" stroke="#5c0089"/>
<path d="M864 2943l-7-36-6-31-6-27-5-24-4-22-5-20-3-19-3-18-3-17-3-16-2-15-2-14-1-14-2-13-1-13 0-13-1-12 0-13 0-11 0-12 1-12 1-11 1-11 1-11 1-11 2-11 2-11 2-11 3-10 3-11 3-11 3-11 4-10 4-11 5-11 5-10 6-11 6-10 7-10 7-10 8-10 8-10 9-9 10-8 10-8 11-8 11-7 12-6 13-5 12-4 13-4 14-3 13-1 14 0 13 0 14 3 13 3 12 5 12 6 12 6 11 8 11 8 10 8 9 9 9 10 8 9 7 10 7 10 7 10 6 10 6 10 5 10 5 10 4 10 5 11 4 10 3 10 4 10 3 11 3 10 3 11 2 11 2 11 2 11 2 11 2 11 1 12 1 11 0 12 0 13 0 12-1 13-1 13-1 13-2 14-2 14-3 15-3 15-3 16-4 16-5 18-4 19-5 20-5 23-5 26-5 32-3 43" stroke="#66009a"/>
<path d="M864 2943l-7-36-6-31-6-27-5-24-4-22-5-20-3-19-3-18-3-17-3-16-2-15-2-14-1-14-2-13-1-13-1-13 0-12 0-12 0-12 0-12 0-11 1-12 1-11 1-11 2-11 1-11 2-11 3-11 2-11 3-10 3-11 3-11 4-11 4-11 5-10 5-11 6-11 6-10 6-11 8-10 7-10 9-10 9-9 10-9 10-8 11-8 11-7 12-6 13-6 13-4 13-4 13-3 14-1 14-1 13 1 14 3 13 3 13 5 12 6 12 7 11 8 11 8 10 9 9 9 9 9 8 10 8 10 7 10 6 10 6 10 6 11 5 10 5 10 5 11 4 10 4 10 3 11 4 10 3 11 3 10 2 11 3 11 2 10 2 12 2 11 1 11 1 12 1 11 1 12-1 13 0 12-1 13-1 13-1 13-2 14-2 14-3 15-3 15-3 16-4 16-5 18-4 19-5 20-5 23-5 26-5 32-3 43" stroke="#6a00a2"/>
<path d="M864 2943l-7-36-6-31-6-27-5-24-4-22-5-20-3-19-3-18-3-17-3-15-2-16-2-14-1-14-2-13-1-13-1-13 0-12-1-12 0-12 1-12 0-11 1-12 1-11 1-11 1-11 2-11 2-11 2-11 2-11 3-11 3-11 3-10 4-11 4-11 5-11 5-11 5-11 6-11 7-10 7-11 8-10 8-10 9-10 10-9 10-9 11-8 12-7 12-6 13-6 13-4 13-4 14-3 14-2 14 0 14 1 14 2 13 4 13 5 13 6 11 7 12 8 10 9 10 9 10 9 9 10 8 10 7 10 7 10 7 10 6 11 6 10 5 11 5 10 4 11 4 10 4 11 4 10 3 11 3 10 3 11 2 11 3 11 2 10 2 11 1 12 2 11 1 12 0 12 1 12-1 12 0 12-1 13-1 13-1 13-2 14-2 14-3 15-3 15-3 16-4 16-5 18-4 19-5 20-5 23-5 27-5 31-3 43" stroke="#6e00a9"/>
<path d="M864 2943l-7-36-6-31-6-27-5-24-4-22-5-20-3-19-3-18-3-17-3-15-2-16-2-14-2-14-1-13-1-13-1-13-1-12 0-12 0-12 0-12 1-11 0-12 1-11 1-11 2-11 1-11 2-11 2-11 3-11 2-11 3-11 3-11 4-11 4-11 5-11 5-11 5-11 6-11 7-11 7-11 7-10 9-10 9-10 9-10 11-9 11-8 12-7 12-7 13-6 13-5 14-3 14-3 14-2 14-1 14 2 14 2 14 4 13 5 13 7 12 7 11 8 11 9 10 9 9 9 9 10 8 10 8 11 7 10 7 11 6 10 5 11 5 11 5 10 4 11 4 11 4 10 4 11 3 10 3 11 3 11 2 11 2 10 2 11 2 11 2 12 1 11 1 12 1 12 0 12 0 12-1 12-1 13-1 13-1 13-2 14-2 14-3 15-3 15-3 16-4 16-5 18-4 19-5 20-5 23-5 27-5 31-3 43" stroke="#6200ba"/>
<path d="M864 2943l-7-36-6-31-6-27-5-24-4-22-5-20-3-19-3-18-3-17-3-15-2-15-2-15-2-14-1-13-1-13-1-13-1-12 0-12 0-12 0-12 0-11 1-12 1-11 1-11 1-11 2-11 1-11 2-11 3-11 2-11 3-11 4-11 3-12 4-11 5-11 4-11 6-11 6-11 6-12 7-10 8-11 8-11 9-10 10-10 10-9 12-8 11-8 13-7 13-6 13-5 14-4 14-3 14-1 15-1 14 1 15 3 13 4 14 5 13 7 12 7 11 9 11 9 10 9 10 10 9 10 8 10 8 11 7 10 6 11 6 11 6 11 5 11 4 10 5 11 4 11 3 11 4 10 3 11 3 11 2 11 3 10 2 11 2 11 2 11 1 12 1 11 1 12 1 12 0 12 0 12-1 12-1 13-1 13-1 13-2 14-2 14-3 15-3 15-3 16-4 16-5 18-4 19-5 21-5 22-5 27-5 31-3 43" stroke="#5500cb"/>
<path d="M864 2943l-7-36-6-31-6-27-5-24-5-22-4-20-3-19-4-18-2-17-3-15-2-15-2-15-2-14-1-13-1-13-2-13 0-12-1-12 0-12 0-12 1-11 0-12 1-11 1-11 2-11 1-11 2-11 2-11 2-11 3-12 2-11 4-11 3-11 4-11 4-12 5-11 5-11 6-12 7-11 7-11 7-11 9-11 9-10 9-10 11-10 11-9 12-7 13-7 13-6 14-5 14-4 14-4 14-1 15-1 15 1 14 3 14 4 14 6 13 6 12 8 12 9 11 9 10 9 9 10 9 10 9 11 7 11 7 11 7 11 6 11 5 11 5 11 5 11 4 10 4 11 4 11 3 11 3 11 3 11 2 10 3 11 2 11 2 11 1 11 2 12 1 11 1 12 0 12 1 12-1 12-1 12-1 13-1 13-1 13-2 14-2 14-3 15-3 15-3 16-4 16-4 18-5 19-5 21-5 23-5 26-5 31-3 43" stroke="#4004de"/>
<path d="M864 2943l-7-36-6-31-6-27-5-24-5-22-4-20-3-19-4-18-2-17-3-15-2-15-2-15-2-14-1-13-2-13-1-13-1-12 0-12 0-12 0-12 0-11 1-12 1-11 1-11 1-11 1-11 2-12 2-11 2-11 3-11 3-11 3-11 3-12 4-11 4-11 5-12 5-11 6-12 6-12 7-11 8-11 8-11 9-11 10-10 11-10 11-9 12-8 13-7 13-6 14-5 14-4 15-3 14-2 15-1 15 1 14 3 15 4 13 6 14 7 12 8 12 8 11 10 10 9 10 11 9 10 8 11 8 11 7 11 6 11 6 11 6 11 5 12 4 11 4 11 4 11 4 11 3 11 3 10 3 11 2 11 2 11 2 11 2 11 2 11 1 12 1 11 1 12 1 12 0 12-1 12-1 12 0 13-2 13-1 13-2 14-2 14-3 15-3 15-3 16-4 16-4 18-5 19-5 21-5 23-5 26-5 31-3 43" stroke="#250bf2"/>
<path d="M864 2943l-7-36-6-31-6-27-5-24-5-22-4-20-3-19-4-18-2-17-3-15-2-15-2-15-2-14-2-13-1-13-1-13-1-12 0-12 0-12 0-12 0-11 1-12 0-11 1-11 2-11 1-12 2-11 1-11 3-11 2-11 3-11 3-12 3-11 4-12 4-11 5-12 5-12 6-11 6-12 7-12 7-11 9-11 9-11 10-11 10-10 12-9 12-8 13-7 13-7 14-5 14-4 15-3 15-2 15-1 15 1 15 3 14 5 14 5 14 7 12 8 12 9 11 10 11 10 9 10 9 11 9 11 7 11 8 11 6 11 6 12 5 11 5 11 5 12 4 11 4 11 3 11 3 11 3 11 3 11 2 11 2 11 2 11 2 11 1 11 2 12 1 11 0 12 1 12 0 12-1 12-1 12 0 13-2 13-1 13-2 14-2 14-3 15-3 15-3 16-4 16-4 18-5 19-5 21-5 23-5 26-5 31-3 43" stroke="#100dff"/>
<path d="M864 2943l-7-36-6-31-6-27-5-24-5-22-4-20-3-19-4-18-2-17-3-15-2-15-2-15-2-14-2-13-1-13-1-12-1-13 0-12-1-12 0-12 1-11 0-12 1-11 1-11 1-11 1-12 2-11 2-11 2-11 2-11 3-12 3-11 3-12 4-11 4-12 5-12 5-12 5-12 6-12 7-11 8-12 8-12 9-11 10-11 11-10 11-9 13-8 13-8 13-6 14-6 15-4 15-3 15-2 15-1 15 1 15 3 15 5 14 6 14 7 12 8 12 9 12 10 10 10 10 11 9 10 8 12 8 11 7 11 7 12 5 11 6 12 5 11 4 12 4 11 4 11 3 11 3 12 3 11 3 11 2 11 2 11 2 11 1 11 2 11 1 12 1 11 1 12 0 12 0 12-1 12-1 12 0 13-2 13-1 13-2 14-2 14-3 15-3 15-3 16-4 16-4 18-5 19-5 21-5 23-5 26-5 31-3 43" stroke="#0605ff"/>
<path d="M864 2943l-7-36-6-31-6-27-5-24-5-22-4-20-3-19-4-18-2-16-3-16-2-15-2-15-2-14-2-13-1-13-2-12 0-13-1-12 0-12 0-12 0-11 1-12 0-11 1-11 1-12 2-11 1-11 2-11 2-11 2-12 3-11 3-12 3-11 4-12 4-12 4-12 5-12 6-12 6-12 7-12 7-12 9-12 9-11 10-11 10-11 12-9 12-9 14-7 13-7 15-5 14-5 16-3 15-2 15-1 16 2 15 3 15 4 14 6 14 8 12 8 13 9 11 10 11 10 9 11 10 11 8 11 8 12 7 12 6 11 6 12 5 12 5 11 5 12 4 11 3 12 3 11 3 11 3 11 3 11 2 12 2 11 2 11 1 11 1 11 2 12 1 11 0 12 1 12 0 12-2 12 0 12-1 13-2 13-1 13-2 14-2 14-3 15-3 15-3 16-4 16-4 18-5 19-5 21-5 23-5 26-5 31-3 43" stroke="#0008ff"/>
<path d="M864 2943l-7-36-6-31-6-27-5-24-5-22-4-20-3-19-4-18-3-16-2-16-2-15-3-15-1-13-2-14-1-13-2-12-1-13 0-12 0-12 0-12 0-11 0-12 1-11 1-11 1-12 1-11 2-11 1-11 2-12 3-11 2-12 3-11 3-12 4-12 4-12 4-12 5-12 6-12 6-13 6-12 8-12 8-12 9-12 10-11 11-11 12-9 12-9 14-8 14-6 14-6 15-5 15-3 16-2 15-1 16 2 15 3 15 4 15 7 13 7 14 9 12 9 11 10 11 11 10 10 9 12 9 11 7 12 7 12 7 12 6 12 5 11 5 12 4 12 4 11 3 12 4 11 3 12 2 11 3 11 2 11 2 12 1 11 2 11 1 11 1 12 1 11 1 12 0 12 0 12-1 12-1 12-1 13-1 13-2 13-2 14-2 14-3 15-3 15-3 16-4 16-4 18-5 19-5 21-5 23-5 26-5 31-3 43" stroke="#001dff"/>
<path d="M864 2943l-7-36-6-31-6-27-5-24-5-22-4-20-3-19-4-18-3-16-2-16-3-15-2-15-1-13-2-14-2-13-1-12-1-13 0-12-1-12 0-11 1-12 0-12 1-11 0-11 1-12 2-11 1-11 2-12 2-11 2-11 2-12 3-12 3-11 4-12 4-12 4-13 5-12 5-13 6-12 7-13 7-12 9-12 9-12 10-12 11-11 11-10 13-8 14-8 14-7 14-6 15-5 16-3 16-2 15-1 16 2 16 3 15 5 15 6 13 8 14 8 12 10 12 10 10 11 10 11 10 11 8 12 8 12 7 12 6 12 6 12 5 12 5 12 4 12 4 12 4 11 3 12 3 11 2 12 2 11 3 11 1 11 2 12 1 11 2 11 1 12 0 11 1 12 0 12 0 12-1 12-1 12-1 13-1 13-2 13-2 14-2 14-3 15-3 15-3 16-4 16-4 18-5 19-5 21-5 23-5 26-5 32-3 42" stroke="#0031ff"/>
<path d="M864 2943l-7-36-6-31-6-27-5-24-5-22-4-20-3-19-4-18-3-16-2-16-3-15-2-15-2-13-1-14-2-13-1-12-1-12-1-13 0-12 0-11 0-12 1-12 0-11 1-11 1-12 1-11 1-11 2-12 2-11 2-12 2-11 3-12 3-12 4-12 3-12 5-13 5-12 5-13 6-13 7-12 7-13 8-13 9-12 10-11 11-12 12-10 13-9 14-8 14-7 15-6 15-4 16-4 15-2 16-1 17 2 15 3 16 5 14 6 14 8 14 9 12 10 12 10 11 11 10 11 9 12 9 12 7 12 8 12 6 13 6 12 5 12 5 12 4 12 4 12 3 12 3 11 3 12 2 11 2 12 2 11 2 11 2 12 1 11 1 11 1 12 1 11 0 12 1 12-1 12-1 12-1 12-1 13-1 13-2 13-2 14-2 14-3 15-3 15-3 16-4 17-4 17-5 19-5 21-4 23-6 27-5 31-3 42" stroke="#0046ff"/>
<path d="M864 2943l-7-36-6-31-6-27-5-24-5-22-4-20-3-19-4-18-3-16-2-16-3-15-2-14-2-14-1-14-2-12-1-13-1-12-1-13 0-12 0-11 0-12 0-12 1-11 0-11 1-12 1-11 2-11 1-12 2-11 2-12 2-12 3-12 3-12 4-12 3-12 4-13 5-12 5-13 6-13 7-13 7-13 9-13 9-12 10-12 11-12 12-10 13-9 13-8 15-7 15-6 15-5 16-4 16-2 17-1 16 2 16 3 15 5 15 7 14 8 14 9 12 10 12 10 11 11 10 12 10 12 8 12 8 12 7 12 7 13 5 12 5 13 5 12 4 12 4 12 3 12 3 12 3 11 2 12 2 11 2 12 2 11 1 12 2 11 1 11 1 12 0 11 1 12 0 12 0 12-2 12-1 12-1 13-1 13-2 13-2 14-2 14-3 15-3 15-3 16-4 17-4 17-5 19-5 21-4 23-5 27-6 31-3 42" stroke="#005cff"/>
<path d="M864 2943l-7-36-6-31-6-27-5-24-5-22-4-20-3-19-4-18-3-16-2-16-3-15-2-14-2-14-2-14-1-12-2-13-1-12 0-12-1-12 0-12 0-12 1-12 0-11 1-11 1-12 1-11 1-12 1-11 2-12 2-11 3-12 2-12 3-12 3-13 4-12 4-13 5-13 5-13 6-13 6-13 8-13 8-13 9-13 10-12 11-12 12-10 13-10 14-8 15-7 15-6 16-5 16-4 16-2 17-1 16 2 16 3 16 5 15 7 14 8 14 9 13 10 12 11 11 11 10 12 9 12 9 12 8 13 7 12 6 13 6 13 5 12 5 13 4 12 3 12 4 12 3 12 2 12 2 12 3 11 1 12 2 11 1 11 1 12 1 11 1 12 1 12 0 11 0 12 0 12-2 12-1 12-1 13-1 13-2 13-2 14-2 14-3 15-3 15-3 16-4 17-4 17-5 19-4 21-5 23-5 27-5 31-4 42" stroke="#0075ff"/>
<path d="M864 2943l-7-36-6-31-6-27-5-24-5-22-4-20-3-19-4-18-3-16-2-16-3-15-2-14-2-14-2-13-1-13-2-13-1-12-1-12 0-12 0-12 0-12 0-12 1-11 0-11 1-12 1-11 1-12 2-11 1-12 2-12 3-12 2-12 3-12 3-12 4-13 4-13 4-13 6-13 5-13 7-14 7-13 8-14 9-13 11-12 11-12 12-10 13-10 14-9 15-7 15-6 16-5 17-4 16-2 17-1 16 2 17 3 16 5 15 7 14 8 14 10 13 10 12 11 11 11 11 12 9 13 9 12 8 13 7 13 6 12 6 13 5 13 4 12 4 13 4 12 3 12 3 12 2 12 3 12 2 12 1 11 2 12 1 11 1 12 1 11 1 12 0 12 0 11 1 12-1 12-2 12-1 12-1 13-1 13-2 13-2 14-2 14-3 15-3 15-3 16-4 17-4 17-5 19-4 21-5 23-5 27-5 31-4 42" stroke="#008eff"/>
<path d="M864 2943l-7-36-6-31-6-27-5-24-5-22-4-20-3-19-4-18-3-16-2-16-3-15-2-14-2-14-2-13-2-13-1-13-1-12-1-12 0-12-1-12 0-12 1-11 0-12 1-11 0-12 1-11 2-12 1-12 2-11 1-12 3-12 2-12 3-12 3-13 4-13 4-13 4-13 5-13 6-14 6-14 8-13 8-14 9-13 10-13 11-12 13-11 13-10 14-8 15-8 16-6 16-5 16-4 17-2 17-1 17 2 16 3 16 6 16 6 14 9 14 9 13 11 12 11 12 12 10 12 10 12 8 13 8 13 7 13 7 13 5 13 6 13 4 12 4 13 3 12 4 13 2 12 3 12 2 12 2 11 1 12 2 12 1 11 1 12 1 11 0 12 1 12 0 11 0 12-1 12-2 12-1 13-1 12-1 13-2 13-2 14-2 14-3 15-3 15-3 16-4 17-4 17-5 19-4 21-5 23-5 27-5 31-4 42" stroke="#00a4ff"/>
<path d="M864 2943l-7-36-6-31-6-27-5-24-5-22-4-20-3-19-4-18-3-16-2-16-3-15-2-14-2-14-2-13-2-13-1-13-2-12 0-12-1-12 0-12 0-12 0-11 1-12 0-12 1-11 1-12 1-11 1-12 2-11 2-12 2-12 2-13 3-12 3-13 3-13 4-13 5-13 5-14 5-14 7-14 7-14 8-13 9-14 10-13 12-12 12-11 14-10 14-9 15-8 16-6 16-5 17-4 17-2 17-1 17 1 17 4 16 5 16 7 14 9 15 10 13 10 12 12 11 12 11 12 9 12 9 13 8 13 7 14 7 13 5 13 5 13 5 13 4 13 3 13 3 12 3 12 2 12 2 12 2 12 1 12 2 12 1 11 1 12 0 11 1 12 0 12 0 11 0 12 0 12-2 12-2 13-1 12-1 13-2 13-2 14-2 14-3 15-3 15-3 16-4 17-4 17-5 19-4 21-5 24-5 26-5 31-4 42" stroke="#00b5ff"/>
<path d="M864 2943l-7-36-6-31-6-27-5-24-5-22-4-20-3-19-4-18-3-16-3-16-2-15-2-14-2-14-2-13-2-13-2-13-1-12-1-12 0-12 0-12 0-12 0-11 0-12 1-12 0-11 1-12 1-11 1-12 2-12 2-12 2-12 2-12 3-13 3-13 3-13 4-13 4-14 5-13 6-14 6-15 7-14 8-14 10-14 10-13 11-12 13-12 13-10 15-9 15-8 16-6 17-5 16-4 18-3 17 0 17 1 17 4 17 5 16 7 15 9 14 10 13 11 12 11 12 12 10 13 10 13 9 13 8 13 7 14 6 13 6 13 5 14 4 13 4 13 3 13 3 12 3 13 2 12 2 12 2 12 1 12 1 11 1 12 1 12 1 11 0 12 1 12 0 12 0 11-1 13-2 11-2 13-1 12-1 13-2 14-2 13-2 14-3 15-3 15-3 16-4 17-4 17-5 19-4 21-5 24-5 26-5 31-4 42" stroke="#00c5ff"/>
<path d="M864 2943l-7-36-6-31-6-27-5-24-5-22-4-20-3-19-4-18-3-16-3-16-2-15-2-14-2-14-2-13-2-13-2-12-1-13-1-12 0-12-1-12 0-12 0-11 1-12 0-12 1-11 0-12 1-11 2-12 1-12 2-12 2-12 2-13 2-12 3-13 4-14 3-13 5-14 5-14 5-14 6-15 8-14 8-14 9-14 10-14 12-13 12-11 14-11 15-9 15-8 16-6 17-6 17-4 17-2 18-1 17 2 18 3 16 6 16 7 16 9 14 10 13 11 13 12 11 12 11 13 10 13 9 14 8 13 7 14 6 13 6 14 5 13 4 14 4 13 3 13 3 13 2 12 2 12 2 13 2 12 1 11 1 12 1 12 1 12 1 11 0 12 0 12 0 12 0 12-1 12-2 11-2 13-1 12-1 13-2 14-2 13-2 14-3 15-3 15-3 16-4 17-4 17-5 19-4 21-5 24-5 26-5 31-4 42" stroke="#00d5ff"/>
<path d="M864 2943l-7-36-6-31-6-27-5-24-5-22-4-20-3-19-4-18-3-16-3-16-2-15-2-14-3-14-1-13-2-13-2-12-2-13 0-12-1-12 0-12 0-12 0-11 0-12 0-12 1-11 1-12 1-12 1-11 1-12 2-12 2-13 2-12 2-13 3-13 3-13 4-14 4-14 5-14 6-15 6-14 7-15 8-15 9-14 11-14 11-13 13-12 14-10 15-10 15-8 17-6 16-6 18-4 17-3 18 0 18 1 17 4 17 6 16 7 16 9 14 11 14 11 12 12 12 12 11 13 10 14 8 13 8 14 8 14 6 14 5 13 5 14 5 13 3 14 4 13 2 13 3 12 2 13 1 12 2 12 1 12 1 12 1 12 1 12 0 11 0 12 1 12 0 12-1 12-1 12-2 11-2 13-1 12-1 13-2 14-2 13-2 14-3 15-3 15-3 16-4 17-4 17-5 19-4 21-5 24-5 26-5 31-4 42" stroke="#00e8ff"/>
<path d="M864 2943l-7-36-6-31-6-27-5-24-5-22-4-20-3-19-4-18-3-16-3-16-2-15-2-14-3-14-2-13-2-13-2-12-1-13-1-12 0-12-1-12 0-12 0-11 0-12 1-12 0-11 1-12 1-12 1-12 1-12 2-12 2-12 2-13 2-13 3-13 3-13 4-14 4-14 5-15 5-14 6-15 7-15 8-15 10-15 10-14 12-13 12-12 14-11 15-10 16-8 17-7 17-5 17-4 18-3 18-1 18 2 18 4 17 6 16 7 16 10 14 10 14 11 13 13 12 12 10 14 10 13 9 14 8 14 7 14 7 14 5 14 5 14 4 13 4 14 3 13 3 13 2 13 2 12 2 13 1 12 1 12 1 12 1 12 0 12 1 11 0 12 0 12 0 12 0 12-1 12-3 12-1 12-2 12-1 13-2 14-2 13-2 14-3 15-3 15-3 16-4 17-4 17-5 19-4 21-5 24-5 27-5 30-4 42" stroke="#00fffd"/>
<path d="M864 2943l-7-36-6-31-6-27-5-24-5-22-4-20-3-19-4-18-3-16-3-16-2-15-3-14-2-14-2-13-2-13-2-12-1-13-1-12 0-12-1-12 0-12 0-11 0-12 0-12 1-11 0-12 1-12 1-12 2-12 1-12 2-13 2-12 2-13 3-13 3-14 4-14 4-14 4-15 6-15 6-15 7-15 8-16 9-15 10-14 12-13 13-13 14-11 15-9 16-9 17-7 17-5 18-5 18-2 18-1 18 2 18 4 18 6 16 7 16 10 15 11 13 11 13 13 12 12 11 14 10 14 9 14 8 14 7 14 6 14 6 14 5 14 4 14 3 14 3 13 3 13 2 13 2 13 2 12 1 13 1 12 1 12 1 12 0 11 0 12 1 12 0 12-1 12 0 12-1 12-3 12-1 12-2 12-1 13-2 14-2 13-2 14-3 15-3 15-3 16-4 17-4 17-5 19-4 22-5 23-5 27-5 30-4 42" stroke="#00ffdf"/>
<path d="M864 2943l-7-36-6-31-6-27-5-24-5-22-4-20-3-19-4-18-3-16-3-16-2-15-3-14-2-14-2-13-2-13-2-12-1-12-1-13-1-12 0-12 0-12-1-11 1-12 0-12 0-11 1-12 1-12 1-12 1-12 1-12 2-13 2-13 2-13 3-13 3-14 3-14 4-15 5-14 5-16 6-15 7-16 8-15 9-15 11-15 12-14 13-12 14-11 15-10 16-9 17-7 18-6 18-4 18-3 18 0 19 1 18 4 17 6 17 8 16 10 15 11 14 12 13 12 12 14 11 13 9 14 9 14 8 15 8 14 6 14 5 15 5 14 4 14 4 14 3 13 2 14 2 13 2 12 2 13 1 12 1 13 1 12 0 12 1 11 0 12 0 12 0 12 0 12-1 12-1 12-3 12-1 12-2 12-1 13-2 14-2 13-2 14-3 15-3 15-3 16-4 17-4 17-5 20-4 21-5 23-5 27-5 30-4 42" stroke="#00ffc1"/>
<path d="M864 2943l-7-36-6-31-6-27-5-24-5-22-4-20-3-19-4-18-3-16-3-16-2-15-3-14-2-14-2-13-2-13-2-12-2-12-1-13 0-12-1-12 0-12 0-11 0-12 0-12 1-11 0-12 1-12 1-12 1-12 1-13 2-12 2-13 2-13 3-14 3-14 3-14 4-15 4-15 6-15 6-16 7-16 8-15 9-16 10-15 12-14 13-13 15-11 15-10 16-9 17-7 18-6 18-4 19-3 18-1 19 2 18 4 18 6 17 8 16 10 15 11 14 12 13 13 12 14 11 13 10 15 9 14 8 15 7 14 7 15 5 14 5 15 4 14 3 14 3 14 3 13 2 13 1 13 2 13 1 12 1 12 0 13 1 11 0 12 1 12 0 12-1 12 0 12 0 12-2 12-2 12-2 12-2 12-1 13-2 14-2 13-2 14-3 15-3 15-3 16-4 17-4 17-5 20-4 21-5 23-5 27-5 30-4 42" stroke="#00ffa5"/>
<path d="M864 2943l-7-36-6-31-6-27-5-24-5-22-4-20-3-19-4-18-3-16-3-16-2-15-3-14-2-13-2-14-2-12-2-13-2-12-1-13 0-12-1-12 0-12 0-11 0-12 0-12 0-11 1-12 0-12 1-12 1-13 2-12 1-13 2-13 2-13 3-14 3-14 3-14 4-15 4-15 5-16 6-16 7-16 8-16 9-15 11-16 12-14 13-13 14-12 16-10 16-9 18-7 18-6 18-4 19-3 18-1 19 2 19 4 18 6 17 9 16 10 15 11 14 12 14 13 12 14 11 14 10 14 9 15 8 15 7 14 6 15 6 15 4 14 4 15 4 14 2 14 3 13 2 14 1 13 2 12 1 13 1 12 0 12 1 12 0 12 0 12 0 12 0 12-1 12 0 12-1 12-3 12-2 12-2 12-1 13-2 14-2 13-2 14-3 15-3 15-3 16-4 17-4 17-5 20-4 21-5 23-5 27-5 31-4 41" stroke="#00ff8c"/>
<path d="M864 2943l-7-36-6-31-6-27-5-24-5-22-4-20-3-19-4-18-3-16-3-16-3-15-2-14-2-13-2-14-2-12-3-13-1-12-1-13-1-12 0-12-1-11 0-12 0-12 0-12 1-12 0-11 1-12 1-12 1-13 1-12 1-13 2-13 2-13 3-14 2-14 4-15 3-15 5-15 5-16 6-16 6-17 8-16 10-16 10-15 12-15 13-13 15-12 16-11 16-9 18-7 18-6 19-5 18-3 20 0 19 1 18 5 18 6 18 9 16 10 15 11 15 13 13 13 12 14 11 14 10 15 9 15 8 15 8 15 6 15 5 14 5 15 4 15 3 14 3 14 2 14 2 13 2 13 1 13 1 13 1 12 0 12 0 12 1 12 0 12 0 12-1 12 0 12-1 12-1 12-3 12-2 12-2 12-1 13-2 14-2 13-2 14-3 15-3 15-3 16-4 17-4 17-4 20-5 21-5 23-5 27-5 31-4 41" stroke="#00ff71"/>
<path d="M864 2943l-7-36-6-31-6-27-5-24-5-22-4-20-3-19-4-18-3-16-3-16-3-14-2-15-2-13-2-14-3-12-2-13-1-12-1-12-1-13-1-12 0-11 0-12 0-12 0-12 0-12 1-11 0-13 1-12 1-12 1-13 2-12 1-14 2-13 3-14 2-14 3-15 4-15 4-16 5-16 6-16 7-17 8-16 9-17 11-15 12-15 13-14 15-12 16-10 17-9 17-8 18-6 19-5 19-3 20-1 19 2 19 4 18 7 18 9 16 10 16 12 14 12 13 14 13 14 11 14 10 15 9 15 8 15 7 16 6 15 6 15 4 15 4 15 4 14 2 14 2 14 2 13 2 14 1 13 1 12 0 13 1 12 0 12 0 12 0 12 0 12 0 12-1 12-1 12-1 12-3 12-2 12-2 12-1 13-2 14-2 13-2 14-3 15-3 15-3 16-4 17-4 17-4 20-5 21-5 23-5 27-5 31-4 41" stroke="#00ff54"/>
<path d="M864 2943l-7-36-6-31-6-27-5-24-5-22-4-20-4-19-3-18-3-16-3-16-3-14-2-15-2-13-3-13-2-13-2-13-2-12-1-12 0-13-1-12 0-11-1-12 0-12 0-12 1-12 0-12 0-12 1-12 1-12 1-13 2-13 1-13 2-14 2-14 3-14 3-15 4-15 4-16 5-16 6-17 6-17 8-17 9-16 11-16 12-16 13-13 15-13 16-11 17-9 18-8 19-6 19-5 19-3 20-1 19 2 19 5 19 6 18 9 16 11 16 12 14 13 14 13 12 15 11 15 11 15 9 15 8 15 7 16 6 15 5 16 5 15 4 15 3 14 3 14 2 14 2 14 1 13 1 13 1 13 0 13 1 12 0 12 0 12 0 12 0 12-1 12 0 12-1 12-2 12-3 12-2 12-2 12-1 13-2 14-2 13-2 14-3 15-3 15-3 16-4 17-4 17-4 20-5 21-5 24-5 26-5 31-4 41" stroke="#00ff36"/>
<linearGradient id="cl1bg36" gradientUnits="userSpaceOnUse" x1="0" y1="2050" x2="0" y2="2280"><stop offset="0" stop-color="#00ff1e" stop-opacity="0.93"/><stop offset="1" stop-color="#00ff1e" stop-opacity="0.55"/></linearGradient>
<path d="M864 2943l-7-36-6-31-6-27-5-24-5-22-4-20-4-19-3-17-3-17-3-16-3-14-2-15-2-13-3-13-2-13-2-13-2-12-1-12-1-12 0-12-1-12 0-12 0-12 0-12 0-12 0-12 1-12 0-12 1-12 1-13 2-13 1-14 2-13 2-14 3-15 3-15 3-16 4-16 5-16 6-17 7-17 7-17 10-17 10-17 12-15 14-14 15-13 16-11 17-10 18-8 19-6 19-5 20-3 20-1 20 2 19 4 19 7 18 9 17 11 15 12 15 14 14 14 12 14 11 15 10 16 10 15 8 16 7 16 6 15 5 16 5 15 3 15 3 15 3 15 2 14 2 13 1 14 1 13 1 13 0 12 0 13 1 12 0 12-1 12 0 12 0 12-1 12-1 12-1 12-4 12-2 12-2 12-1 13-2 14-2 13-2 14-3 15-3 15-3 16-4 17-4 17-4 20-5 21-5 24-5 26-5 31-4 41" stroke="url(#cl1bg36)"/>
<linearGradient id="cl1bg37" gradientUnits="userSpaceOnUse" x1="0" y1="2050" x2="0" y2="2280"><stop offset="0" stop-color="#00ff16" stop-opacity="0.93"/><stop offset="1" stop-color="#00ff16" stop-opacity="0.55"/></linearGradient>
<path d="M864 2943l-7-36-6-31-6-27-5-24-5-22-4-20-4-19-3-17-3-17-3-16-3-14-2-15-3-13-2-13-2-13-3-12-1-13-1-12-1-12-1-12 0-12 0-12-1-12 0-12 0-12 1-12 0-12 1-12 1-13 1-13 1-13 1-13 2-14 2-14 3-15 3-15 3-16 4-16 5-17 5-17 7-17 8-18 9-17 10-17 13-16 13-14 15-13 17-12 17-9 18-9 19-6 20-5 20-4 20 0 20 1 20 5 19 7 18 10 17 11 16 12 15 14 13 14 13 15 11 15 10 16 9 16 8 16 8 16 6 16 5 15 4 16 4 15 3 15 2 15 2 14 2 14 1 13 1 14 1 13 0 12 0 13 0 12 0 12 0 12-1 12 0 12-1 12-1 12-1 12-4 12-2 12-1 12-2 13-2 14-2 13-2 14-3 15-3 15-3 16-4 17-4 17-4 20-5 21-4 24-5 26-6 31-4 41" stroke="url(#cl1bg37)"/>
<linearGradient id="cl1bg38" gradientUnits="userSpaceOnUse" x1="0" y1="2050" x2="0" y2="2280"><stop offset="0" stop-color="#00ff0e" stop-opacity="0.93"/><stop offset="1" stop-color="#00ff0e" stop-opacity="0.55"/></linearGradient>
<path d="M864 2943l-7-36-6-31-6-27-5-24-5-22-4-20-4-19-3-17-3-17-3-15-3-15-2-14-3-14-2-13-2-13-3-12-2-13-1-12 0-12-1-12-1-12 0-12 0-12 0-12 0-12 0-12 1-12 0-12 1-13 1-13 1-13 1-13 2-14 2-15 2-15 3-15 4-16 3-16 5-17 6-18 6-18 8-18 9-17 11-17 12-17 14-14 15-14 16-11 18-10 18-9 20-6 19-6 21-3 20-1 20 2 20 5 20 7 18 10 17 11 16 13 15 14 14 15 12 15 12 15 10 16 9 16 8 17 7 16 6 16 5 16 5 16 3 15 3 15 3 15 2 14 1 14 1 14 1 13 1 13 0 13 0 13 0 12 0 12-1 12 0 12-1 12 0 12-1 12-2 12-3 12-3 12-1 12-2 13-2 14-2 13-2 14-3 15-3 15-3 16-4 17-4 17-4 20-5 21-4 24-5 27-6 30-4 41" stroke="url(#cl1bg38)"/>
<linearGradient id="cl1bg39" gradientUnits="userSpaceOnUse" x1="0" y1="2050" x2="0" y2="2280"><stop offset="0" stop-color="#00ff05" stop-opacity="0.93"/><stop offset="1" stop-color="#00ff05" stop-opacity="0.55"/></linearGradient>
<path d="M864 2943l-7-36-6-31-6-27-5-24-5-22-4-20-4-19-3-17-3-17-3-15-3-15-2-14-3-14-2-13-3-13-2-12-2-13-1-12-1-12 0-12-1-12 0-12-1-12 0-12 0-12 1-12 0-12 0-13 1-12 1-13 1-13 1-14 2-14 2-14 2-15 3-16 3-16 4-17 5-17 5-18 6-18 8-18 9-18 11-18 12-16 14-15 15-14 17-12 18-10 19-9 19-7 20-5 20-3 21-1 21 2 20 5 19 7 19 10 17 12 17 13 15 14 13 15 13 15 12 16 10 17 9 16 8 16 7 17 6 16 5 16 4 16 4 16 3 15 2 15 2 15 1 14 1 13 1 14 1 13 0 13 0 12 0 13-1 12 0 12-1 12 0 12-1 12-1 12-2 12-3 12-3 12-1 12-2 13-2 14-2 13-2 14-3 15-3 15-3 16-4 17-4 18-4 19-5 21-4 24-5 27-6 30-4 41" stroke="url(#cl1bg39)"/>
<linearGradient id="cl1bg40" gradientUnits="userSpaceOnUse" x1="0" y1="2050" x2="0" y2="2280"><stop offset="0" stop-color="#06ff00" stop-opacity="0.93"/><stop offset="1" stop-color="#06ff00" stop-opacity="0.55"/></linearGradient>
<path d="M864 2943l-7-36-6-31-6-27-5-24-5-22-4-20-4-19-3-17-3-17-3-15-3-15-2-14-3-14-2-13-3-13-2-12-2-13-1-12-1-12-1-12 0-12-1-12 0-12 0-12 0-12 0-12 0-12 1-13 1-12 0-13 1-14 2-13 1-14 2-15 2-15 3-16 3-16 4-17 4-18 6-18 6-18 8-18 9-19 10-18 12-17 14-15 16-14 17-12 18-11 19-8 19-8 20-5 21-4 21-1 21 2 21 5 19 8 19 10 18 12 16 14 15 14 14 16 13 15 11 17 10 16 10 17 8 17 7 16 5 17 6 16 4 16 3 16 3 15 2 15 2 15 1 14 1 14 1 14 0 13 0 13 0 12 0 13 0 12-1 12 0 12-1 12-1 12-1 12-1 12-4 12-3 12-1 12-2 13-2 14-2 13-2 14-3 15-3 15-3 16-4 17-4 18-4 19-5 21-4 24-5 27-6 30-4 41" stroke="url(#cl1bg40)"/>
<linearGradient id="cl1bg41" gradientUnits="userSpaceOnUse" x1="0" y1="2050" x2="0" y2="2280"><stop offset="0" stop-color="#19ff00" stop-opacity="0.93"/><stop offset="1" stop-color="#19ff00" stop-opacity="0.55"/></linearGradient>
<path d="M864 2943l-7-36-6-31-6-27-5-24-5-22-4-20-4-19-3-17-3-17-3-15-3-15-3-14-2-14-2-13-3-13-2-12-2-13-1-12-1-12-1-12-1-12 0-12 0-12 0-12 0-12 0-12 0-12 0-13 1-13 1-13 1-13 1-14 2-14 1-15 2-15 3-16 3-16 4-17 4-18 5-18 7-19 7-19 9-18 11-19 12-17 14-16 15-14 17-13 19-10 19-9 20-8 20-6 21-3 21-1 21 2 21 5 20 8 19 11 18 12 16 14 16 15 14 15 12 16 12 17 10 17 9 17 8 17 7 17 6 16 5 17 4 16 3 16 3 16 2 15 2 15 1 14 1 14 1 13 0 14 0 13 0 12 0 13-1 12 0 12-1 12-1 12 0 12-2 12-1 12-4 12-3 12-1 12-2 13-2 14-2 13-2 14-3 15-3 15-3 16-4 17-4 18-4 19-5 21-4 24-5 27-6 30-4 41" stroke="url(#cl1bg41)"/>
<linearGradient id="cl1bg42" gradientUnits="userSpaceOnUse" x1="0" y1="2050" x2="0" y2="2280"><stop offset="0" stop-color="#2bff00" stop-opacity="0.93"/><stop offset="1" stop-color="#2bff00" stop-opacity="0.55"/></linearGradient>
<path d="M864 2943l-7-36-6-31-6-27-5-24-5-22-4-20-4-19-3-17-3-17-3-15-3-15-3-14-2-14-2-13-3-13-3-12-1-12-2-13 0-12-1-12-1-12 0-12-1-12 0-12 0-12 0-12 0-12 1-13 0-13 1-13 1-13 1-14 2-14 1-15 3-15 2-16 3-17 3-17 5-18 5-19 6-19 8-19 8-19 11-19 12-17 14-17 16-14 17-13 18-11 20-9 20-8 21-6 21-3 21-1 22 2 21 5 20 8 19 11 18 13 17 14 15 15 14 16 13 16 11 17 11 17 9 18 8 17 6 17 6 17 5 17 4 16 4 16 2 16 2 15 2 15 1 14 1 14 0 14 1 13 0 13 0 13-1 13 0 12-1 12 0 12-1 12-1 12-1 12-2 12-4 12-2 12-2 12-2 13-2 14-2 13-2 14-3 15-3 15-3 16-4 17-4 18-4 19-5 21-4 24-5 27-6 30-4 41" stroke="url(#cl1bg42)"/>
<linearGradient id="cl1bg43" gradientUnits="userSpaceOnUse" x1="0" y1="2050" x2="0" y2="2280"><stop offset="0" stop-color="#3eff00" stop-opacity="0.93"/><stop offset="1" stop-color="#3eff00" stop-opacity="0.55"/></linearGradient>
<path d="M864 2943l-7-36-6-31-6-27-5-24-5-22-4-20-4-19-3-17-3-17-3-15-3-15-3-14-2-14-3-13-2-13-3-12-2-12-1-13-1-12 0-12-1-12-1-12 0-12 0-12 0-12 0-12 0-13 0-12 1-13 1-13 0-14 2-13 1-15 2-15 2-15 2-16 3-17 3-18 4-18 6-18 6-20 7-19 9-20 10-19 13-18 14-16 16-15 17-13 18-12 20-9 20-8 21-6 22-4 21-1 22 2 21 6 21 8 19 11 18 13 17 15 15 15 15 16 12 17 12 18 10 17 9 17 8 18 7 17 6 18 5 17 4 16 3 16 2 16 2 16 2 14 1 15 1 14 0 14 0 13 0 13 0 13 0 13-1 12 0 12-1 12-1 12-1 12-1 12-2 13-4 11-2 12-2 12-2 13-2 14-2 13-2 14-3 15-3 15-3 16-4 17-4 18-4 19-5 21-4 24-5 27-6 30-4 41" stroke="url(#cl1bg43)"/>
<linearGradient id="cl1bg44" gradientUnits="userSpaceOnUse" x1="0" y1="2050" x2="0" y2="2280"><stop offset="0" stop-color="#50ff00" stop-opacity="0.93"/><stop offset="1" stop-color="#50ff00" stop-opacity="0.55"/></linearGradient>
<path d="M864 2943l-7-36-6-31-6-27-5-24-5-22-4-20-4-19-3-17-3-17-3-15-3-15-3-14-2-14-3-13-2-13-3-12-2-12-1-13-1-12-1-12 0-12-1-12 0-12-1-12 0-12 0-12 1-13 0-12 0-13 1-13 1-14 1-14 1-14 2-15 2-16 2-16 3-17 3-18 4-18 5-19 6-20 8-19 8-20 11-20 12-18 14-17 16-15 18-14 18-11 20-10 20-8 22-6 21-4 23-1 22 2 21 6 21 8 19 12 18 13 17 15 16 15 14 17 13 17 11 18 11 17 9 18 8 18 6 18 6 17 5 17 4 17 3 16 3 16 2 16 1 15 1 15 1 14 0 14 0 13 0 13 0 13-1 12 0 13-1 12-1 12-1 12-1 12-1 13-2 12-4 11-2 12-2 12-2 13-2 14-2 13-2 14-3 15-3 15-3 16-4 17-4 18-4 19-5 21-4 24-5 27-6 30-4 41" stroke="url(#cl1bg44)"/>
<linearGradient id="cl1bg45" gradientUnits="userSpaceOnUse" x1="0" y1="2050" x2="0" y2="2280"><stop offset="0" stop-color="#62ff00" stop-opacity="0.93"/><stop offset="1" stop-color="#62ff00" stop-opacity="0.55"/></linearGradient>
<path d="M864 2943l-7-36-6-31-6-27-5-24-5-22-4-20-4-19-3-17-3-17-3-15-3-15-3-14-2-14-3-13-2-13-3-12-2-12-1-13-1-12-1-12-1-12 0-12-1-12 0-12 0-12 0-12 0-13 0-12 1-13 0-14 1-13 1-14 1-15 2-15 2-15 2-17 3-17 3-18 4-18 5-20 6-20 7-20 9-20 10-20 13-18 14-18 16-15 17-14 19-12 20-10 21-8 21-7 22-3 23-2 22 3 22 6 21 8 19 12 19 13 17 16 15 16 15 17 13 17 11 18 10 18 9 18 8 18 7 18 6 18 4 17 4 17 3 17 3 16 2 15 1 15 1 15 1 14 0 14 0 14 0 13-1 13 0 12-1 13 0 12-1 12-1 12-1 12-2 13-2 12-4 11-2 12-2 12-2 13-2 14-2 13-2 14-3 15-3 15-3 16-4 17-4 18-4 19-5 21-4 24-5 27-6 30-4 41" stroke="url(#cl1bg45)"/>
<linearGradient id="cl1bg46" gradientUnits="userSpaceOnUse" x1="0" y1="2050" x2="0" y2="2280"><stop offset="0" stop-color="#73ff00" stop-opacity="0.93"/><stop offset="1" stop-color="#73ff00" stop-opacity="0.55"/></linearGradient>
<path d="M864 2943l-7-36-6-31-6-27-5-24-5-22-4-20-4-19-3-17-3-17-3-15-3-15-3-14-2-14-3-13-2-13-3-12-2-12-1-13-1-12-1-12-1-12-1-12 0-12 0-12 0-12 0-12 0-13 0-13 0-12 1-14 0-13 1-14 2-15 1-15 2-16 2-17 3-17 3-18 4-19 4-19 6-20 7-21 9-20 11-20 12-20 14-17 16-16 18-14 19-13 20-10 21-8 22-7 22-4 23-1 22 3 22 5 21 10 20 11 19 14 17 16 16 16 14 17 13 18 12 18 10 19 9 18 8 18 6 18 6 18 5 18 3 17 3 17 3 16 2 16 1 15 1 15 0 14 1 14 0 14-1 13 0 13-1 12 0 13-1 12-1 12-1 12-1 12-1 13-2 12-5 11-2 12-2 13-2 12-2 14-2 13-2 14-3 15-3 15-3 16-4 17-4 18-4 19-5 21-4 24-5 27-6 30-4 41" stroke="url(#cl1bg46)"/>
<linearGradient id="cl1bg47" gradientUnits="userSpaceOnUse" x1="0" y1="2050" x2="0" y2="2280"><stop offset="0" stop-color="#83ff00" stop-opacity="0.78"/><stop offset="1" stop-color="#83ff00" stop-opacity="0.55"/></linearGradient>
<path d="M864 2943l-7-36-6-31-6-27-5-24-5-22-4-20-4-19-3-17-3-17-3-15-3-15-3-14-2-14-3-13-3-12-2-13-2-12-2-13-1-12 0-12-1-12-1-12 0-12-1-12 0-12 0-13 0-12 0-13 1-13 0-13 1-14 1-14 1-15 1-15 2-16 2-16 2-18 3-18 4-19 5-20 6-21 7-20 8-21 11-21 12-19 14-19 17-16 17-15 20-12 20-11 21-8 22-7 23-4 23-1 23 2 22 6 21 10 21 12 18 14 18 16 16 17 14 18 13 18 11 18 11 19 9 19 7 18 7 19 6 18 4 18 4 17 3 17 2 16 2 16 1 15 1 15 0 15 0 14 0 13 0 14 0 13-1 12-1 13-1 12-1 12-1 12-1 13-1 12-2 12-4 11-3 12-2 13-2 12-2 14-2 13-2 14-3 15-3 15-3 16-4 17-4 18-4 19-5 21-4 24-5 27-6 30-4 41" stroke="url(#cl1bg47)"/>
<linearGradient id="cl1bg48" gradientUnits="userSpaceOnUse" x1="0" y1="2050" x2="0" y2="2280"><stop offset="0" stop-color="#94ff00" stop-opacity="0.74"/><stop offset="1" stop-color="#94ff00" stop-opacity="0.55"/></linearGradient>
<path d="M864 2943l-7-36-6-31-6-27-5-24-5-22-4-20-4-19-3-17-3-17-3-15-3-15-3-14-3-14-2-13-3-12-3-13-2-12-1-13-1-12-1-12-1-12 0-12-1-12 0-12 0-12 0-13 0-12 0-13 0-13 1-13 0-14 1-14 1-15 1-15 2-16 2-17 2-18 3-18 4-20 4-20 6-21 7-21 9-21 10-21 12-21 15-18 16-17 18-15 19-13 21-11 21-9 23-7 23-4 23-1 23 2 23 7 21 9 21 13 19 15 17 16 16 17 15 18 13 19 11 19 11 19 8 19 8 19 7 19 5 18 5 18 3 18 3 17 2 16 2 16 1 16 1 15 0 14 0 14 0 14 0 13-1 13-1 13 0 13-1 12-1 12-1 12-2 13-1 12-2 12-4 11-3 12-2 13-2 12-2 14-2 13-2 14-3 15-3 15-3 16-4 17-4 18-4 19-5 21-4 24-5 27-6 30-4 41" stroke="url(#cl1bg48)"/>
<linearGradient id="cl1bg49" gradientUnits="userSpaceOnUse" x1="0" y1="2050" x2="0" y2="2280"><stop offset="0" stop-color="#a6ff00" stop-opacity="0.74"/><stop offset="1" stop-color="#a6ff00" stop-opacity="0.55"/></linearGradient>
<path d="M864 2943l-7-36-6-31-6-27-5-24-5-22-4-20-4-19-3-17-3-17-3-15-3-15-3-14-3-14-2-13-3-12-3-13-2-12-1-12-1-13-1-12-1-12 0-12-1-12 0-12-1-12 0-13 0-12 0-13 1-13 0-13 0-14 1-15 1-14 1-16 2-16 2-17 2-18 3-19 3-19 5-21 5-21 7-22 9-22 10-21 12-21 15-19 16-17 18-15 20-14 21-11 21-9 23-7 23-5 24-1 24 3 23 6 22 10 20 13 19 15 18 17 16 18 15 18 13 20 11 19 10 19 9 20 8 19 6 19 6 19 4 18 4 18 2 17 2 17 2 16 1 15 1 15 0 15 0 14 0 14-1 13 0 13-1 13-1 13-1 12-1 12-1 12-1 13-2 12-2 12-4 11-3 12-2 13-2 12-2 14-2 13-2 14-3 15-3 15-3 16-4 17-4 18-4 19-5 21-4 24-5 27-6 30-4 41" stroke="url(#cl1bg49)"/>
<linearGradient id="cl1bg50" gradientUnits="userSpaceOnUse" x1="0" y1="2050" x2="0" y2="2280"><stop offset="0" stop-color="#beff00" stop-opacity="0.74"/><stop offset="1" stop-color="#beff00" stop-opacity="0.55"/></linearGradient>
<path d="M864 2943l-7-36-6-31-6-27-5-24-5-22-4-20-4-19-3-17-3-17-3-15-3-15-3-14-3-14-2-13-3-12-3-13-2-12-1-12-1-13-1-12-1-12-1-12 0-12-1-12 0-12 0-13 0-12 0-13 0-13 0-14 1-14 1-14 0-15 2-15 1-17 2-17 2-18 2-19 4-20 4-21 6-21 6-22 9-23 10-22 12-21 15-19 16-18 19-16 19-13 21-12 23-10 23-7 23-5 24-1 24 3 23 7 23 10 21 13 19 16 18 17 16 18 14 19 13 20 12 20 10 19 9 20 8 20 6 19 5 19 5 19 3 17 3 18 2 17 1 16 1 16 1 15 0 15 0 14-1 14 0 13-1 13 0 13-1 13-1 12-2 12-1 12-1 13-2 12-2 12-4 11-3 12-2 13-2 12-2 14-2 13-2 14-3 15-3 15-3 16-4 17-4 18-4 19-4 21-5 24-5 27-6 31-4 40" stroke="url(#cl1bg50)"/>
<linearGradient id="cl1bg51" gradientUnits="userSpaceOnUse" x1="0" y1="2050" x2="0" y2="2280"><stop offset="0" stop-color="#d7ff00" stop-opacity="0.74"/><stop offset="1" stop-color="#d7ff00" stop-opacity="0.55"/></linearGradient>
<path d="M864 2943l-7-36-6-31-6-27-5-24-5-22-4-20-4-19-3-17-3-17-4-15-2-15-3-14-3-14-2-13-3-12-3-13-2-12-1-12-2-13-1-12 0-12-1-12-1-12 0-12 0-12-1-13 0-12 0-13 0-13 1-14 0-14 1-14 1-15 1-16 1-17 2-17 2-18 2-19 3-20 5-22 5-21 7-23 8-23 10-22 12-22 15-20 17-18 18-16 20-14 21-12 23-10 23-8 24-4 24-2 25 3 23 7 23 11 21 13 19 16 18 18 17 19 14 19 13 20 12 20 10 21 9 20 7 20 7 19 5 19 4 19 3 18 3 18 2 17 1 16 1 16 1 16 0 14 0 15-1 14 0 13-1 13-1 13-1 13-1 12-1 12-1 12-2 13-1 12-2 12-5 11-3 12-2 13-2 12-2 14-2 13-2 14-3 15-3 15-3 16-4 17-4 18-4 19-4 22-5 24-5 26-6 31-4 40" stroke="url(#cl1bg51)"/>
<linearGradient id="cl1bg52" gradientUnits="userSpaceOnUse" x1="0" y1="2050" x2="0" y2="2280"><stop offset="0" stop-color="#efff00" stop-opacity="0.74"/><stop offset="1" stop-color="#efff00" stop-opacity="0.55"/></linearGradient>
<path d="M864 2943l-7-36-6-31-6-27-5-24-5-22-4-20-4-19-3-17-3-17-4-15-2-15-3-14-3-13-3-14-2-12-3-12-2-13-2-12-1-13-1-12-1-12 0-12-1-12 0-12-1-12 0-13 0-12 0-13 0-14 0-13 0-14 1-15 1-15 1-16 1-16 1-18 2-18 3-20 3-20 4-21 5-23 7-23 8-23 10-23 13-22 14-20 17-19 18-17 21-14 21-12 23-11 23-7 25-5 24-1 25 3 24 7 23 10 21 14 20 17 18 18 16 19 15 20 13 21 12 20 10 21 9 20 7 21 6 19 5 20 4 19 4 18 2 18 2 17 1 17 1 16 0 15 1 15-1 14 0 14-1 14-1 13 0 13-1 13-2 12-1 12-1 13-2 12-1 12-2 12-5 11-3 12-2 13-2 12-2 14-2 13-2 14-3 15-3 15-3 16-4 17-4 18-4 19-4 22-5 24-5 27-6 30-4 40" stroke="url(#cl1bg52)"/>
<linearGradient id="cl1bg53" gradientUnits="userSpaceOnUse" x1="0" y1="2050" x2="0" y2="2280"><stop offset="0" stop-color="#fff700" stop-opacity="0.74"/><stop offset="1" stop-color="#fff700" stop-opacity="0.55"/></linearGradient>
<path d="M864 2943l-7-36-6-31-6-27-5-24-5-22-4-20-4-19-3-17-4-17-3-15-3-15-2-14-3-13-3-13-2-13-3-12-3-13-1-12-1-13-1-12-1-12-1-12 0-12-1-12 0-12-1-13 0-13 0-12 0-14 0-13 1-14 0-15 1-15 1-16 1-17 1-18 2-18 3-20 3-21 4-21 5-23 6-23 8-24 10-23 13-23 14-21 17-19 19-17 20-15 22-13 23-10 24-8 25-5 25-1 24 3 25 7 23 11 21 15 20 16 19 19 16 20 15 20 13 21 12 21 10 21 8 21 8 20 6 21 5 19 4 19 3 19 2 18 2 17 1 17 1 16 0 16 0 15 0 14 0 14-1 14-1 13-1 13-1 13-1 12-1 12-2 13-1 12-2 12-2 12-5 11-3 12-2 13-2 12-2 14-2 13-2 14-3 15-3 15-3 16-4 17-4 18-4 19-4 22-5 24-5 27-6 30-4 40" stroke="url(#cl1bg53)"/>
<linearGradient id="cl1bg54" gradientUnits="userSpaceOnUse" x1="0" y1="2050" x2="0" y2="2280"><stop offset="0" stop-color="#ffde00" stop-opacity="0.74"/><stop offset="1" stop-color="#ffde00" stop-opacity="0.55"/></linearGradient>
<path d="M864 2943l-7-36-6-31-6-27-5-24-5-22-4-20-4-19-3-17-4-17-3-15-3-15-2-14-3-13-3-13-3-13-3-12-2-13-1-12-1-13-1-12-1-12-1-12-1-12 0-12-1-13 0-12 0-13 0-13 0-13 0-14 0-14 1-14 0-16 1-16 1-17 1-17 2-19 2-20 3-21 4-22 5-23 6-24 8-24 10-24 13-23 14-21 17-20 19-17 21-16 22-13 23-10 24-9 25-5 26-1 25 3 24 8 24 11 22 15 20 17 18 19 17 20 15 21 13 21 12 22 10 21 8 21 8 21 6 21 5 20 3 19 4 19 2 18 1 18 2 16 0 17 0 15 0 15 0 15-1 14 0 14-1 13-1 13-2 13-1 12-1 12-1 13-2 12-2 12-2 12-5 11-3 12-2 13-2 12-2 14-2 13-2 14-3 15-3 15-3 16-4 17-4 18-4 19-4 22-5 24-5 27-5 30-5 40" stroke="url(#cl1bg54)"/>
<linearGradient id="cl1bg55" gradientUnits="userSpaceOnUse" x1="0" y1="2050" x2="0" y2="2280"><stop offset="0" stop-color="#ffc600" stop-opacity="0.74"/><stop offset="1" stop-color="#ffc600" stop-opacity="0.55"/></linearGradient>
<path d="M864 2943l-7-36-6-31-6-27-5-24-5-22-4-20-4-19-3-17-4-17-3-15-3-15-2-14-3-13-3-13-3-13-3-12-2-13-1-12-2-12-1-13-1-12 0-12-1-12-1-12 0-13 0-12-1-13 0-13 0-13 0-14 0-14 1-15 0-15 1-16 1-17 1-18 2-19 2-20 3-22 3-22 5-23 6-25 8-24 11-24 12-24 14-22 17-20 19-18 21-15 23-14 23-11 25-8 25-6 26-1 25 3 25 8 24 12 22 15 21 17 18 20 17 21 15 21 13 22 11 22 11 21 8 22 7 21 6 21 5 20 4 20 3 19 2 18 2 18 1 17 0 16 0 16 0 15 0 15-1 14-1 13-1 14-1 13-1 12-1 13-2 12-1 13-2 12-1 12-3 12-5 11-3 12-2 13-2 12-2 14-2 13-2 14-3 15-3 15-3 16-4 17-4 18-4 19-4 22-5 24-5 27-5 30-5 40" stroke="url(#cl1bg55)"/>
<linearGradient id="cl1bg56" gradientUnits="userSpaceOnUse" x1="0" y1="2050" x2="0" y2="2280"><stop offset="0" stop-color="#ffb500" stop-opacity="0.74"/><stop offset="1" stop-color="#ffb500" stop-opacity="0.55"/></linearGradient>
<path d="M864 2943l-7-36-6-31-6-27-5-24-5-22-4-20-4-19-3-17-4-17-3-15-3-15-2-14-3-13-3-13-3-13-3-12-2-13-2-12-1-12-1-13-1-12-1-12 0-12-1-12 0-13-1-12 0-13 0-13 0-13 0-14 0-14 0-15 0-16 1-16 1-17 1-18 2-19 2-21 2-21 4-23 5-24 6-24 8-25 10-25 12-24 15-22 17-21 19-18 21-16 22-14 24-11 25-9 26-5 26-2 26 4 25 7 24 13 22 15 21 18 19 20 17 21 15 22 13 22 11 22 10 22 9 22 7 22 6 21 5 20 4 20 2 20 2 18 2 18 1 17 0 17 0 15 0 16 0 14-1 15-1 13-1 14-1 13-2 12-1 13-1 12-2 13-1 12-2 12-3 12-5 11-3 12-2 13-2 12-2 14-2 13-2 14-3 15-3 15-3 16-4 17-4 18-4 19-4 22-5 24-5 27-5 30-5 40" stroke="url(#cl1bg56)"/>
<linearGradient id="cl1bg57" gradientUnits="userSpaceOnUse" x1="0" y1="2050" x2="0" y2="2280"><stop offset="0" stop-color="#ffa600" stop-opacity="0.74"/><stop offset="1" stop-color="#ffa600" stop-opacity="0.55"/></linearGradient>
<path d="M864 2943l-7-36-6-31-6-27-5-24-5-22-4-20-4-19-3-17-4-17-3-15-3-15-3-14-2-13-3-13-3-13-3-12-2-13-2-12-1-12-1-13-1-12-1-12-1-12 0-12-1-13 0-12-1-13 0-13 0-13 0-14 0-15 0-15 1-15 0-17 1-17 1-18 1-19 2-21 3-22 3-23 5-24 6-25 8-25 10-25 12-25 15-23 17-21 19-19 22-16 22-14 24-12 26-9 26-5 26-2 26 4 26 8 24 12 23 16 21 19 18 20 17 22 15 22 14 22 11 23 10 23 9 22 7 22 6 21 4 21 4 20 3 19 2 19 1 18 1 17 0 17 0 16 0 15-1 15 0 14-1 14-2 14-1 13-1 12-1 13-2 12-2 13-1 12-2 12-2 12-5 11-4 12-2 13-2 12-2 14-2 13-2 14-3 15-3 15-3 16-4 17-4 18-4 19-4 22-5 24-5 27-5 30-5 40" stroke="url(#cl1bg57)"/>
<linearGradient id="cl1bg58" gradientUnits="userSpaceOnUse" x1="0" y1="2050" x2="0" y2="2280"><stop offset="0" stop-color="#ff9700" stop-opacity="0.74"/><stop offset="1" stop-color="#ff9700" stop-opacity="0.55"/></linearGradient>
<path d="M864 2943l-7-36-6-31-6-27-5-24-5-22-4-20-4-19-3-17-4-17-3-15-3-15-3-14-2-13-3-13-3-13-3-12-3-12-1-13-1-12-1-13-1-12-1-12-1-12-1-12 0-13-1-12 0-13 0-13-1-14 0-14 0-14 0-15 1-16 0-16 1-18 1-18 1-20 2-20 2-22 4-24 4-24 6-26 8-25 10-26 12-25 15-24 17-21 20-19 21-17 23-14 25-12 25-9 26-6 27-1 27 3 26 8 24 13 23 16 21 19 19 21 17 22 15 23 14 23 11 23 10 23 9 22 7 23 5 21 5 21 4 21 2 19 2 19 1 18 1 18 0 16 0 17 0 15-1 15-1 14-1 14-1 13-1 14-2 12-1 13-2 12-1 13-2 12-2 12-2 12-5 12-4 11-2 13-2 12-2 14-2 13-2 14-3 15-3 15-3 16-4 17-4 18-4 19-4 22-5 24-5 27-5 30-5 40" stroke="url(#cl1bg58)"/>
<linearGradient id="cl1bg59" gradientUnits="userSpaceOnUse" x1="0" y1="2050" x2="0" y2="2280"><stop offset="0" stop-color="#ff8400" stop-opacity="0.61"/><stop offset="1" stop-color="#ff8400" stop-opacity="0.55"/></linearGradient>
<path d="M864 2943l-7-36-6-31-6-27-5-24-5-22-4-20-4-19-3-17-4-17-3-15-3-15-3-14-2-13-3-13-3-13-3-12-3-12-1-13-1-12-2-13-1-12 0-12-1-12-1-12-1-13 0-12-1-13 0-13 0-14 0-14 0-14 0-15 0-16 0-17 1-17 1-19 1-20 2-21 2-22 3-24 4-24 6-26 8-27 10-26 12-26 15-24 17-22 20-20 21-17 24-15 24-12 26-9 27-6 27-2 27 4 27 9 24 13 24 16 21 20 19 21 17 23 15 23 14 24 11 23 10 24 8 23 7 22 6 22 4 22 4 20 2 20 2 19 1 19 1 17 0 17 0 16-1 16 0 15-1 14-1 14-1 13-2 13-1 13-2 13-1 12-2 13-2 12-1 12-3 12-5 12-4 11-2 13-2 12-2 14-2 13-2 14-3 15-3 15-3 16-4 17-4 18-4 19-4 22-5 24-5 27-5 30-5 40" stroke="url(#cl1bg59)"/>
<linearGradient id="cl1bg60" gradientUnits="userSpaceOnUse" x1="0" y1="2050" x2="0" y2="2280"><stop offset="0" stop-color="#ff6b00" stop-opacity="0.61"/><stop offset="1" stop-color="#ff6b00" stop-opacity="0.55"/></linearGradient>
<path d="M864 2943l-7-36-6-31-6-27-5-24-5-22-4-20-4-19-3-17-4-17-3-15-3-15-3-14-2-13-3-13-3-13-4-12-2-12-1-13-2-12-1-13-1-12-1-12 0-12-1-12-1-13 0-12-1-13 0-13 0-14-1-14 0-14 0-15 1-16 0-17 0-18 1-18 1-20 2-22 2-22 3-24 4-26 5-26 8-27 10-27 12-26 15-25 17-22 20-21 22-18 23-15 25-13 27-9 27-6 27-2 28 4 27 9 25 13 23 17 22 20 19 22 17 24 15 24 14 24 11 24 10 24 8 23 7 23 5 23 5 21 3 21 2 20 2 20 1 18 1 18 0 17-1 16 0 15-1 15-1 15-1 14-1 13-2 13-1 13-2 13-1 12-2 13-2 12-1 12-3 12-5 12-4 11-2 13-2 12-1 14-3 13-2 14-3 15-3 15-3 16-4 17-4 18-4 19-4 22-5 24-5 27-5 30-5 40" stroke="url(#cl1bg60)"/>
<linearGradient id="cl1bg61" gradientUnits="userSpaceOnUse" x1="0" y1="2050" x2="0" y2="2280"><stop offset="0" stop-color="#ff5200" stop-opacity="0.61"/><stop offset="1" stop-color="#ff5200" stop-opacity="0.55"/></linearGradient>
<path d="M864 2943l-7-36-6-31-6-27-5-24-5-22-4-20-4-19-3-17-4-17-3-15-3-15-3-14-2-13-3-13-3-13-4-12-2-12-1-13-2-12-1-12-1-13-1-12-1-12 0-12-1-13-1-12 0-13 0-13-1-14 0-14 0-14 0-16 0-16 0-16 1-18 0-19 1-20 2-22 2-22 2-25 4-26 6-26 7-28 10-27 12-27 15-26 17-23 20-21 22-18 24-16 25-13 27-10 28-7 28-1 27 4 27 9 26 14 24 17 21 21 20 23 17 24 15 24 14 25 11 25 10 24 8 24 6 24 6 22 4 22 3 21 2 21 2 19 1 19 0 17 0 17 0 17-1 15 0 15-1 15-2 14-1 13-1 13-2 13-1 13-2 12-2 13-1 12-2 12-3 12-5 12-3 11-3 13-2 12-1 14-3 13-2 14-3 15-3 15-3 16-4 17-4 18-4 19-4 22-5 24-4 27-6 30-5 40" stroke="url(#cl1bg61)"/>
<linearGradient id="cl1bg62" gradientUnits="userSpaceOnUse" x1="0" y1="2050" x2="0" y2="2280"><stop offset="0" stop-color="#ff3700" stop-opacity="0.61"/><stop offset="1" stop-color="#ff3700" stop-opacity="0.55"/></linearGradient>
<path d="M864 2943l-7-36-6-31-6-27-5-24-5-22-4-20-4-19-3-17-4-16-3-16-3-15-3-14-3-13-2-13-3-13-4-12-2-12-2-13-1-12-1-12-1-13-1-12-1-12 0-12-1-13-1-12 0-13-1-14 0-13 0-14 0-15 0-15 0-16 0-17 0-18 1-19 0-20 2-22 1-23 3-24 4-27 5-27 7-28 10-28 12-28 15-26 17-24 20-21 22-19 25-17 25-13 27-10 28-7 29-2 28 4 27 10 26 14 24 19 22 21 20 23 17 25 15 25 14 25 11 26 9 24 8 25 7 24 5 23 4 22 3 21 2 21 2 19 1 19 0 18 0 17 0 16-1 16-1 15-1 15-1 14-2 13-1 13-2 13-1 13-2 12-2 13-1 12-2 12-3 12-5 12-3 11-3 13-2 12-1 14-3 13-2 14-3 15-3 15-3 16-4 17-4 18-4 19-4 22-5 24-4 27-6 30-5 40" stroke="url(#cl1bg62)"/>
<linearGradient id="cl1bg63" gradientUnits="userSpaceOnUse" x1="0" y1="2050" x2="0" y2="2280"><stop offset="0" stop-color="#ff1c00" stop-opacity="0.61"/><stop offset="1" stop-color="#ff1c00" stop-opacity="0.55"/></linearGradient>
<path d="M864 2943l-7-36-6-31-6-27-5-24-5-22-4-20-4-19-3-17-4-16-3-16-3-15-3-14-3-13-2-13-3-13-4-12-2-12-2-13-1-12-1-12-1-13-1-12-1-12-1-12 0-13-1-12 0-13-1-14 0-13 0-14-1-15 0-15 0-16 0-17 0-18 1-19 0-21 1-22 2-23 3-25 3-27 5-27 7-29 10-29 12-28 14-27 18-24 20-23 23-19 24-17 26-14 28-10 28-7 29-2 29 4 27 10 27 15 24 19 22 22 20 23 17 26 15 26 13 26 12 25 9 26 8 25 7 24 5 23 4 23 2 21 2 21 2 20 0 19 1 18 0 17-1 16-1 16-1 15-1 15-1 14-1 13-2 13-1 13-2 13-2 12-1 13-2 12-2 12-3 12-5 12-3 11-3 13-2 12-1 14-3 13-2 14-3 15-3 15-3 16-4 17-4 18-4 19-4 22-5 24-4 27-6 30-5 40" stroke="url(#cl1bg63)"/>
<linearGradient id="cl1bg64" gradientUnits="userSpaceOnUse" x1="0" y1="2050" x2="0" y2="2280"><stop offset="0" stop-color="#ff0100" stop-opacity="0.61"/><stop offset="1" stop-color="#ff0100" stop-opacity="0.55"/></linearGradient>
<path d="M864 2943l-7-36-6-31-6-27-5-24-5-22-4-20-4-19-3-17-4-16-3-16-3-15-3-14-3-13-2-13-4-13-3-12-2-12-2-13-1-12-1-12-1-13-1-12-1-12-1-12-1-13 0-13-1-12 0-14 0-13-1-14 0-15 0-15 0-16 0-17 0-18 0-20 1-20 0-23 2-23 2-26 4-27 5-28 6-29 10-29 12-29 14-28 18-25 20-23 23-20 25-17 26-15 28-11 29-6 29-2 29 4 28 10 27 15 24 20 23 22 20 25 17 26 15 26 13 27 12 26 9 26 8 25 6 25 5 24 4 22 3 22 1 21 2 20 0 19 0 18 0 18 0 16-1 16-1 15-1 14-2 14-1 14-2 13-1 13-2 13-1 12-2 13-2 12-2 12-3 12-5 12-3 11-3 13-2 12-1 14-3 13-2 14-3 15-3 15-3 16-4 17-4 18-4 19-4 22-5 24-4 27-6 30-5 40" stroke="url(#cl1bg64)"/>
<linearGradient id="cl1bg65" gradientUnits="userSpaceOnUse" x1="0" y1="2050" x2="0" y2="2280"><stop offset="0" stop-color="#ff0000" stop-opacity="0.61"/><stop offset="1" stop-color="#ff0000" stop-opacity="0.55"/></linearGradient>
<path d="M864 2943l-7-36-6-31-6-27-5-24-5-22-4-20-4-19-3-17-4-16-3-16-3-15-3-14-3-13-3-13-3-13-3-12-2-12-2-13-1-12-1-12-1-13-1-12-1-12-1-12-1-13 0-13-1-12 0-14-1-13 0-14 0-15-1-15 0-17 0-17 0-18 0-19 1-21 0-23 2-24 2-25 3-28 5-28 7-30 9-30 12-30 14-28 18-26 21-23 22-21 25-18 27-14 28-12 29-7 30-1 30 4 28 10 27 16 25 20 22 23 20 25 18 27 15 27 13 27 12 27 9 26 8 26 6 25 4 24 4 23 3 22 1 21 1 21 1 19 0 18 0 17-1 17-1 16-1 15-1 14-1 14-2 14-1 13-2 13-2 13-1 12-2 13-2 12-2 12-3 12-5 12-3 11-3 13-2 12-1 14-3 13-2 14-3 15-3 15-3 16-4 17-4 18-4 19-4 22-5 24-4 27-6 30-5 40" stroke="url(#cl1bg65)"/>
</g></g>
<g clip-path="url(#cl1c)"><path transform="scale(0.1)" d="M864 2943l-7-36-6-31-6-27-5-24-5-22-4-20-4-19-3-17-4-16-3-16-3-15-3-14-3-13-3-13-3-13-3-12-2-12-2-13-1-12-1-12-1-13-1-12-1-12-1-12-1-13 0-13-1-12 0-14-1-13 0-14 0-15-1-15 0-17 0-17 0-18 0-19 1-21 0-23 2-24 2-25 3-28 5-28 7-30 9-30 12-30 14-28 18-26 21-23 22-21 25-18 27-14 28-12 29-7 30-1 30 4 28 10 27 16 25 20 22 23 20 25 18 27 15 27 13 27 12 27 9 26 8 26 6 25 4 24 4 23 3 22 1 21 1 21 1 19 0 18 0 17-1 17-1 16-1 15-1 14-1 14-2 14-1 13-2 13-2 13-1 12-2 13-2 12-2 12-3 12-5 12-3 11-3 13-2 12-1 14-3 13-2 14-3 15-3 15-3 16-4 17-4 18-4 19-4 22-5 24-4 27-6 30-5 40" fill="none" stroke="#ff7050" stroke-width="8"/></g>
<g clip-path="url(#cl2)"><g transform="scale(0.1)" fill="none" stroke-width="4.5" stroke-opacity="1.0" stroke-linejoin="round">
<path d="M846 4530l-3-39-4-31-5-26-6-22-5-20-5-18-5-17-5-16-5-15-4-15-4-14-4-14-4-14-4-13-4-14-3-13-3-13-3-13-3-14-2-13-2-14-1-13-2-14-2-14-1-14 0-15 0-15 0-15 1-15 2-16 2-15 3-16 5-16 5-15 5-16 7-16 8-16 8-15 9-16 10-15 12-15 12-14 13-15 14-13 15-13 16-12 17-10 18-10 18-8 20-6 19-5 21-2 20 0 20 2 20 4 20 6 18 8 18 8 18 10 16 11 16 12 15 12 14 13 13 14 13 14 11 14 11 15 10 15 8 15 8 16 7 16 5 16 5 16 4 17 3 16 3 16 1 16 2 15 1 15 0 16-1 15-1 15-2 14-3 15-3 14-3 14-3 13-4 14-3 14-4 13-4 13-5 14-4 14-5 13-5 15-5 14-5 15-6 15-6 16-6 17-6 18-6 20-7 22-7 24-6 29-7 35" stroke="#282828" stroke-width="6.0"/>
<path d="M846 4530l-4-38-4-31-6-25-5-22-5-20-5-19-5-17-5-16-4-16-5-14-4-15-4-14-4-14-4-13-3-13-4-14-3-13-3-13-3-13-3-14-2-13-2-14-2-14-2-14-2-15-1-15 0-15-1-16 1-15 1-17 1-16 3-17 3-16 5-17 5-17 7-17 7-17 8-17 10-16 10-17 11-16 13-16 13-15 15-14 16-14 17-13 17-11 19-11 20-8 20-7 21-5 22-2 21 0 22 3 21 4 20 7 20 8 19 10 18 11 17 12 16 13 16 13 14 15 13 14 13 16 11 15 10 16 10 17 8 16 7 17 6 17 5 17 5 17 3 16 3 17 2 16 1 17 1 15 0 16 0 15-1 16-2 15-2 14-3 15-3 14-3 14-3 13-3 14-4 14-4 13-4 13-5 14-4 14-5 13-5 15-5 14-5 15-6 15-6 16-6 17-6 19-6 19-7 22-7 24-6 29-7 35" stroke="#282828" stroke-width="6.0"/>
<path d="M846 4530l-4-38-5-29-5-26-6-22-5-20-5-19-5-17-5-17-4-15-4-15-5-15-4-14-3-13-4-14-4-13-3-13-4-14-3-13-3-13-3-14-3-13-2-14-3-14-2-15-2-15-1-15-2-15 0-16-1-16 1-17 1-17 2-18 3-17 4-18 5-18 6-18 7-18 8-17 10-18 10-17 12-17 13-17 14-16 15-15 16-15 18-13 18-13 20-11 21-9 21-7 22-5 22-2 23 0 22 3 22 5 21 8 21 9 19 10 19 12 18 13 16 14 16 14 14 15 14 16 12 17 11 16 11 17 9 18 7 17 7 18 6 17 5 18 4 17 3 18 2 17 1 16 1 17 0 16 0 16-1 15-1 16-2 15-2 14-3 15-2 14-4 14-3 13-3 14-4 14-4 13-4 13-5 14-4 14-5 14-5 14-5 14-5 15-6 15-6 16-5 18-7 18-6 19-7 22-7 24-6 29-7 35" stroke="#000000" stroke-width="9.0"/>
<path d="M846 4530l-4-38-5-29-6-26-5-22-5-20-5-19-5-17-5-17-4-15-4-15-5-14-4-15-3-13-4-14-4-13-3-13-4-14-3-13-3-13-3-14-3-13-3-14-2-14-2-15-2-15-2-15-1-15-1-16 0-17 0-16 1-18 2-17 3-18 4-18 5-18 6-18 7-18 8-18 9-17 11-18 12-17 13-17 14-16 15-16 16-14 18-14 19-12 19-11 21-9 21-7 23-5 22-3 23 1 22 3 22 5 22 7 20 9 20 11 19 12 18 13 16 14 16 14 14 16 14 16 12 16 11 17 10 17 9 18 8 17 7 18 6 18 4 18 4 17 3 17 2 18 2 16 0 17 0 16 0 16-1 15-1 16-2 15-2 14-3 15-2 14-4 14-3 13-3 14-4 14-4 13-4 13-5 14-4 14-5 14-5 14-5 14-5 15-6 15-6 16-5 18-7 18-6 19-7 22-7 24-6 29-7 35" stroke="#0d0011" stroke-width="9.0"/>
<path d="M846 4530l-4-38-5-29-6-26-5-22-5-20-5-19-5-17-5-17-4-15-4-15-5-14-4-15-3-13-4-14-4-13-3-13-4-14-3-13-3-13-3-14-3-13-3-14-3-14-2-15-2-15-2-15-1-15-1-17 0-16 0-17 1-17 2-18 3-18 3-18 5-18 6-18 7-18 9-18 9-18 11-18 12-17 12-17 15-16 15-16 16-14 18-14 19-13 20-11 21-9 21-7 22-5 23-2 23 0 22 3 23 5 21 8 21 9 20 10 18 13 18 13 17 14 16 15 14 15 14 16 12 17 11 17 10 17 9 18 8 18 7 18 5 17 5 18 4 18 2 17 3 17 1 17 1 17 0 16-1 16-1 15-1 16-2 15-2 14-3 15-2 14-4 14-3 13-3 14-4 14-4 13-4 13-5 14-4 14-5 14-5 14-5 14-5 15-6 15-6 16-5 18-7 18-6 19-7 22-7 24-6 29-7 35" stroke="#1a0021" stroke-width="9.0"/>
<path d="M846 4530l-4-38-5-29-6-26-5-22-5-20-5-19-5-17-5-16-4-16-4-15-5-14-4-15-4-13-3-14-4-13-3-13-4-14-3-13-3-13-4-14-3-13-2-14-3-14-2-15-2-15-2-15-1-16-1-16-1-16 0-17 1-18 2-17 3-18 3-18 5-19 6-18 7-18 9-18 9-18 11-18 11-18 13-17 14-16 16-16 16-15 18-14 19-12 20-11 21-9 22-8 22-5 23-2 23 0 23 3 22 6 21 7 21 9 20 11 19 12 18 14 17 14 16 15 14 16 14 16 12 17 11 17 10 17 9 18 8 18 6 18 6 18 4 18 4 18 3 17 2 17 1 17 1 17 0 16-1 16-1 15-1 16-2 15-2 14-3 15-2 14-4 14-3 13-3 14-4 14-4 13-4 13-5 14-4 14-5 14-5 14-5 14-5 15-6 15-6 16-5 18-7 18-6 19-7 22-7 24-6 29-7 35" stroke="#290037" stroke-width="9.0"/>
<path d="M846 4530l-4-38-5-29-6-26-5-22-5-20-5-19-5-17-5-16-4-16-4-15-5-14-4-15-4-13-3-14-4-13-4-13-3-14-3-13-4-13-3-14-3-13-3-14-2-14-3-15-2-15-2-15-1-16-1-16-1-17 1-17 0-17 2-18 3-18 3-18 5-19 6-18 7-19 8-18 10-18 10-18 12-17 13-18 14-16 16-16 17-15 17-14 19-13 20-11 22-9 21-7 23-5 23-3 23 1 23 3 22 5 22 8 21 9 20 11 19 12 18 14 17 14 16 15 14 16 14 17 12 16 11 18 10 17 9 18 8 18 6 18 6 19 4 17 4 18 2 18 2 17 2 17 0 16 0 17-1 16-1 15-1 16-2 15-2 14-3 15-2 14-4 14-3 13-3 14-4 14-4 13-4 13-5 14-4 14-5 14-5 14-5 14-5 15-6 15-6 16-5 18-7 18-6 19-7 22-7 24-6 29-7 35" stroke="#37004f" stroke-width="9.0"/>
<path d="M846 4530l-4-38-5-29-6-25-5-23-5-20-5-19-5-17-5-16-4-16-4-15-5-14-4-15-4-13-3-14-4-13-4-13-3-14-3-13-4-13-3-14-3-13-3-14-3-14-2-15-2-15-2-15-2-16-1-16 0-17 0-17 0-17 2-18 3-19 3-18 5-19 6-18 7-19 8-18 9-18 11-18 12-18 13-17 14-17 16-16 17-15 18-14 19-13 20-11 21-10 22-7 23-5 23-2 23 0 23 3 22 5 22 8 21 10 21 11 19 12 18 14 17 14 15 16 15 16 14 16 12 17 11 18 10 17 9 18 7 19 7 18 5 18 5 18 3 18 3 17 2 18 1 17 1 16-1 17 0 16-2 15-1 16-2 15-2 14-3 15-2 14-4 14-3 13-3 14-4 14-4 13-4 13-5 14-4 14-5 14-5 14-5 14-5 15-6 15-6 16-5 18-7 18-6 19-7 22-7 24-6 29-7 35" stroke="#460068" stroke-width="9.0"/>
<path d="M846 4530l-4-37-5-30-6-25-5-23-5-20-5-19-5-17-5-16-4-16-4-15-5-14-4-14-4-14-3-14-4-13-4-13-3-14-3-13-4-13-3-14-3-13-3-14-3-14-3-15-2-15-2-15-1-16-1-16-1-17 0-17 1-18 1-18 2-18 4-19 5-19 5-18 7-19 9-19 9-18 11-18 12-18 13-17 14-17 16-16 17-16 18-14 19-13 20-11 22-9 22-8 22-5 24-2 23 0 23 3 23 6 22 8 21 9 20 11 19 13 18 14 17 14 16 16 15 16 14 17 12 17 11 18 10 17 9 19 7 18 7 18 5 19 4 18 4 18 2 17 2 18 1 17 1 16-1 17 0 16-1 15-2 16-2 15-2 14-3 15-2 14-4 14-3 13-3 14-4 14-4 13-4 13-5 14-4 14-5 14-5 14-5 14-5 15-6 15-6 16-5 18-7 18-6 19-7 22-7 24-6 29-7 35" stroke="#50007a" stroke-width="9.0"/>
<path d="M846 4530l-4-37-5-30-6-25-5-23-5-20-5-19-5-17-5-16-4-16-5-15-4-14-4-14-4-14-3-14-4-13-4-13-3-14-4-13-3-13-3-14-3-13-4-14-2-14-3-15-2-15-2-15-2-16-1-17-1-16 0-18 1-17 1-19 2-18 4-19 4-19 6-18 7-19 8-19 10-19 11-18 11-18 14-17 14-17 16-17 17-15 18-14 19-13 21-12 21-9 22-7 23-6 24-2 23 0 23 4 23 5 22 8 21 10 21 11 19 13 18 13 17 15 16 16 15 16 13 17 13 18 11 17 10 18 8 19 8 18 6 19 6 18 4 18 3 18 3 18 2 17 1 17 0 17 0 17-1 16-1 15-2 16-2 15-2 14-3 15-2 14-4 14-3 13-3 14-4 14-4 13-4 13-5 14-4 14-5 14-5 14-5 14-5 15-6 15-5 16-6 18-7 18-6 19-7 22-7 25-6 28-7 35" stroke="#570085"/>
<path d="M846 4530l-4-37-5-30-6-25-5-23-5-20-5-19-5-17-5-16-4-16-5-15-4-14-4-14-4-14-3-14-4-13-4-13-3-14-4-13-3-13-3-14-4-13-3-14-3-15-2-14-3-15-2-16-2-15-1-17-1-17 0-17 1-18 1-18 2-19 3-19 5-19 6-19 7-19 8-19 9-18 11-19 12-18 13-17 15-18 16-16 17-15 18-15 19-13 21-11 21-10 23-7 23-6 23-2 24 0 23 4 23 5 23 8 21 10 21 11 19 13 18 14 17 15 16 16 15 16 14 18 12 17 11 18 10 18 8 19 8 18 6 19 5 18 5 19 3 18 2 18 2 17 1 17 1 17-1 17-1 16-1 15-2 16-2 15-2 14-3 15-2 14-4 14-3 13-3 14-4 14-4 13-4 13-5 14-4 14-5 14-5 14-5 14-5 15-6 15-5 16-6 18-7 18-6 19-7 22-7 25-6 28-7 35" stroke="#580094"/>
<path d="M846 4530l-4-37-5-30-6-25-5-23-5-20-5-19-5-17-5-16-4-16-5-15-4-14-4-14-4-14-3-14-4-13-4-13-3-14-4-13-3-13-3-14-4-13-3-14-3-15-3-14-2-15-2-16-2-16-2-16 0-17-1-17 1-18 1-19 2-19 3-19 5-19 5-19 7-19 9-19 9-19 11-19 12-18 13-18 15-17 15-16 18-16 18-14 20-14 20-11 22-10 22-7 24-6 23-2 24 0 24 4 23 5 22 8 22 10 20 12 20 13 18 14 17 15 16 16 15 17 14 17 12 18 11 18 10 18 8 19 8 19 6 18 5 19 4 18 3 19 3 17 2 18 1 17 0 17-1 17-1 16-1 15-2 16-2 15-2 14-3 15-2 14-4 14-3 13-3 14-4 14-4 13-4 13-5 14-4 14-5 14-5 14-5 14-5 15-6 15-5 16-6 18-7 18-6 19-7 22-7 25-6 28-7 35" stroke="#4f00ac"/>
<path d="M846 4530l-4-37-5-30-6-25-5-23-5-20-5-19-5-17-5-16-4-16-5-15-4-14-4-14-4-14-3-14-4-13-4-13-3-14-4-13-3-13-4-14-3-13-4-14-3-15-2-14-3-15-2-16-2-16-1-16-1-17-1-18 1-18 1-18 2-19 3-19 4-20 6-19 7-19 8-20 10-19 10-18 12-19 14-18 14-17 16-17 18-16 18-14 20-13 21-12 21-10 23-7 23-6 24-2 24 0 24 4 23 6 23 8 21 10 21 11 20 13 18 15 17 15 16 16 15 17 14 17 12 18 11 19 10 18 8 19 8 19 6 19 5 18 4 19 3 18 2 18 2 18 1 17 0 17-1 16-1 17-1 15-2 16-2 15-2 14-3 15-2 14-4 14-3 13-3 14-4 14-4 13-4 13-5 14-4 14-5 14-5 14-5 14-5 15-6 15-5 16-6 18-7 18-6 19-7 22-7 25-6 28-7 35" stroke="#3e03c8"/>
<path d="M846 4530l-4-37-5-30-6-25-5-23-5-20-5-19-5-17-5-16-4-16-5-15-4-14-4-14-4-14-3-14-4-13-4-13-3-13-4-14-3-13-4-14-3-13-4-14-3-15-3-14-2-15-3-16-1-16-2-17-1-17-1-17 1-18 1-19 2-19 3-19 4-20 6-19 6-20 9-19 9-19 11-19 12-19 13-18 15-17 16-17 17-16 19-15 20-13 21-12 22-10 23-7 23-6 24-2 24 0 24 4 23 6 23 8 22 10 21 12 19 13 19 14 17 16 16 16 15 17 14 18 12 18 11 18 10 19 8 19 7 19 7 19 5 19 4 18 3 19 2 18 2 18 0 17 1 17-1 16-2 17-1 15-2 16-2 15-2 14-3 15-2 14-4 14-3 13-3 14-4 14-4 13-4 13-5 14-4 14-5 14-5 14-5 14-5 15-6 15-5 16-6 18-7 18-6 19-7 22-7 25-6 28-7 35" stroke="#230ae6"/>
<path d="M846 4530l-4-37-5-30-6-25-5-23-5-20-5-18-5-18-5-16-4-16-5-15-4-14-4-14-4-14-4-14-3-13-4-13-3-13-4-14-3-13-4-14-4-13-4-14-3-15-2-14-3-15-2-16-2-16-2-17-1-17-1-18 0-18 1-19 2-19 3-19 5-20 5-20 7-19 8-20 10-19 11-19 12-19 13-18 15-18 16-17 17-16 19-14 20-14 21-12 22-10 23-7 24-6 24-2 24 0 24 4 24 6 23 8 22 10 20 12 20 14 19 14 17 16 16 16 15 17 14 18 12 18 11 19 10 19 8 19 7 19 6 19 5 19 4 19 3 18 3 19 1 17 1 18 0 17-1 16-2 17-1 15-2 16-2 15-2 14-3 15-2 14-4 14-3 13-3 14-4 14-4 13-4 13-5 14-4 14-5 14-5 14-5 14-5 15-6 15-5 16-6 18-7 18-6 19-7 22-7 25-6 28-7 35" stroke="#0f0cfe"/>
<path d="M846 4530l-4-37-5-30-6-25-5-22-5-21-5-18-5-18-5-16-4-16-5-15-4-14-4-14-4-14-4-14-3-13-4-13-4-13-3-14-4-13-3-14-4-13-4-14-3-15-3-14-2-16-3-15-2-16-2-17-1-17-1-18 0-18 1-19 2-20 3-19 4-20 6-20 7-20 8-19 9-20 11-19 12-19 14-18 15-18 16-17 17-16 19-15 20-14 21-12 23-10 23-7 24-6 24-2 24 0 24 4 24 6 23 8 22 11 21 12 20 13 19 15 17 16 16 16 15 18 14 17 12 19 11 19 10 19 8 19 7 19 6 20 5 19 4 19 3 18 2 18 1 18 1 17 0 17-1 17-1 16-2 16-2 16-2 15-2 14-3 15-2 14-4 14-3 13-3 14-4 14-4 13-4 13-5 14-4 14-5 14-5 14-5 14-5 15-6 15-5 16-6 18-7 18-6 19-7 22-7 25-6 28-7 35" stroke="#0202ff"/>
<path d="M846 4530l-4-37-5-30-6-25-5-22-5-21-5-18-5-18-5-16-4-16-5-15-4-14-4-14-4-14-4-14-3-13-4-13-4-13-3-14-4-13-3-13-4-14-4-14-3-15-3-14-3-16-2-15-2-17-2-16-2-18 0-18-1-18 1-19 2-19 3-20 4-20 5-20 7-20 8-20 10-19 11-20 12-19 14-18 15-18 16-17 17-17 19-15 20-13 22-13 22-10 23-7 24-6 25-2 24 0 25 4 24 6 23 8 22 11 21 12 20 14 19 15 17 15 16 17 15 18 14 18 12 18 11 19 10 20 8 19 7 20 6 19 5 19 4 19 2 19 3 18 1 18 1 17 0 17-2 17-1 16-2 16-2 16-2 15-2 14-3 15-2 14-4 14-3 13-3 14-4 14-4 13-4 13-5 14-4 14-5 14-5 14-5 14-5 15-6 15-5 16-6 18-7 18-6 19-7 22-7 25-6 28-7 35" stroke="#0013ff"/>
<path d="M846 4530l-4-37-6-30-5-25-5-22-5-21-5-18-5-18-5-16-4-16-5-15-4-14-4-14-4-14-4-14-3-13-4-13-4-13-3-14-4-13-4-13-4-14-4-14-3-15-3-14-2-16-3-15-2-17-2-17-1-17-1-18-1-19 1-19 2-19 2-20 5-20 5-20 7-20 8-20 10-20 10-20 13-19 13-18 15-19 17-17 17-16 19-15 21-14 21-12 23-11 23-7 24-6 25-2 24 0 25 4 24 6 23 9 22 10 22 13 20 13 18 15 18 16 16 17 15 18 14 18 12 19 11 19 10 20 8 19 7 20 6 19 4 20 4 19 3 18 2 19 1 18 1 17 0 17-2 17-1 16-2 16-2 16-2 14-2 15-3 15-2 14-4 14-3 13-3 14-4 14-4 13-4 13-5 14-4 14-5 14-5 14-5 14-5 15-6 15-5 16-6 18-7 18-6 19-7 22-7 25-6 28-7 35" stroke="#002cff"/>
<path d="M846 4530l-4-37-6-30-5-25-5-22-5-21-5-18-5-18-5-16-4-16-5-15-4-14-4-14-4-14-4-14-3-13-4-13-4-13-3-14-4-13-4-13-4-14-4-14-3-15-3-15-3-15-2-16-3-16-2-17-1-17-1-18-1-19 1-19 2-20 2-20 4-20 6-20 7-21 8-20 9-20 11-19 12-20 14-18 15-19 17-17 17-17 19-15 21-14 21-12 23-10 24-8 24-6 25-2 24 1 25 3 24 6 23 9 23 11 21 12 20 14 19 15 18 16 16 18 15 17 14 19 12 19 11 19 10 20 8 19 7 20 5 20 5 19 4 19 3 19 2 19 1 17 0 18 0 17-1 17-2 16-2 16-2 16-2 14-2 15-3 15-2 14-4 14-3 13-3 14-4 14-4 13-4 13-5 14-4 14-5 14-5 14-5 14-5 15-6 15-5 16-6 18-7 18-6 19-7 22-7 25-6 28-7 35" stroke="#0044ff"/>
<path d="M846 4530l-4-37-6-30-5-25-5-22-6-21-5-18-4-18-5-16-4-16-5-15-4-14-4-14-4-14-4-14-3-13-4-13-4-13-3-14-4-13-4-13-4-14-4-14-3-15-3-15-3-15-3-16-2-16-2-17-2-17-1-19 0-18 0-20 2-20 2-20 4-20 6-20 6-21 8-20 10-20 11-20 12-19 14-19 15-19 17-17 17-17 20-15 20-14 22-13 23-10 23-8 25-5 25-3 25 1 24 4 24 6 24 9 22 10 22 13 20 14 19 15 18 17 16 17 15 18 14 18 12 19 11 20 9 20 9 20 6 19 6 20 5 20 3 19 3 19 2 18 1 18 1 18 0 17-2 17-2 16-2 16-2 16-2 14-2 15-3 15-2 14-4 14-3 13-3 14-4 14-4 13-4 13-5 14-4 14-5 14-5 14-5 14-5 15-6 15-5 17-6 17-7 18-6 19-7 22-7 25-6 28-7 35" stroke="#005fff"/>
<path d="M846 4530l-4-37-6-29-5-26-6-22-5-20-5-19-5-18-4-16-5-16-4-15-4-14-4-14-4-14-4-14-4-13-3-13-4-13-4-14-3-13-4-13-4-14-5-14-3-15-3-15-3-15-2-16-3-16-2-17-2-18-1-18 0-19 0-19 1-20 3-20 4-21 5-20 7-21 8-20 10-20 11-20 12-20 14-19 15-19 17-17 18-17 19-15 20-15 22-12 23-10 24-8 24-6 25-2 26 0 24 4 25 6 23 9 23 11 21 13 21 14 19 15 18 17 16 17 15 18 14 19 12 19 11 20 9 20 8 20 7 20 6 20 4 19 4 20 3 19 2 18 1 18 0 18 0 17-2 17-2 16-2 16-1 16-3 14-2 15-3 15-2 14-4 14-3 13-3 14-4 14-4 13-4 13-5 14-4 14-5 14-5 14-5 14-5 15-6 15-5 17-6 17-7 18-6 20-7 21-7 25-6 28-7 35" stroke="#007cff"/>
<path d="M846 4530l-5-37-5-29-5-25-6-23-5-20-5-19-5-17-4-17-5-16-4-15-4-14-4-14-4-14-4-14-4-13-3-13-4-13-4-14-3-13-4-13-5-14-4-14-3-15-3-15-3-15-3-16-2-16-3-17-1-18-2-18 0-19 0-20 1-20 3-20 4-21 5-20 7-21 8-21 10-20 11-20 12-20 14-19 15-18 17-18 18-17 19-16 21-14 22-12 23-11 24-8 24-5 25-3 26 1 25 3 24 7 24 9 22 11 22 13 20 14 20 15 17 17 17 17 15 19 14 19 12 19 11 20 9 20 8 20 7 20 6 20 4 20 4 19 2 19 2 19 1 18 0 18 0 17-2 17-2 16-2 16-1 16-3 14-2 15-3 15-2 14-4 14-3 13-3 14-4 14-4 13-4 13-5 14-4 14-5 14-5 14-5 14-5 15-6 15-5 17-6 17-7 18-6 20-7 21-6 25-7 28-7 35" stroke="#0099ff"/>
<path d="M846 4530l-5-37-5-29-6-25-5-22-5-21-5-19-5-17-4-17-5-15-4-16-4-14-4-14-4-14-4-13-4-14-3-13-4-13-4-14-4-13-4-13-4-14-4-14-4-15-3-15-3-15-2-16-3-16-2-18-2-17-1-19-1-19 0-19 1-21 3-20 4-21 5-21 7-20 8-21 9-20 11-21 13-19 14-20 15-18 17-18 18-17 19-16 21-14 22-13 23-10 24-9 25-5 25-3 26 1 25 4 24 6 24 9 23 12 22 12 20 15 19 15 18 17 17 18 15 18 14 19 12 20 11 20 9 20 8 20 7 20 5 20 5 20 3 20 3 19 1 19 1 18 1 17 0 18-3 17-2 16-1 16-2 16-3 14-2 15-2 15-3 14-4 14-3 13-3 14-4 14-4 13-4 13-5 14-4 14-5 14-5 14-5 14-5 15-6 15-5 17-6 17-7 18-6 20-7 21-6 25-7 28-7 35" stroke="#00afff"/>
<path d="M846 4530l-5-36-5-30-6-25-5-22-5-21-5-19-5-17-5-17-4-15-4-15-4-15-4-14-4-14-4-13-4-14-4-13-3-13-4-14-4-13-4-13-4-14-5-14-3-15-3-15-3-15-3-16-3-17-2-17-2-18-1-18-1-19 0-20 1-20 3-21 4-21 5-21 6-20 9-21 9-21 11-20 13-20 14-20 15-18 17-18 18-18 19-15 21-15 22-12 24-11 24-8 25-6 25-2 26 1 25 3 25 7 24 9 23 11 21 13 21 15 19 15 18 17 17 18 15 19 13 19 13 19 10 21 10 20 8 20 7 21 5 20 4 20 4 19 2 20 2 18 1 19 0 17 0 18-2 17-2 16-2 16-2 15-2 15-3 15-2 15-3 14-4 14-3 13-3 14-4 14-4 13-4 13-5 14-4 14-5 14-5 14-5 14-5 15-6 15-5 17-6 17-7 18-6 20-7 21-6 25-7 28-7 35" stroke="#00c2ff"/>
<path d="M846 4530l-5-36-5-29-6-25-5-23-6-20-4-19-5-18-5-17-4-15-4-15-4-15-4-14-4-14-4-13-4-14-4-13-3-13-4-13-4-14-4-13-4-14-5-14-3-15-3-15-4-15-3-16-2-17-3-17-2-18-1-18-1-20 0-19 1-21 3-21 3-21 6-21 6-21 8-21 10-20 11-21 12-20 14-19 16-19 17-19 18-17 20-16 21-14 22-13 23-10 25-9 25-5 25-3 26 1 25 4 25 6 24 10 23 11 22 13 21 15 19 15 18 17 17 18 15 19 13 19 13 20 10 20 10 21 8 20 6 21 6 20 4 20 3 20 3 19 1 19 1 18 0 18 0 17-2 18-2 16-2 16-2 15-2 15-3 15-2 15-3 14-4 14-3 13-3 14-4 14-4 13-4 13-5 14-4 14-5 14-5 14-5 14-5 15-6 15-5 17-6 17-7 18-6 20-7 21-6 25-7 28-7 35" stroke="#00d5ff"/>
<path d="M846 4530l-5-36-6-29-5-25-6-23-5-20-5-19-4-18-5-16-4-16-4-15-5-15-4-14-3-14-4-13-4-14-4-13-4-13-3-13-4-14-4-13-5-14-4-14-4-15-3-15-3-15-3-16-3-17-2-17-2-18-2-19-1-19 0-20 1-21 3-20 3-21 5-22 7-21 8-21 10-21 11-20 12-21 14-19 16-19 17-19 18-17 20-16 21-15 22-12 24-11 24-8 25-6 26-2 26 0 25 4 25 7 24 9 24 12 22 13 20 14 20 17 18 17 16 18 16 19 13 19 13 20 10 20 10 21 7 21 7 20 5 21 5 20 3 20 2 19 2 19 1 18 0 18-1 17-2 18-2 16-2 16-2 15-2 15-3 15-2 15-3 14-4 14-3 13-3 14-4 14-4 13-4 13-5 14-4 14-5 14-5 14-5 14-5 15-6 15-5 17-6 17-7 18-6 20-7 21-6 25-7 28-7 35" stroke="#00edff"/>
<path d="M846 4530l-5-36-6-29-5-25-6-22-5-21-5-19-4-18-5-16-4-16-5-15-4-15-4-14-4-14-3-13-4-14-4-13-4-13-3-13-4-14-4-13-5-14-5-14-3-15-3-15-3-15-4-16-2-17-3-17-2-18-2-19-1-20 0-20 1-20 2-21 4-21 5-22 7-21 8-21 9-21 12-21 12-20 14-20 16-19 17-19 18-17 20-16 21-15 23-13 23-11 25-8 25-6 26-2 26 1 25 4 26 6 24 10 23 11 22 14 21 14 19 17 19 17 16 18 16 19 13 20 12 20 11 20 9 21 8 21 7 21 5 20 4 20 3 20 3 20 1 19 1 18 0 18 0 17-3 18-2 16-2 16-2 15-2 15-3 15-2 15-3 14-4 14-3 13-3 14-4 14-4 13-4 13-5 14-4 14-5 14-5 14-5 14-5 15-6 15-5 17-6 17-6 18-7 20-7 21-6 25-7 28-7 35" stroke="#00fff2"/>
<path d="M846 4530l-5-36-6-28-6-26-5-22-5-21-5-19-5-18-4-16-4-16-5-15-4-15-4-14-4-14-4-13-3-14-4-13-4-13-4-13-3-14-5-13-4-14-5-14-3-15-4-15-3-15-3-17-3-16-3-18-2-18-1-18-2-20 0-20 1-21 2-21 4-21 5-22 6-21 9-22 9-21 11-21 13-20 14-20 16-19 17-19 18-17 20-17 21-14 23-13 24-11 24-9 26-5 26-3 26 1 26 4 25 7 24 9 24 12 22 13 21 15 19 17 18 17 17 18 15 19 14 20 12 20 11 21 9 21 8 21 7 21 5 21 4 20 3 20 2 19 2 19 0 19 1 18-1 17-3 18-2 16-2 16-2 15-2 15-3 15-2 15-3 14-3 14-4 13-3 14-4 14-4 13-4 13-5 14-4 14-5 14-5 14-5 14-5 15-6 15-5 17-6 17-6 18-7 20-7 21-6 25-7 28-7 35" stroke="#00ffcf"/>
<path d="M846 4530l-5-36-6-28-6-25-5-23-5-21-5-19-5-17-4-17-5-16-4-15-4-15-4-14-4-14-4-13-3-14-4-13-4-13-4-13-4-14-4-13-4-14-5-14-4-15-3-15-3-16-4-16-3-16-2-18-3-18-1-19-1-19-1-21 1-21 2-21 4-21 5-22 6-21 8-22 10-21 11-21 13-21 14-20 15-19 18-19 18-18 20-16 22-15 22-13 24-11 25-8 26-6 26-2 26 0 26 4 25 7 25 10 23 11 22 14 21 15 20 16 18 18 17 18 15 20 14 20 12 20 11 21 9 21 8 21 6 21 6 21 4 20 3 20 2 20 1 19 1 19 0 18-1 17-2 18-3 16-2 16-2 15-2 15-3 15-2 15-3 14-3 14-4 13-3 14-4 14-4 13-4 13-5 14-4 14-5 14-5 14-5 14-5 15-6 15-5 17-6 17-6 18-7 20-7 21-6 25-7 28-7 35" stroke="#00ffac"/>
<path d="M846 4530l-5-36-6-28-6-25-5-23-5-20-5-19-5-18-4-17-5-16-4-15-4-15-4-14-4-14-4-13-4-14-3-13-4-13-4-13-4-14-4-13-5-14-5-14-3-15-4-15-3-16-3-16-3-17-3-17-2-18-2-19-1-20-1-20 1-21 2-22 3-21 5-22 7-22 8-21 10-22 11-21 13-21 14-20 15-19 18-19 18-18 20-16 22-15 23-14 24-11 25-8 25-6 27-2 26 1 26 4 26 7 24 9 24 12 22 14 21 15 20 16 18 18 17 19 15 19 14 20 12 21 11 21 9 21 8 21 6 21 5 21 4 21 3 20 2 20 2 19 0 18 0 18 0 18-3 17-3 17-2 16-2 15-2 15-3 15-2 15-3 14-3 14-4 13-3 14-4 14-4 13-4 13-5 14-4 14-5 14-5 14-5 14-5 15-6 15-5 17-6 17-6 18-7 20-6 21-7 25-7 28-7 35" stroke="#00ff8f"/>
<path d="M846 4530l-5-35-6-29-6-25-6-22-5-21-4-19-5-18-4-17-5-16-4-15-4-15-4-14-4-14-4-13-4-14-3-13-4-13-4-13-4-14-4-13-5-14-5-14-3-15-4-15-3-16-4-16-3-17-3-17-2-19-2-19-1-19-1-21 1-21 2-21 3-22 5-22 7-22 8-22 9-21 12-22 12-20 15-21 15-20 18-18 18-18 21-17 21-15 23-13 24-11 25-9 26-5 27-3 26 1 26 4 26 7 25 10 23 12 23 13 21 16 20 16 18 18 17 19 15 20 14 20 12 21 11 21 9 21 8 21 6 22 5 21 4 20 3 21 2 19 1 20 1 18 0 18-1 18-3 17-3 17-2 16-2 15-2 15-3 15-2 15-3 14-3 14-4 13-3 14-4 14-4 13-4 14-5 13-4 14-5 14-5 14-5 14-5 15-6 15-5 17-6 17-6 18-7 20-6 21-7 25-7 28-7 35" stroke="#00ff6f"/>
<path d="M846 4530l-5-35-7-29-5-25-6-22-5-21-5-19-4-18-5-17-4-16-4-15-4-14-4-15-4-14-4-13-4-13-3-14-4-13-4-13-4-14-4-13-5-14-5-14-4-15-3-15-4-16-3-16-3-17-3-17-3-19-2-19-1-20-1-20 1-22 2-21 3-22 5-22 6-22 8-22 10-22 11-21 13-21 14-21 16-20 18-19 18-18 21-16 21-15 23-14 25-11 25-8 26-6 26-3 27 1 26 4 26 7 25 10 24 12 22 14 22 16 19 16 19 18 17 19 15 20 14 20 12 21 11 22 9 21 7 22 7 21 5 21 4 21 2 20 2 20 2 19 0 19 0 18-1 18-3 17-3 17-2 16-2 15-2 15-3 15-2 15-3 14-3 14-4 13-3 14-4 14-4 13-4 14-5 13-4 14-5 14-5 14-5 14-5 15-6 15-5 17-6 17-6 18-7 20-6 22-7 24-7 28-7 35" stroke="#00ff4c"/>
<path d="M846 4530l-5-35-7-28-5-25-6-23-5-21-5-19-4-18-5-17-4-16-4-15-4-14-4-15-4-13-4-14-4-13-4-14-3-13-4-13-4-14-5-13-4-14-6-14-3-15-4-15-3-16-4-16-3-17-3-18-3-18-2-19-1-20-1-21 1-21 2-22 3-22 5-22 6-22 8-22 10-22 11-22 13-21 14-21 16-20 18-19 18-18 21-17 22-15 23-13 24-11 26-9 26-6 26-2 27 0 27 5 25 7 25 10 24 12 23 14 21 15 20 17 19 18 17 19 15 20 14 21 12 21 11 21 9 22 7 22 7 21 4 22 4 21 3 20 2 20 1 19 1 19-1 18 0 18-4 17-2 17-3 16-2 15-2 15-3 15-2 15-3 14-3 14-4 13-3 14-4 14-4 13-4 14-5 13-4 14-5 14-5 14-5 14-5 15-6 15-5 17-6 17-6 18-7 20-6 22-7 24-7 28-7 35" stroke="#00ff29"/>
<path d="M846 4530l-6-35-6-28-6-25-5-23-5-21-5-19-4-18-5-17-4-15-4-16-4-14-4-15-4-13-4-14-4-13-4-14-3-13-4-13-4-14-5-13-5-14-5-14-4-15-3-15-4-16-3-16-4-17-3-18-2-18-2-20-2-20-1-21 1-21 1-22 4-22 4-22 7-23 8-22 10-22 11-21 13-22 14-21 16-20 17-19 20-18 20-17 22-15 23-14 25-11 25-9 27-6 26-2 27 1 27 4 26 7 25 10 24 12 23 14 21 16 20 17 19 19 17 19 15 20 14 20 12 22 11 21 9 22 7 22 6 22 5 21 4 21 3 21 2 19 1 20 0 19 0 18-1 18-3 17-3 17-3 16-2 15-2 15-3 15-2 15-3 14-3 14-4 13-3 14-4 14-4 13-4 14-5 13-4 14-5 14-5 14-5 14-5 15-6 15-5 17-6 17-6 18-7 20-6 22-7 24-7 28-7 35" stroke="#00ff19"/>
<path d="M846 4530l-6-35-6-28-6-25-5-23-5-20-5-20-5-18-4-16-4-16-4-16-4-14-4-15-4-13-4-14-4-13-4-14-4-13-3-13-5-14-4-13-5-14-5-14-4-15-4-15-3-16-4-16-3-17-3-18-3-19-2-19-2-20-1-21 1-22 1-22 3-22 5-22 7-23 8-22 9-22 12-22 12-22 15-20 16-21 17-19 20-18 20-17 22-16 24-13 24-12 26-8 26-6 27-3 27 1 27 4 26 8 25 10 24 12 23 14 22 16 20 17 18 19 18 19 15 20 14 21 12 21 11 22 9 22 7 22 6 22 5 21 4 22 2 20 2 20 1 20 0 18 0 19-1 17-3 18-3 17-3 16-2 15-2 15-3 15-2 15-3 14-3 14-4 13-3 14-4 14-4 13-4 14-5 13-4 14-5 14-5 14-5 14-5 15-6 15-5 17-6 17-6 18-7 20-6 22-7 24-7 28-7 35" stroke="#00ff0f"/>
<path d="M846 4530l-6-35-6-28-6-25-5-22-5-21-5-20-5-17-4-17-4-16-5-16-4-14-4-14-3-14-4-14-4-13-4-14-4-13-4-13-4-14-4-13-5-14-6-14-3-15-4-15-4-16-3-16-4-17-3-18-3-19-2-19-2-21-1-21 1-21 1-23 3-22 5-23 6-22 8-23 10-22 11-22 13-21 15-21 16-21 17-19 20-19 20-17 22-15 24-14 25-11 26-9 26-6 27-3 27 1 27 5 26 7 26 10 24 13 23 14 22 16 20 17 18 19 17 19 16 21 14 21 12 21 10 22 9 22 8 22 6 22 5 22 3 21 3 21 2 20 1 19 0 19-1 19 0 17-4 18-3 17-3 16-2 15-2 15-3 15-2 15-3 14-3 14-4 13-3 14-4 14-4 13-4 14-5 13-4 14-5 14-5 14-5 14-5 15-6 15-5 17-6 17-6 18-7 20-6 22-7 24-7 28-7 35" stroke="#00ff05"/>
<path d="M846 4530l-6-35-6-27-6-25-6-23-5-21-4-19-5-18-4-17-4-16-5-15-4-15-4-14-3-14-4-14-4-13-4-14-4-13-4-13-4-14-4-13-5-14-6-14-4-15-3-15-4-16-4-16-3-18-3-17-3-19-3-20-1-20-1-21 0-22 1-22 3-23 5-22 7-23 8-22 9-23 12-22 12-22 15-21 16-20 18-20 19-18 21-17 22-16 24-14 24-11 26-9 27-6 27-2 27 1 27 4 27 7 25 11 24 12 23 14 22 16 20 18 19 19 17 19 16 20 13 22 13 21 10 22 9 23 7 22 6 22 5 21 4 22 2 20 2 21 1 19 0 19 0 19-1 17-4 18-3 17-3 16-2 15-2 15-3 15-2 15-3 14-3 14-4 13-3 14-4 14-4 13-4 14-5 13-4 14-5 14-5 14-5 14-5 15-6 15-5 17-6 17-6 18-7 20-6 22-7 24-7 28-7 35" stroke="#0aff00"/>
<path d="M846 4530l-6-34-6-28-6-25-6-23-5-21-4-19-5-18-4-17-5-16-4-15-4-15-4-14-4-14-3-14-4-13-4-14-4-13-4-13-4-14-4-13-5-14-6-14-4-15-4-15-3-16-4-17-3-17-4-18-3-18-2-20-2-20-1-21 0-22 2-23 3-22 4-23 7-23 8-22 9-23 12-22 13-22 14-21 16-20 18-20 19-19 21-17 23-15 23-14 25-12 26-9 27-5 27-3 27 1 27 4 27 8 25 10 25 12 23 15 21 16 21 18 18 18 18 20 15 20 14 22 12 21 11 23 9 22 7 22 6 22 5 22 3 21 3 21 1 20 1 20 0 19 0 18-1 18-4 18-3 17-2 16-3 15-2 15-3 15-2 15-3 14-3 14-4 13-3 14-4 14-4 13-4 14-5 13-4 14-5 14-5 14-5 14-5 15-6 15-5 17-6 17-6 18-7 20-6 22-7 24-7 28-7 35" stroke="#20ff00"/>
<path d="M846 4530l-6-34-6-28-7-25-5-23-5-21-5-19-4-18-4-17-5-16-4-15-4-15-4-14-4-14-4-14-3-13-4-14-4-13-4-13-4-14-5-13-5-14-5-14-4-15-4-15-4-16-3-17-4-17-3-18-3-19-3-19-2-21-1-21 0-22 2-22 3-23 4-23 7-22 8-23 10-23 11-22 13-22 14-21 17-21 17-19 20-19 21-17 22-16 24-14 25-11 26-9 27-6 27-3 27 1 27 5 27 7 26 10 24 13 23 14 22 17 20 17 19 19 17 20 16 20 14 22 12 22 10 22 9 22 7 23 6 22 5 22 4 21 2 21 2 20 0 20 1 19-1 18-1 18-4 18-3 17-2 16-3 15-2 15-3 15-2 15-3 14-3 14-4 13-3 14-4 14-4 13-4 14-5 13-4 14-5 14-5 14-5 14-5 15-6 15-5 17-6 17-6 18-7 20-6 22-7 24-7 28-7 35" stroke="#35ff00"/>
<path d="M846 4530l-6-34-7-28-6-25-5-22-5-21-5-20-4-18-5-17-4-16-4-15-4-15-4-14-4-14-4-14-3-13-4-14-4-13-4-13-4-13-5-14-5-14-5-14-4-15-4-15-4-16-4-17-3-17-4-18-3-19-2-19-2-21-1-21 0-22 1-23 3-22 5-23 6-23 8-23 10-23 11-22 13-22 15-21 16-21 18-20 19-19 21-17 23-16 23-14 25-11 27-9 26-6 28-3 27 1 28 5 26 7 26 11 24 12 24 15 21 16 21 18 19 19 17 20 15 20 14 22 12 22 11 22 9 23 7 22 6 22 5 22 3 22 2 21 2 20 1 20 0 19-1 18-1 18-3 18-4 17-2 16-3 15-2 15-3 15-2 15-3 14-3 14-4 13-3 14-4 14-4 13-4 14-5 13-4 14-5 14-5 14-5 14-5 15-6 15-5 17-6 17-6 18-7 20-6 22-7 24-7 28-7 35" stroke="#4bff00"/>
<path d="M846 4530l-6-34-7-28-6-24-5-23-5-21-5-20-4-18-5-17-4-16-4-15-4-15-4-14-4-14-4-14-4-13-3-13-4-14-4-13-4-13-5-14-5-14-6-14-3-15-4-15-4-16-4-17-4-17-3-18-3-19-3-20-2-20-1-22 0-22 1-22 3-23 5-23 6-23 8-23 10-23 11-22 13-22 15-22 16-20 18-20 20-19 21-17 22-16 24-14 25-12 26-9 27-6 28-2 27 1 28 4 26 8 26 10 25 13 23 14 22 17 20 18 19 19 17 20 16 20 14 22 12 22 10 22 9 23 8 23 5 22 5 22 3 21 3 21 1 21 1 20 0 19 0 18-1 18-4 18-4 17-2 16-3 15-2 15-3 15-2 15-3 14-3 14-4 13-3 14-4 14-4 13-4 14-5 13-4 14-5 14-5 14-5 14-5 15-6 15-5 17-6 17-6 18-7 20-6 22-7 24-7 28-7 35" stroke="#61ff00"/>
<path d="M846 4530l-6-34-7-27-6-25-5-23-5-21-5-20-5-18-4-17-4-16-4-15-4-15-4-14-4-14-4-14-4-13-3-13-4-14-4-13-4-13-5-14-5-14-6-14-4-15-4-15-4-16-3-17-4-17-4-18-3-19-2-20-2-20-2-22 0-22 2-23 2-23 5-23 6-23 8-23 10-23 12-22 13-22 14-22 17-21 17-20 20-18 21-18 23-16 24-14 25-12 26-9 27-6 28-2 27 1 28 4 27 8 25 10 25 13 23 15 22 16 21 18 19 19 17 20 16 21 13 22 13 22 10 23 9 22 7 23 6 22 4 23 4 21 2 21 2 21 0 19 0 20 0 18-1 18-4 18-4 17-2 16-3 15-2 15-3 15-2 15-3 14-3 14-4 13-3 14-4 14-4 13-4 14-5 13-4 14-5 14-5 14-5 14-5 15-6 16-5 16-6 17-6 18-7 20-6 22-7 24-7 28-7 35" stroke="#74ff00"/>
<path d="M846 4530l-6-34-7-27-6-25-6-23-5-21-4-19-5-19-4-17-4-16-4-15-4-15-4-14-4-14-4-14-4-13-4-13-3-14-4-13-5-13-4-14-5-14-6-14-4-15-4-15-4-16-4-17-3-17-4-18-3-19-3-20-2-21-1-21 0-22 1-23 3-23 4-23 7-24 8-23 9-23 12-22 13-22 14-22 17-21 18-20 19-19 21-18 23-16 24-14 25-11 27-9 27-6 28-3 27 1 28 5 27 7 26 11 24 13 24 15 22 16 20 18 19 19 18 20 15 21 14 22 12 22 11 23 8 23 8 22 5 23 5 22 3 22 3 21 1 20 1 20 0 19-1 19-1 18-4 18-4 17-2 16-3 15-2 15-3 15-2 15-3 14-3 14-4 13-3 14-4 14-4 13-4 14-5 13-4 14-5 14-5 14-5 14-5 15-6 16-5 16-6 17-6 18-7 20-6 22-7 24-7 28-7 35" stroke="#88ff00"/>
<path d="M846 4530l-6-34-7-27-6-25-6-23-5-21-4-19-5-18-4-17-4-17-4-15-4-15-4-14-4-14-4-14-4-13-4-13-3-14-4-13-5-13-4-14-6-14-5-14-4-15-4-15-4-16-4-17-4-17-3-18-4-19-2-20-3-21-1-22 0-22 1-23 3-23 4-23 7-23 8-24 10-23 11-22 13-23 15-21 16-21 18-20 20-19 21-18 23-16 24-14 25-12 27-9 27-6 28-3 28 1 27 5 27 8 26 10 25 13 23 15 22 17 21 18 19 19 17 20 16 21 14 22 12 22 10 23 9 23 7 23 6 23 4 22 4 22 2 21 1 20 1 20 0 19-1 19-1 18-4 18-3 17-3 16-3 15-2 15-3 15-2 15-3 14-3 14-4 13-3 14-4 14-4 13-4 14-5 13-4 14-5 14-5 14-5 14-5 15-6 16-5 16-6 17-6 18-7 20-6 22-7 24-7 28-7 35" stroke="#9bff00"/>
<path d="M846 4530l-6-33-7-28-7-24-5-23-5-22-5-19-4-18-4-17-4-17-4-15-4-15-4-14-4-14-4-14-4-13-4-13-4-14-4-13-4-13-4-14-6-14-5-14-4-15-4-16-4-15-4-17-4-17-4-19-3-19-3-20-2-20-2-22 0-22 1-23 3-24 5-23 6-23 8-24 10-23 11-22 13-23 15-22 16-21 18-20 20-19 21-18 23-16 24-14 26-12 26-9 28-6 28-2 28 1 27 4 27 8 26 11 25 13 24 15 22 16 20 18 19 20 18 20 15 21 14 22 12 23 11 22 9 23 7 23 5 23 5 22 3 22 2 21 2 21 0 20 0 19 0 19-2 18-4 18-3 17-3 16-3 15-2 15-3 15-2 15-3 14-3 14-4 13-3 14-4 14-4 13-4 14-5 13-4 14-5 14-5 14-5 14-5 15-6 16-5 16-6 17-6 18-7 20-6 22-7 24-7 28-7 35" stroke="#b6ff00"/>
<path d="M846 4530l-6-33-7-27-7-25-5-23-5-21-5-20-4-18-4-17-4-16-5-16-4-15-3-14-4-14-4-14-4-13-4-13-4-14-4-13-4-13-5-14-5-14-6-14-4-15-4-16-4-16-4-16-4-18-3-18-4-19-3-20-2-21-1-21 0-23 1-23 2-23 5-24 6-23 8-23 10-24 11-22 13-23 15-22 17-21 18-20 20-19 21-18 23-16 24-15 26-11 26-9 28-7 28-2 28 1 27 5 27 7 27 11 24 13 24 15 22 17 21 18 19 19 17 21 16 21 14 22 12 23 10 23 9 23 7 23 6 23 4 22 4 22 2 21 1 21 1 20 0 19-1 19-1 18-5 18-3 17-3 16-3 15-2 15-3 15-2 15-3 14-3 14-4 13-3 14-4 14-4 13-4 14-5 13-4 14-5 14-5 14-5 14-5 15-6 16-5 16-6 17-6 18-7 20-6 22-7 24-7 28-7 35" stroke="#d2ff00"/>
<path d="M846 4530l-7-33-7-27-6-25-5-23-5-21-5-20-4-18-4-17-5-16-4-16-4-15-4-14-3-14-4-14-4-13-4-13-4-14-4-13-4-13-5-14-5-14-6-14-4-15-4-16-4-16-4-16-4-18-4-18-3-19-3-20-2-21-2-22 0-22 1-23 3-24 4-23 6-24 8-23 10-24 12-23 13-22 14-22 17-21 18-21 20-19 21-18 23-16 25-14 25-12 27-9 27-6 28-3 29 1 27 5 28 8 26 10 25 13 24 16 22 16 20 19 19 19 18 21 16 21 14 22 12 23 10 23 9 23 7 23 5 23 5 23 3 22 2 21 1 21 1 20 0 19-1 19-1 18-5 18-3 17-3 16-3 15-2 15-3 15-2 15-3 14-3 14-4 13-3 14-4 14-4 13-4 14-5 13-4 14-5 14-5 14-5 14-5 15-6 16-5 16-6 17-6 18-7 20-6 22-7 24-7 28-7 35" stroke="#efff00"/>
<path d="M846 4530l-7-33-7-27-6-25-5-23-5-21-5-20-4-18-5-17-4-16-4-16-4-15-4-14-3-14-4-13-4-14-4-13-4-14-4-13-4-13-5-14-5-14-6-14-4-15-4-16-4-16-4-16-4-18-4-18-4-19-3-20-2-21-1-22-1-23 1-23 3-23 4-24 7-24 8-23 9-23 12-24 13-22 15-22 16-21 19-21 19-19 22-18 23-16 24-15 26-12 27-9 27-6 28-3 29 2 28 4 27 8 26 11 25 13 24 15 22 17 21 19 19 19 17 21 16 21 14 22 12 23 11 23 8 24 7 23 6 23 4 22 3 22 2 22 2 20 0 20 0 20-1 18-1 19-4 18-4 17-3 16-3 15-2 15-3 15-2 15-3 14-3 14-4 13-3 14-4 14-4 13-4 14-5 13-4 14-5 14-5 14-5 14-5 15-6 16-5 16-6 17-6 18-7 20-6 22-7 24-7 28-7 35" stroke="#fff200"/>
<path d="M846 4530l-7-33-7-27-6-25-6-23-4-21-5-20-4-18-5-17-4-16-4-16-4-15-4-14-4-14-3-13-4-14-4-13-4-14-4-13-4-13-5-14-5-14-6-14-4-15-4-16-5-16-4-16-4-18-3-18-4-19-3-20-2-21-2-22 0-23 1-23 2-24 5-24 6-23 8-24 10-23 11-23 13-23 15-22 17-22 18-20 20-19 21-18 23-17 25-14 26-12 26-9 28-6 28-3 29 1 28 5 27 8 26 11 25 13 24 15 23 17 20 18 19 20 18 21 16 21 14 23 12 22 10 24 9 23 7 23 5 23 5 23 3 22 2 21 1 21 0 20 0 20-1 18-1 18-4 19-4 17-3 16-3 15-2 15-3 15-2 15-3 14-3 14-4 13-3 14-4 14-4 13-4 14-5 13-4 14-5 14-5 14-5 14-5 15-6 16-5 16-6 17-6 18-7 20-6 22-7 24-7 28-7 35" stroke="#ffd500"/>
<path d="M846 4530l-7-33-7-27-6-24-6-23-5-22-4-19-4-19-5-17-4-16-4-16-4-14-4-15-4-14-3-13-4-14-4-13-4-14-4-13-4-13-5-14-6-14-5-14-5-15-4-16-4-16-4-16-4-18-4-18-3-19-3-21-3-21-2-22 0-22 1-24 3-23 4-24 6-24 8-24 10-23 11-23 14-23 15-22 16-22 18-20 20-20 22-18 23-16 25-14 25-12 27-10 28-6 28-2 29 1 28 4 27 8 27 11 25 13 24 16 22 17 21 18 19 20 17 21 16 21 14 23 12 23 11 23 8 23 7 24 6 23 4 23 3 22 2 21 1 21 1 20-1 20 0 18-2 18-4 19-4 17-3 16-3 15-2 15-3 15-2 15-3 14-3 14-4 13-3 14-4 14-4 13-4 14-5 13-4 14-5 14-5 14-5 14-5 15-6 16-5 16-6 17-6 18-7 20-6 22-7 24-7 28-7 35" stroke="#ffbc00" stroke-opacity="0.50"/>
<path d="M846 4530l-7-33-7-27-6-24-6-23-5-22-4-19-5-19-4-17-4-16-4-16-4-14-4-15-4-14-3-13-4-14-4-13-4-14-4-13-4-13-5-14-6-14-6-14-4-15-4-16-4-16-4-16-4-18-4-18-4-20-3-20-2-21-2-22-1-23 1-23 3-24 4-24 7-24 7-23 10-24 12-23 13-23 15-22 17-22 18-20 20-20 21-18 24-16 24-15 26-12 27-9 28-6 28-3 29 1 28 5 27 8 27 11 25 13 24 16 22 17 21 18 19 20 18 21 16 22 14 22 12 23 10 23 9 24 7 23 5 24 4 22 3 22 2 22 2 21 0 20 0 19-1 19-1 18-5 19-4 17-3 16-3 15-2 15-3 15-2 15-3 14-3 14-4 13-3 14-4 14-4 13-4 14-5 13-4 14-5 14-5 14-5 14-5 15-6 16-5 16-6 17-6 18-7 20-6 22-7 24-7 28-7 35" stroke="#ffaa00" stroke-opacity="0.50"/>
<path d="M846 4530l-7-33-7-26-6-25-6-23-5-22-4-19-5-19-4-17-4-16-4-16-4-14-4-15-4-14-4-13-3-14-4-13-4-14-4-13-5-13-4-14-6-14-6-14-4-15-4-16-4-16-5-17-4-17-4-18-3-20-3-20-3-21-2-22 0-23 1-24 2-23 5-24 6-24 8-24 10-24 11-23 13-23 15-22 17-22 18-21 20-19 22-18 23-17 25-14 26-12 27-10 28-6 28-2 29 1 28 4 27 9 27 10 25 14 24 15 23 17 21 19 19 20 17 21 16 22 14 22 12 23 11 24 8 23 7 24 6 23 4 23 3 22 2 22 1 21 0 20 0 19-1 19-1 18-5 19-4 17-3 16-3 15-2 15-3 15-2 15-3 14-3 14-4 13-3 14-4 14-4 13-4 14-5 13-4 14-5 14-5 14-5 14-5 15-6 16-5 16-6 17-6 18-7 20-6 22-7 24-7 28-7 35" stroke="#ff7a00" stroke-opacity="0.50"/>
<path d="M846 4530l-7-33-7-26-6-25-6-23-5-21-4-20-5-19-4-17-4-16-4-16-4-14-4-15-4-14-4-13-3-14-4-13-4-14-4-13-5-13-4-14-6-14-6-14-4-15-4-16-5-16-4-17-4-17-4-19-4-19-3-20-2-21-2-23-1-23 1-23 3-24 4-24 6-24 8-24 10-24 11-23 14-23 15-22 16-22 19-21 20-19 22-19 23-16 25-15 26-12 27-9 28-6 28-3 29 1 28 5 28 8 26 11 26 14 24 15 22 17 21 19 19 20 18 21 16 22 14 22 12 24 10 23 9 24 7 23 5 24 4 23 3 22 2 22 1 21 0 20 0 19-1 19-1 18-5 19-4 17-3 16-2 15-3 15-3 15-2 15-3 14-3 14-4 13-3 14-4 14-4 13-4 14-5 13-4 14-5 14-5 14-5 14-5 15-6 16-5 16-6 17-6 18-7 20-6 22-7 24-7 28-7 35" stroke="#ff6c00" stroke-opacity="0.50"/>
<path d="M846 4530l-7-33-7-26-7-25-5-23-5-21-4-20-5-19-4-17-4-16-4-15-4-15-4-15-4-14-4-13-3-14-4-13-4-14-4-13-5-13-5-14-5-14-6-14-4-15-5-16-4-16-4-17-4-17-4-19-4-19-3-20-3-22-2-22 0-23 0-23 3-24 4-24 6-25 8-24 10-23 12-24 13-23 15-22 17-22 18-21 20-20 22-18 23-16 25-15 26-12 27-9 29-7 28-2 29 1 28 5 28 8 26 11 26 13 24 16 23 17 20 19 20 20 17 21 16 22 14 23 12 23 11 24 8 23 7 24 5 23 5 23 3 23 1 21 1 21 1 21-1 19-1 19-1 18-5 19-4 17-3 16-2 15-3 15-3 15-2 15-3 14-3 14-4 13-3 14-4 14-4 13-4 14-5 13-4 14-5 14-5 14-5 14-5 15-6 16-5 16-6 17-6 18-7 20-6 22-7 24-7 28-7 35" stroke="#ff5f00" stroke-opacity="0.50"/>
<path d="M846 4530l-7-33-7-26-7-25-5-23-5-21-4-20-5-18-4-18-4-16-4-15-4-15-4-15-4-14-4-13-3-14-4-13-4-13-4-14-5-13-5-14-5-14-6-14-5-15-4-16-4-16-4-17-5-17-4-19-3-19-4-21-2-21-2-22-1-23 1-24 2-24 5-24 6-24 8-24 10-24 11-24 13-23 15-22 17-22 19-21 20-20 22-18 23-17 25-14 26-13 27-9 28-6 29-3 29 1 28 5 28 8 27 11 25 14 24 16 23 17 21 19 19 20 18 21 16 22 14 23 12 23 10 24 9 24 6 24 6 23 4 23 3 22 2 22 1 21 0 21 0 19-1 19-2 18-5 18-4 18-3 16-2 15-3 15-3 15-2 15-3 14-3 14-4 13-3 14-4 14-4 13-4 14-5 13-4 14-5 14-5 14-5 14-5 15-6 16-5 16-6 17-6 18-6 20-7 22-7 24-7 28-7 35" stroke="#ff5100" stroke-opacity="0.50"/>
<path d="M846 4530l-7-32-7-27-7-25-5-23-5-21-5-20-4-18-4-18-4-16-4-15-4-15-4-15-4-14-4-13-4-14-3-13-4-13-4-14-5-13-5-14-5-14-6-14-5-15-4-16-4-16-5-17-4-17-4-19-4-19-3-21-3-21-2-23 0-23 0-23 3-24 4-25 6-24 8-24 10-24 11-24 14-23 15-22 17-22 18-21 20-20 22-18 24-17 25-15 26-12 27-9 28-7 29-2 29 1 28 5 28 8 27 11 25 14 25 15 22 18 21 19 20 20 17 21 16 22 14 23 12 24 11 23 8 24 7 24 5 24 4 23 3 22 2 22 1 21 0 20 0 20-1 19-2 18-5 18-4 18-3 16-2 15-3 15-3 15-2 15-3 14-3 14-4 13-3 14-4 14-4 13-4 14-5 13-4 14-5 14-5 14-5 14-5 15-6 16-5 16-6 17-6 18-6 20-7 22-7 24-7 28-7 35" stroke="#ff4300" stroke-opacity="0.50"/>
<path d="M846 4530l-7-32-7-27-7-25-5-23-5-21-5-20-4-18-4-18-4-16-4-15-4-15-4-15-4-14-4-13-4-14-3-13-4-13-5-14-4-13-5-14-6-14-6-14-4-15-4-16-5-16-4-17-4-17-4-19-4-20-4-20-2-21-2-23-1-23 1-24 2-24 4-24 6-25 8-24 10-24 12-23 13-24 15-22 17-22 19-21 20-20 22-19 23-16 25-15 26-12 28-10 28-6 29-3 29 1 28 5 28 9 27 11 26 13 24 16 23 18 21 19 19 20 18 21 16 22 14 23 12 24 10 24 9 24 6 24 6 23 4 23 3 23 1 22 1 21 1 20-1 20-1 19-1 18-5 18-5 18-3 16-2 15-3 15-3 15-2 15-3 14-3 14-4 13-3 14-4 14-4 13-4 14-5 13-4 14-5 14-5 14-5 14-5 15-6 16-5 16-6 17-6 18-6 20-7 22-7 24-7 28-7 35" stroke="#ff3600" stroke-opacity="0.50"/>
<path d="M846 4530l-7-32-7-27-7-24-5-23-5-22-5-20-4-18-4-18-4-16-4-15-4-15-4-15-4-14-4-13-4-14-4-13-3-13-5-14-4-13-5-14-6-14-6-14-4-15-4-16-5-16-4-17-5-18-4-18-4-20-3-20-3-22-2-22-1-23 1-24 2-24 5-25 6-24 8-25 9-24 12-23 13-24 16-22 16-22 19-22 20-19 22-19 24-17 25-14 26-13 28-9 28-6 29-3 29 1 29 5 27 8 27 11 26 14 24 16 23 18 21 19 20 20 17 21 16 23 14 23 12 23 11 24 8 24 7 24 5 24 4 23 3 23 2 22 1 21 0 20-1 20-1 19-1 18-5 18-5 18-3 16-2 15-3 15-3 15-2 15-3 14-3 14-4 13-3 14-4 14-4 13-4 14-5 13-4 14-5 14-5 14-5 14-5 15-6 16-5 16-6 17-6 18-6 20-7 22-7 24-7 28-7 35" stroke="#ff2800" stroke-opacity="0.50"/>
</g></g>
<g clip-path="url(#legC)"><path transform="scale(0.1)" d="M846 4530l-7-32-7-27-7-24-5-23-5-22-5-20-4-18-4-18-4-16-4-15-4-15-4-15-4-14-4-13-4-14-4-13-3-13-5-14-4-13-5-14-6-14-6-14-4-15-4-16-5-16-4-17-5-18-4-18-4-20-3-20-3-22-2-22-1-23 1-24 2-24 5-25 6-24 8-25 9-24 12-23 13-24 16-22 16-22 19-22 20-19 22-19 24-17 25-14 26-13 28-9 28-6 29-3 29 1 29 5 27 8 27 11 26 14 24 16 23 18 21 19 20 20 17 21 16 23 14 23 12 23 11 24 8 24 7 24 5 24 4 23 3 23 2 22 1 21 0 20-1 20-1 19-1 18-5 18-5 18-3 16-2 15-3 15-3 15-2 15-3 14-3 14-4 13-3 14-4 14-4 13-4 14-5 13-4 14-5 14-5 14-5 14-5 15-6 16-5 16-6 17-6 18-6 20-7 22-7 24-7 28-7 35" fill="none" stroke="#ff4020" stroke-width="6"/></g>
<g clip-path="url(#cr0)">
<path d="M181.01 118.26L182.51 118.04L184.01 117.82L185.52 117.60L187.02 117.38L188.52 117.17L190.03 116.95L191.53 116.73L193.03 116.51L194.54 116.30L196.04 116.08L197.54 115.86L199.05 115.64L200.55 115.42L202.05 115.20L203.55 114.97L205.06 114.74L206.56 114.52L208.06 114.28L209.56 114.05L211.06 113.81L212.56 113.57L214.06 113.33L215.55 113.08L217.05 112.83L218.55 112.58L220.04 112.32L221.54 112.05L223.03 111.79L224.52 111.51L226.01 111.23L227.50 110.95L228.99 110.66L230.48 110.36L231.97 110.06L233.46 109.75L234.94 109.44L236.42 109.12L237.91 108.79L239.39 108.45L240.86 108.11L242.34 107.76L243.82 107.40L245.29 107.04L246.76 106.67L248.23 106.28L249.70 105.90L251.17 105.50L252.63 105.09L254.09 104.68L255.55 104.26L257.01 103.83L258.46 103.39L259.91 102.94L261.36 102.48L262.81 102.01L264.25 101.54L265.69 101.05L267.13 100.55L268.57 100.05L270.00 99.53L271.43 99.00L272.86 98.46L274.28 97.92L275.70 97.35L277.11 96.78L278.52 96.19L279.91 95.58L281.30 94.96L282.68 94.32L284.05 93.66L285.41 92.98L286.75 92.28L288.08 91.55L289.40 90.80L290.70 90.02L291.98 89.22L293.25 88.39L294.50 87.53L295.73 86.65L296.95 85.75L298.15 84.82L299.33 83.87L300.50 82.90L301.65 81.91L302.79 80.91L303.92 79.88L305.03 78.84L306.13 77.79L307.21 76.72L308.28 75.64L309.33 74.55L310.38 73.44L311.40 72.31L312.41 71.18L313.41 70.03L314.39 68.87L315.36 67.69L316.31 66.50L317.25 65.31L318.17 64.09L319.07 62.87L319.96 61.64L320.83 60.39L321.69 59.14L322.53 57.87L323.36 56.60L324.16 55.31L324.95 54.01L325.73 52.71L326.49 51.39L327.23 50.07L327.95 48.73L328.66 47.39L329.34 46.04L330.01 44.68L330.67 43.31L331.30 41.94L331.92 40.56L332.53 39.17L333.11 37.77L333.69 36.37L334.25 34.96L334.80 33.55L335.33 32.13L335.86 30.71L336.37 29.28L336.87 27.85L337.36 26.41L337.85 24.97L338.32 23.53L338.79 22.08L339.25 20.63L339.70 19.18L340.15 17.73L340.59 16.27L341.03 14.81L341.46 13.36L341.89 11.90" fill="none" stroke="#3a3a3a" stroke-width="0.95"/>
<path d="M336.25 29.4C336.88 27.62 338.75 22.08 340 18.75C341.25 15.42 343.12 10.96 343.75 9.4" fill="none" stroke="#ff0000" stroke-width="0.9"/>
<path d="M331.61 40.84L333.03 40.13L334.47 39.41L335.91 38.65L337.34 37.88L338.75 37.07L340.14 36.22L341.49 35.34L342.80 34.41L344.05 33.44L345.25 32.41L346.37 31.33L347.42 30.20L348.38 29.00L349.24 27.73L350.00 26.39L350.64 24.98L351.17 23.49L351.56 21.92L351.81 20.27L351.91 18.52L351.85 16.68L351.63 14.74" fill="none" stroke="#0000ff" stroke-width="0.9"/>
<path d="M325.08 51.90L326.53 51.52L327.99 51.17L329.46 50.83L330.93 50.50L332.40 50.19L333.89 49.90L335.37 49.63L336.87 49.36L338.36 49.11L339.86 48.88L341.37 48.65L342.88 48.44L344.39 48.23L345.90 48.04L347.42 47.85L348.94 47.67L350.46 47.50L351.99 47.34L353.51 47.18L355.04 47.03L356.57 46.88L358.10 46.73L359.63 46.59L361.16 46.46L362.70 46.33L364.23 46.20L365.77 46.08L367.31 45.96L368.84 45.85L370.38 45.73L371.92 45.62L373.46 45.51L375.00 45.41L376.54 45.30L378.08 45.20L379.62 45.10L381.16 45.00L382.69 44.91L384.23 44.81L385.77 44.71L387.31 44.62L388.84 44.52L390.38 44.43L391.91 44.34L393.45 44.25L394.98 44.17L396.52 44.09L398.05 44.01L399.59 43.93L401.12 43.87L402.65 43.80L404.19 43.74L405.72 43.69L407.25 43.64L408.79 43.59L410.32 43.56L411.85 43.53L413.38 43.51L414.92 43.49L416.45 43.49L417.98 43.49L419.51 43.50L421.05 43.52L422.58 43.55L424.11 43.59L425.65 43.64L427.18 43.70L428.71 43.77L430.25 43.85L431.78 43.95L433.32 44.05L434.85 44.17L436.39 44.30L437.93 44.45L439.46 44.61L441.00 44.78" fill="none" stroke="#30ff30" stroke-width="0.9"/>
<line x1="341.5" y1="131" x2="341.5" y2="1.6" stroke="#666" stroke-width="1" stroke-dasharray="5.5 4.83"/>
<line x1="343.1" y1="131" x2="343.1" y2="1.6" stroke="#ff8080" stroke-width="1" stroke-dasharray="5.5 4.83"/>
<line x1="351.9" y1="131" x2="351.9" y2="1.6" stroke="#8080ff" stroke-width="1" stroke-dasharray="5.5 4.83"/>
</g>
<g clip-path="url(#cr1)">
<path d="M181.01 279.20L182.54 279.03L184.07 278.86L185.60 278.68L187.12 278.51L188.64 278.33L190.15 278.15L191.66 277.97L193.17 277.79L194.67 277.60L196.17 277.41L197.67 277.21L199.16 277.01L200.66 276.81L202.15 276.60L203.63 276.39L205.12 276.17L206.61 275.95L208.09 275.72L209.58 275.49L211.06 275.25L212.54 275.00L214.03 274.75L215.51 274.49L217.00 274.22L218.48 273.95L219.97 273.67L221.46 273.38L222.95 273.08L224.44 272.77L225.94 272.46L227.44 272.13L228.94 271.80L230.44 271.45L231.94 271.10L233.45 270.73L234.96 270.36L236.46 269.97L237.96 269.56L239.46 269.14L240.96 268.71L242.45 268.26L243.93 267.80L245.41 267.32L246.88 266.82L248.34 266.30L249.79 265.77L251.22 265.21L252.65 264.63L254.06 264.04L255.46 263.42L256.84 262.77L258.21 262.11L259.55 261.41L260.88 260.70L262.20 259.96L263.49 259.19L264.75 258.39L266.00 257.57L267.22 256.71L268.42 255.83L269.59 254.92L270.74 253.98L271.86 253.00L272.95 252.00L274.01 250.96L275.04 249.89L276.05 248.79L277.03 247.67L277.98 246.52L278.90 245.34L279.80 244.14L280.67 242.91L281.52 241.66L282.34 240.39L283.13 239.10L283.90 237.79L284.64 236.46L285.36 235.11L286.06 233.75L286.73 232.37L287.37 230.98L287.99 229.57L288.59 228.16L289.17 226.73L289.72 225.29L290.25 223.84L290.75 222.38L291.24 220.92L291.70 219.45L292.14 217.97L292.56 216.49L292.96 215.01L293.34 213.52L293.70 212.04L294.04 210.55L294.36 209.05L294.67 207.56L294.96 206.06L295.24 204.56L295.51 203.06L295.76 201.56L296.01 200.06L296.24 198.55L296.46 197.04L296.68 195.54L296.89 194.03L297.09 192.52L297.29 191.01L297.49 189.50L297.68 187.99L297.87 186.48L298.06 184.98L298.25 183.47L298.45 181.96L298.64 180.45L298.84 178.94L299.04 177.44L299.25 175.93L299.47 174.43L299.69 172.93L299.92 171.43L300.16 169.93L300.41 168.44L300.67 166.94L300.95 165.45L301.23 163.96L301.54 162.47L301.86 160.99L302.19 159.51L302.54 158.03" fill="none" stroke="#3a3a3a" stroke-width="0.95"/>
<path d="M294.10 206.50L294.42 204.96L294.76 203.44L295.12 201.91L295.50 200.40L295.90 198.88L296.32 197.37L296.75 195.87L297.19 194.37L297.64 192.87L298.10 191.37L298.56 189.88L299.03 188.39L299.50 186.89L299.97 185.40L300.44 183.91L300.91 182.42L301.38 180.92L301.83 179.42L302.28 177.93L302.72 176.42L303.15 174.92L303.56 173.41L303.95 171.90L304.33 170.38L304.69 168.86L305.03 167.33L305.34 165.79L305.63 164.25L305.89 162.70L306.13 161.14L306.33 159.58L306.50 158.00" fill="none" stroke="#ff0000" stroke-width="0.9"/>
<path d="M292.19 216.70L292.63 215.18L293.07 213.68L293.53 212.17L294.01 210.67L294.49 209.17L294.98 207.68L295.49 206.19L296.00 204.70L296.52 203.22L297.06 201.74L297.60 200.26L298.15 198.79L298.70 197.32L299.27 195.85L299.84 194.38L300.41 192.92L300.99 191.45L301.58 189.99L302.17 188.53L302.77 187.07L303.37 185.62L303.97 184.16L304.57 182.71L305.18 181.26L305.79 179.80L306.40 178.35L307.01 176.90L307.62 175.45L308.23 174.00L308.84 172.55L309.45 171.10L310.06 169.64L310.66 168.19L311.27 166.74L311.87 165.29L312.46 163.83L313.05 162.38L313.64 160.92L314.22 159.46L314.80 158.00" fill="none" stroke="#0000ff" stroke-width="0.9"/>
<path d="M271.72 253.47L273.22 253.28L274.72 253.10L276.22 252.92L277.73 252.74L279.23 252.56L280.74 252.39L282.24 252.22L283.75 252.05L285.25 251.88L286.76 251.72L288.27 251.55L289.77 251.39L291.28 251.23L292.79 251.07L294.30 250.92L295.81 250.76L297.31 250.61L298.82 250.46L300.33 250.31L301.84 250.16L303.35 250.01L304.86 249.86L306.37 249.72L307.88 249.57L309.39 249.43L310.90 249.28L312.41 249.14L313.92 249.00L315.43 248.86L316.94 248.71L318.46 248.57L319.97 248.43L321.48 248.29L322.99 248.15L324.50 248.01L326.01 247.87L327.52 247.73L329.03 247.59L330.55 247.45L332.06 247.31L333.57 247.17L335.08 247.03L336.59 246.89L338.10 246.75L339.61 246.61L341.12 246.46L342.63 246.32L344.15 246.17L345.66 246.03L347.17 245.88L348.68 245.73L350.19 245.58L351.70 245.43L353.21 245.28L354.72 245.13L356.23 244.97L357.74 244.82L359.24 244.66L360.75 244.50L362.26 244.34L363.77 244.18L365.28 244.01L366.79 243.85L368.29 243.68L369.80 243.51L371.31 243.33L372.81 243.16L374.32 242.98L375.82 242.80L377.33 242.62L378.83 242.43L380.34 242.25L381.84 242.06L383.35 241.86L384.85 241.67L386.35 241.47L387.85 241.27L389.36 241.06L390.86 240.85L392.36 240.64L393.86 240.43L395.36 240.21L396.86 239.99L398.35 239.76L399.85 239.53L401.35 239.30L402.85 239.06L404.34 238.82L405.84 238.58L407.33 238.33L408.83 238.08L410.32 237.82L411.81 237.56L413.30 237.30L414.80 237.03L416.29 236.76L417.78 236.48L419.27 236.20L420.76 235.91L422.24 235.62L423.73 235.32L425.22 235.02L426.70 234.71L428.19 234.40L429.67 234.09L431.15 233.77L432.63 233.44L434.12 233.11L435.60 232.77L437.08 232.43L438.55 232.08L440.03 231.72" fill="none" stroke="#30ff30" stroke-width="0.9"/>
<line x1="301.5" y1="291.6" x2="301.5" y2="162.2" stroke="#666" stroke-width="1" stroke-dasharray="5.5 4.83"/>
<line x1="305.4" y1="291.6" x2="305.4" y2="162.2" stroke="#ff8080" stroke-width="1" stroke-dasharray="5.5 4.83"/>
<line x1="316.8" y1="291.6" x2="316.8" y2="162.2" stroke="#8080ff" stroke-width="1" stroke-dasharray="5.5 4.83"/>
</g>
<g clip-path="url(#cr2)">
<path d="M181.09 438.40L182.57 438.17L184.06 437.95L185.54 437.72L187.03 437.50L188.52 437.27L190.00 437.05L191.49 436.83L192.98 436.60L194.47 436.38L195.96 436.16L197.45 435.93L198.94 435.71L200.43 435.48L201.92 435.25L203.41 435.02L204.90 434.79L206.39 434.55L207.89 434.32L209.38 434.08L210.87 433.83L212.36 433.58L213.85 433.33L215.34 433.08L216.83 432.82L218.33 432.55L219.82 432.29L221.31 432.01L222.79 431.73L224.28 431.45L225.77 431.15L227.26 430.86L228.75 430.55L230.23 430.24L231.72 429.92L233.21 429.60L234.69 429.27L236.17 428.92L237.66 428.58L239.14 428.22L240.62 427.85L242.10 427.48L243.57 427.09L245.05 426.70L246.52 426.29L247.99 425.88L249.46 425.45L250.93 425.02L252.39 424.57L253.84 424.11L255.29 423.64L256.74 423.16L258.18 422.66L259.62 422.15L261.05 421.63L262.47 421.10L263.89 420.55L265.29 419.99L266.70 419.41L268.09 418.82L269.47 418.21L270.85 417.59L272.22 416.95L273.58 416.29L274.93 415.62L276.26 414.93L277.59 414.23L278.91 413.51L280.21 412.77L281.51 412.01L282.79 411.24L284.06 410.44L285.32 409.63L286.56 408.80L287.79 407.94L289.01 407.07L290.21 406.18L291.40 405.27L292.57 404.33L293.73 403.38L294.87 402.41L296.00 401.41L297.11 400.40L298.20 399.37L299.28 398.33L300.35 397.26L301.40 396.18L302.43 395.07L303.44 393.96L304.44 392.82L305.42 391.67L306.38 390.51L307.33 389.32L308.26 388.13L309.17 386.92L310.06 385.69L310.94 384.45L311.79 383.20L312.63 381.93L313.45 380.65L314.25 379.36L315.04 378.06L315.80 376.74L316.54 375.42L317.27 374.08L317.97 372.73L318.66 371.37L319.32 370.00L319.97 368.62L320.59 367.24L321.20 365.84L321.78 364.43L322.35 363.02L322.89 361.60L323.41 360.17L323.91 358.74L324.39 357.29L324.84 355.84L325.28 354.39L325.69 352.93L326.08 351.46L326.45 349.99L326.79 348.52L327.11 347.04L327.41 345.56L327.69 344.07L327.94 342.58L328.17 341.09L328.38 339.60L328.56 338.10L328.72 336.60L328.85 335.10L328.96 333.60" fill="none" stroke="#3a3a3a" stroke-width="0.95"/>
<path d="M324.25 357.00L325.27 355.69L326.26 354.35L327.21 352.97L328.11 351.56L328.96 350.12L329.75 348.65L330.48 347.14L331.13 345.61L331.69 344.04L332.16 342.45L332.54 340.83L332.81 339.18L332.97 337.50L333.00 335.80" fill="none" stroke="#ff0000" stroke-width="0.9"/>
<path d="M316.32 375.19L317.62 374.85L318.94 374.52L320.30 374.21L321.68 373.90L323.08 373.60L324.51 373.31L325.96 373.03L327.43 372.75L328.91 372.47L330.41 372.20L331.93 371.93L333.46 371.65L335.01 371.38L336.56 371.11L338.13 370.83L339.70 370.55L341.28 370.26L342.86 369.96L344.44 369.66L346.03 369.35L347.61 369.03L349.20 368.69L350.78 368.35L352.35 367.99L353.92 367.61L355.48 367.22L357.04 366.81L358.58 366.39L360.11 365.94L361.62 365.47L363.12 364.98L364.60 364.47L366.07 363.93L367.51 363.37L368.93 362.78L370.33 362.16L371.71 361.52L373.05 360.84L374.38 360.13L375.67 359.39L376.93 358.62L378.15 357.81L379.35 356.97L380.51 356.08L381.63 355.16L382.71 354.20L383.75 353.20L384.75 352.16L385.71 351.07L386.62 349.94L387.49 348.77L388.31 347.54L389.08 346.27L389.80 344.95L390.47 343.58L391.08 342.16L391.64 340.69L392.14 339.16L392.58 337.58L392.96 335.95L393.29 334.25L393.54 332.50" fill="none" stroke="#0000ff" stroke-width="0.9"/>
<path d="M310.29 384.58L311.80 384.39L313.31 384.20L314.82 384.01L316.34 383.82L317.85 383.64L319.36 383.45L320.87 383.27L322.39 383.09L323.90 382.90L325.41 382.72L326.93 382.54L328.44 382.36L329.96 382.19L331.47 382.01L332.99 381.84L334.50 381.66L336.02 381.49L337.53 381.32L339.05 381.15L340.56 380.98L342.08 380.82L343.59 380.65L345.11 380.49L346.63 380.32L348.14 380.16L349.66 380.00L351.18 379.84L352.69 379.69L354.21 379.53L355.73 379.38L357.25 379.22L358.76 379.07L360.28 378.92L361.80 378.77L363.32 378.63L364.84 378.48L366.36 378.34L367.87 378.20L369.39 378.06L370.91 377.92L372.43 377.79L373.95 377.65L375.47 377.52L376.99 377.39L378.51 377.26L380.03 377.13L381.55 377.01L383.07 376.88L384.59 376.76L386.11 376.64L387.63 376.52L389.15 376.41L390.67 376.29L392.19 376.18L393.72 376.07L395.24 375.96L396.76 375.85L398.28 375.75L399.80 375.65L401.32 375.55L402.85 375.45L404.37 375.35L405.89 375.26L407.41 375.17L408.93 375.08L410.46 374.99L411.98 374.90L413.50 374.82L415.02 374.74L416.55 374.66L418.07 374.59L419.59 374.51L421.11 374.44L422.64 374.37L424.16 374.30L425.68 374.24L427.21 374.18L428.73 374.12L430.25 374.06L431.78 374.00L433.30 373.95L434.83 373.90L436.35 373.85L437.87 373.81L439.40 373.77" fill="none" stroke="#30ff30" stroke-width="0.9"/>
<line x1="328.4" y1="452.2" x2="328.4" y2="322.8" stroke="#666" stroke-width="1" stroke-dasharray="5.5 4.83"/>
<line x1="332.5" y1="452.2" x2="332.5" y2="322.8" stroke="#ff8080" stroke-width="1" stroke-dasharray="5.5 4.83"/>
<line x1="393.7" y1="452.2" x2="393.7" y2="322.8" stroke="#8080ff" stroke-width="1" stroke-dasharray="5.5 4.83"/>
</g>
</svg></body></html>
